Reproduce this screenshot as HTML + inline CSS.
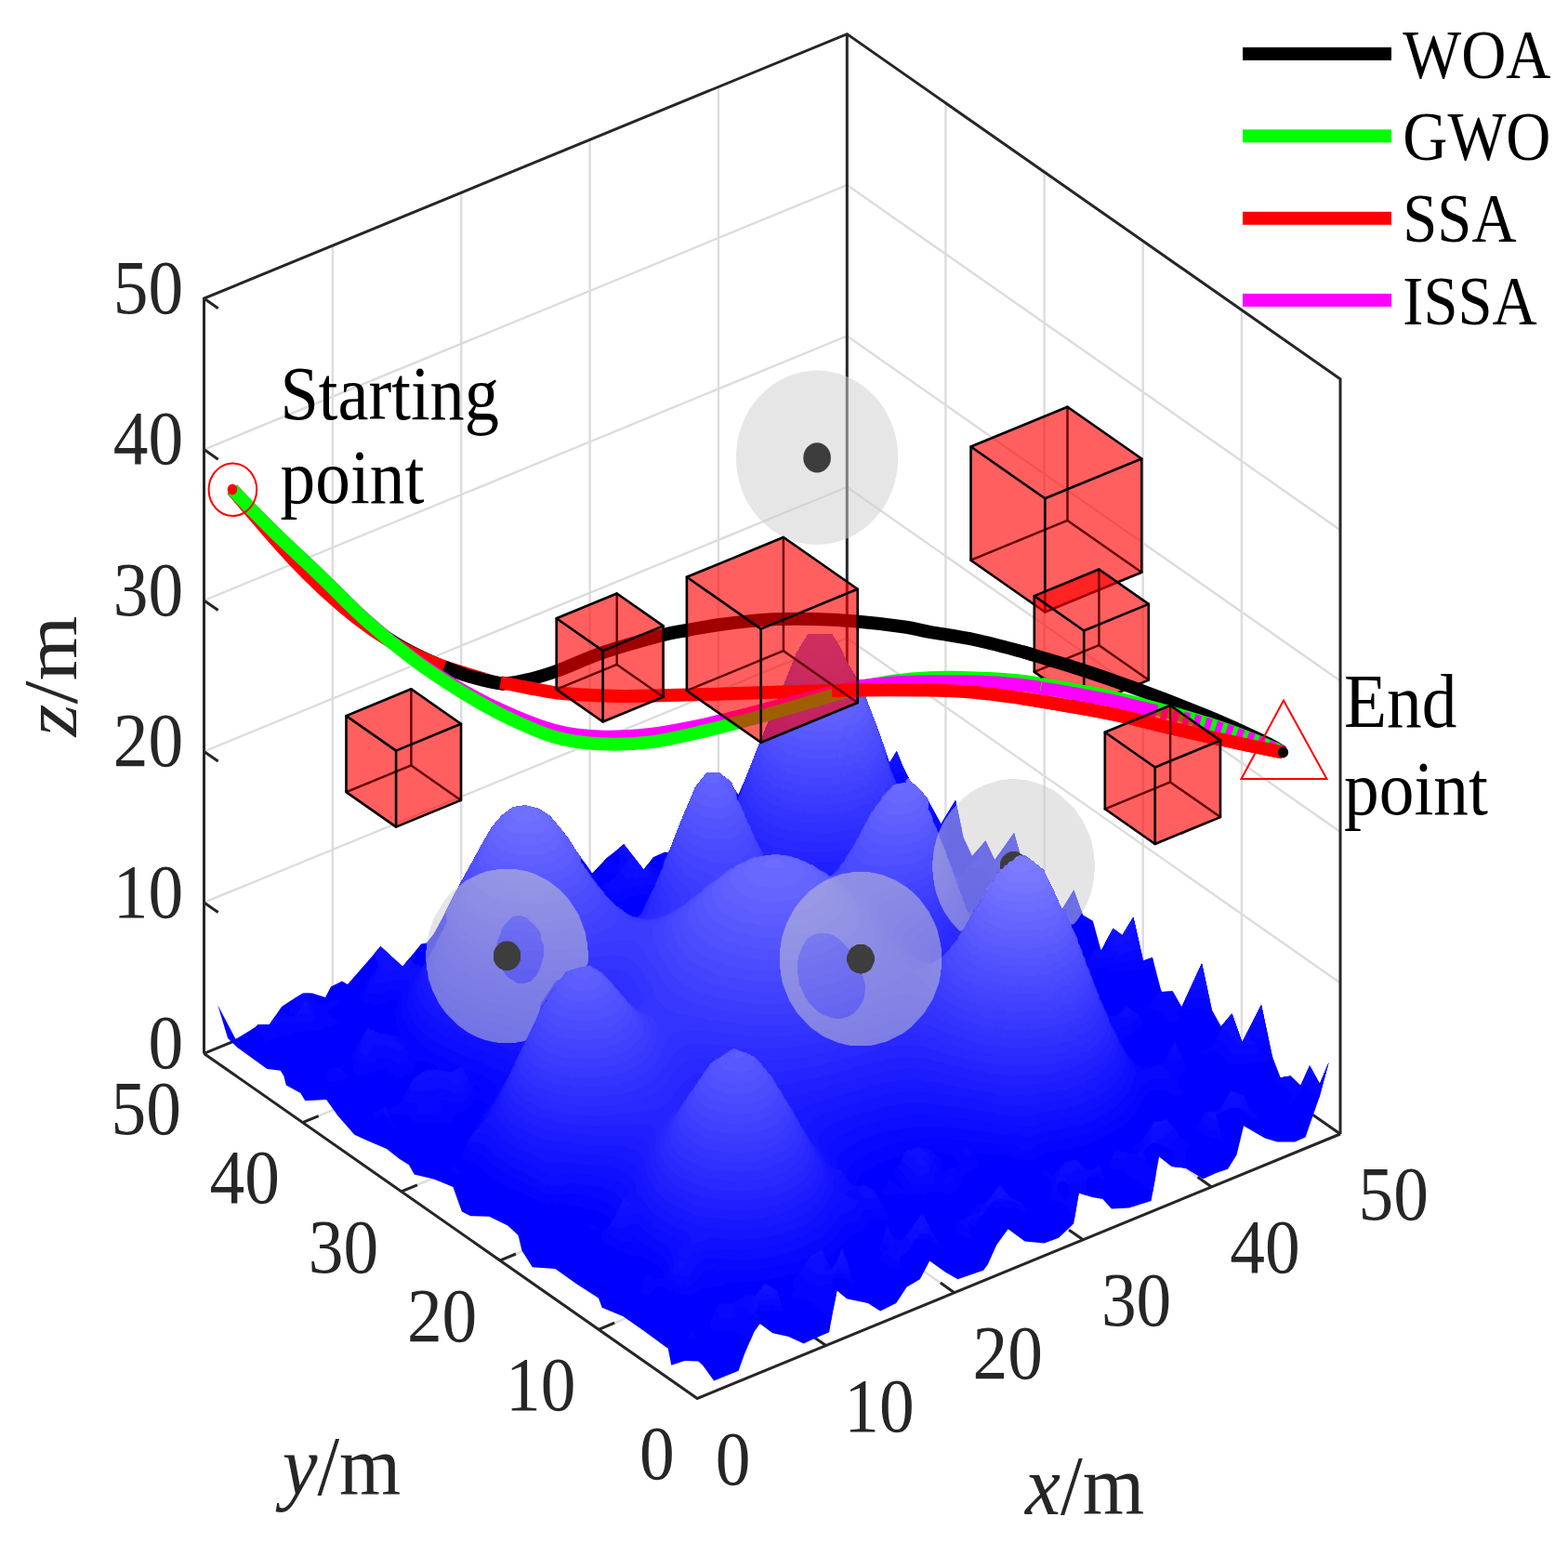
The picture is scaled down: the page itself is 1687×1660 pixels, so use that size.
<!DOCTYPE html>
<html lang="en"><head><meta charset="utf-8"><title>UAV path planning comparison</title>
<style>html,body{margin:0;padding:0;background:#fff;overflow:hidden}svg{display:block}text{font-family:"Liberation Serif","Times New Roman",serif}</style></head>
<body><svg xmlns="http://www.w3.org/2000/svg" width="1687" height="1660" viewBox="0 0 1687 1660">
<rect width="1687" height="1660" fill="#fff"/>
<g id="grid"><line x1="888.6" y1="1447.6" x2="357.9" y2="1076.5" stroke="#dcdcdc" stroke-width="2.4"/><line x1="644.1" y1="1430.3" x2="1335.9" y2="1145.8" stroke="#dcdcdc" stroke-width="2.4"/><line x1="357.9" y1="1076.5" x2="357.9" y2="264.2" stroke="#dcdcdc" stroke-width="2.4"/><line x1="219.5" y1="970.9" x2="911.3" y2="686.4" stroke="#dcdcdc" stroke-width="2.4"/><line x1="1335.9" y1="1145.8" x2="1335.9" y2="333.5" stroke="#dcdcdc" stroke-width="2.4"/><line x1="1442" y1="1057.5" x2="911.3" y2="686.4" stroke="#dcdcdc" stroke-width="2.4"/><line x1="1026.9" y1="1390.7" x2="496.2" y2="1019.6" stroke="#dcdcdc" stroke-width="2.4"/><line x1="537.9" y1="1356.1" x2="1229.7" y2="1071.6" stroke="#dcdcdc" stroke-width="2.4"/><line x1="496.2" y1="1019.6" x2="496.2" y2="207.3" stroke="#dcdcdc" stroke-width="2.4"/><line x1="219.5" y1="808.5" x2="911.3" y2="524" stroke="#dcdcdc" stroke-width="2.4"/><line x1="1229.7" y1="1071.6" x2="1229.7" y2="259.3" stroke="#dcdcdc" stroke-width="2.4"/><line x1="1442" y1="895.1" x2="911.3" y2="524" stroke="#dcdcdc" stroke-width="2.4"/><line x1="1165.3" y1="1333.8" x2="634.6" y2="962.7" stroke="#dcdcdc" stroke-width="2.4"/><line x1="431.8" y1="1281.8" x2="1123.6" y2="997.3" stroke="#dcdcdc" stroke-width="2.4"/><line x1="634.6" y1="962.7" x2="634.6" y2="150.4" stroke="#dcdcdc" stroke-width="2.4"/><line x1="219.5" y1="646" x2="911.3" y2="361.5" stroke="#dcdcdc" stroke-width="2.4"/><line x1="1123.6" y1="997.3" x2="1123.6" y2="185" stroke="#dcdcdc" stroke-width="2.4"/><line x1="1442" y1="732.6" x2="911.3" y2="361.5" stroke="#dcdcdc" stroke-width="2.4"/><line x1="1303.6" y1="1276.9" x2="772.9" y2="905.8" stroke="#dcdcdc" stroke-width="2.4"/><line x1="325.6" y1="1207.6" x2="1017.4" y2="923.1" stroke="#dcdcdc" stroke-width="2.4"/><line x1="772.9" y1="905.8" x2="772.9" y2="93.5" stroke="#dcdcdc" stroke-width="2.4"/><line x1="219.5" y1="483.6" x2="911.3" y2="199.1" stroke="#dcdcdc" stroke-width="2.4"/><line x1="1017.4" y1="923.1" x2="1017.4" y2="110.8" stroke="#dcdcdc" stroke-width="2.4"/><line x1="1442" y1="570.2" x2="911.3" y2="199.1" stroke="#dcdcdc" stroke-width="2.4"/></g>
<g id="box"><polyline fill="none" stroke="#262626" stroke-width="3.0" stroke-linejoin="miter" points="219.5,1133.4 219.5,321.1 911.3,36.6 1442,407.7 1442,1220"/><line x1="911.3" y1="36.6" x2="911.3" y2="848.9" stroke="#262626" stroke-width="3.0"/><line x1="219.5" y1="1133.4" x2="911.3" y2="848.9" stroke="#262626" stroke-width="3.0"/><line x1="1442" y1="1220" x2="911.3" y2="848.9" stroke="#262626" stroke-width="3.0"/></g>
<g id="axes"><polyline fill="none" stroke="#262626" stroke-width="3.0" stroke-linejoin="miter" points="219.5,1133.4 750.2,1504.5 1442,1220"/><line x1="219.5" y1="970.9" x2="234.7" y2="981.5" stroke="#262626" stroke-width="3.0"/><line x1="644.1" y1="1430.3" x2="661.2" y2="1423.2" stroke="#262626" stroke-width="3.0"/><line x1="888.6" y1="1447.6" x2="873.4" y2="1437" stroke="#262626" stroke-width="3.0"/><line x1="219.5" y1="808.5" x2="234.7" y2="819.1" stroke="#262626" stroke-width="3.0"/><line x1="537.9" y1="1356.1" x2="555" y2="1349" stroke="#262626" stroke-width="3.0"/><line x1="1026.9" y1="1390.7" x2="1011.8" y2="1380.1" stroke="#262626" stroke-width="3.0"/><line x1="219.5" y1="646" x2="234.7" y2="656.6" stroke="#262626" stroke-width="3.0"/><line x1="431.8" y1="1281.8" x2="448.9" y2="1274.8" stroke="#262626" stroke-width="3.0"/><line x1="1165.3" y1="1333.8" x2="1150.1" y2="1323.2" stroke="#262626" stroke-width="3.0"/><line x1="219.5" y1="483.6" x2="234.7" y2="494.2" stroke="#262626" stroke-width="3.0"/><line x1="325.6" y1="1207.6" x2="342.7" y2="1200.6" stroke="#262626" stroke-width="3.0"/><line x1="1303.6" y1="1276.9" x2="1288.5" y2="1266.3" stroke="#262626" stroke-width="3.0"/><line x1="219.5" y1="321.1" x2="234.7" y2="331.7" stroke="#262626" stroke-width="3.0"/></g>
<g id="sphere1"><ellipse cx="879.1" cy="492.3" rx="87.2" ry="93.7" fill="#cecece" fill-opacity="0.515"/><ellipse cx="879.1" cy="492.4" rx="14.8" ry="16.1" fill="#3d3d3d"/></g>
<g id="terrain"><defs><clipPath id="tc"><polygon points="245.1,1116.9 234.3,1081.3 253.6,1118 275.2,1104.8 277.5,1102.5 289.7,1102.4 303,1083.1 312,1077 325.8,1068.7 336,1068.5 350,1072.9 356,1061.4 368,1055.4 374,1059 409.5,1018.3 433.2,1040.1 453.1,1015.5 458.8,1014.5 466.4,1005 475.9,988 485.4,969 496.7,948.1 506.2,931 517.6,910.2 529,890.3 540.4,877 551.7,868.5 565,866.6 580.2,870.3 591.6,877.9 601.1,889.3 610.5,900.7 620,915.9 631.4,931 637.1,939.6 652.3,923.5 671.2,908.3 692.6,935.8 702.6,922.3 715.4,916.6 719,917.3 721.1,913.7 725.4,902.3 731,888.1 736.7,873.9 742.4,861.1 748.1,846.9 760.9,830.9 773,830.9 786.5,841.2 789.4,848.3 794.4,854.7 800.8,841.2 806.5,826.9 812.1,812.7 819.3,794.8 830,769 842.8,738.8 857.2,702.7 869.9,681.9 895.2,682.8 904.2,697.2 911.5,713.5 920.5,728 923.5,737 930.6,748.5 937,765.6 944.1,784.1 949.8,799.8 956.9,821.1 964.7,808.3 971.1,823.9 979.7,841 988.2,848.1 996.7,858.1 1003.9,870.9 1012.4,886.5 1028,860.9 1032.3,880.8 1036.6,900.8 1045.9,920.7 1060.3,904.4 1070.2,925.2 1091,896.3 1097.4,918.9 1104,921 1122.7,936 1132,955 1142.5,978.5 1155.3,957.5 1165,984.6 1175.9,991 1184.6,1022.5 1197.6,998.7 1207.4,1006.3 1219.3,986.7 1230,1033.4 1239.9,1030 1249.6,1067 1261.6,1066.6 1271.3,1083.3 1293,1036.6 1303.9,1086.5 1313.6,1103.9 1325.5,1090.4 1336.4,1121.2 1357,1081 1368.9,1136.4 1377.6,1159.2 1388.4,1157.6 1399.3,1167.8 1409,1146.2 1419.9,1165.7 1429.6,1142.9 1419.7,1180 1413,1199 1404.5,1223.6 1393.1,1228.4 1374.2,1228.4 1360.9,1224.6 1338.1,1211.3 1330.5,1242.6 1321,1257.8 1309.7,1261.6 1294.5,1268.2 1275.5,1256.8 1260.4,1254.9 1247.1,1244.5 1238.5,1291.9 1214.8,1299.5 1195.9,1300.4 1186.4,1290 1175,1288.1 1160.8,1283.4 1155.1,1316.6 1139,1331.7 1123.5,1337.4 1102.6,1335.5 1084.6,1322.2 1072.3,1339.3 1062.8,1360.2 1058,1366.8 1030.5,1376.3 1017.3,1368.7 1000.2,1356.4 989.8,1376.3 975.5,1384.8 964.2,1401.9 947.1,1410.4 933.8,1401.9 911,1397.2 900.6,1388.6 895.9,1411.4 892.1,1433.2 876.9,1439.8 864.6,1445.5 848.5,1438 831.4,1434.2 817.5,1424.1 811.4,1432.5 800.6,1457.8 794.6,1474.7 768.1,1485.5 756,1468.7 751.2,1464.5 736.7,1463.9 722.3,1468.7 718.7,1450.6 716.9,1449.5 692.3,1431.5 670.5,1416.3 647.7,1406.8 643.9,1396.4 620.2,1381.2 597.4,1365.1 572.8,1363.2 561.4,1345.2 557.6,1329.1 546.2,1318.6 526.3,1308.8 506.4,1308.2 496.9,1303.5 487.4,1276.9 466.6,1268.4 445.7,1263.6 440,1253.2 430,1247 416,1236 395,1227 381.3,1220.8 363.2,1200 351.1,1183.1 328.3,1184.3 323.4,1175.9 307.8,1167.5 305.4,1157.8 301.7,1151.8 287.3,1150 254.8,1126.5"/></clipPath></defs>
<polygon points="245.1,1116.9 234.3,1081.3 253.6,1118 275.2,1104.8 277.5,1102.5 289.7,1102.4 303,1083.1 312,1077 325.8,1068.7 336,1068.5 350,1072.9 356,1061.4 368,1055.4 374,1059 409.5,1018.3 433.2,1040.1 453.1,1015.5 458.8,1014.5 466.4,1005 475.9,988 485.4,969 496.7,948.1 506.2,931 517.6,910.2 529,890.3 540.4,877 551.7,868.5 565,866.6 580.2,870.3 591.6,877.9 601.1,889.3 610.5,900.7 620,915.9 631.4,931 637.1,939.6 652.3,923.5 671.2,908.3 692.6,935.8 702.6,922.3 715.4,916.6 719,917.3 721.1,913.7 725.4,902.3 731,888.1 736.7,873.9 742.4,861.1 748.1,846.9 760.9,830.9 773,830.9 786.5,841.2 789.4,848.3 794.4,854.7 800.8,841.2 806.5,826.9 812.1,812.7 819.3,794.8 830,769 842.8,738.8 857.2,702.7 869.9,681.9 895.2,682.8 904.2,697.2 911.5,713.5 920.5,728 923.5,737 930.6,748.5 937,765.6 944.1,784.1 949.8,799.8 956.9,821.1 964.7,808.3 971.1,823.9 979.7,841 988.2,848.1 996.7,858.1 1003.9,870.9 1012.4,886.5 1028,860.9 1032.3,880.8 1036.6,900.8 1045.9,920.7 1060.3,904.4 1070.2,925.2 1091,896.3 1097.4,918.9 1104,921 1122.7,936 1132,955 1142.5,978.5 1155.3,957.5 1165,984.6 1175.9,991 1184.6,1022.5 1197.6,998.7 1207.4,1006.3 1219.3,986.7 1230,1033.4 1239.9,1030 1249.6,1067 1261.6,1066.6 1271.3,1083.3 1293,1036.6 1303.9,1086.5 1313.6,1103.9 1325.5,1090.4 1336.4,1121.2 1357,1081 1368.9,1136.4 1377.6,1159.2 1388.4,1157.6 1399.3,1167.8 1409,1146.2 1419.9,1165.7 1429.6,1142.9 1419.7,1180 1413,1199 1404.5,1223.6 1393.1,1228.4 1374.2,1228.4 1360.9,1224.6 1338.1,1211.3 1330.5,1242.6 1321,1257.8 1309.7,1261.6 1294.5,1268.2 1275.5,1256.8 1260.4,1254.9 1247.1,1244.5 1238.5,1291.9 1214.8,1299.5 1195.9,1300.4 1186.4,1290 1175,1288.1 1160.8,1283.4 1155.1,1316.6 1139,1331.7 1123.5,1337.4 1102.6,1335.5 1084.6,1322.2 1072.3,1339.3 1062.8,1360.2 1058,1366.8 1030.5,1376.3 1017.3,1368.7 1000.2,1356.4 989.8,1376.3 975.5,1384.8 964.2,1401.9 947.1,1410.4 933.8,1401.9 911,1397.2 900.6,1388.6 895.9,1411.4 892.1,1433.2 876.9,1439.8 864.6,1445.5 848.5,1438 831.4,1434.2 817.5,1424.1 811.4,1432.5 800.6,1457.8 794.6,1474.7 768.1,1485.5 756,1468.7 751.2,1464.5 736.7,1463.9 722.3,1468.7 718.7,1450.6 716.9,1449.5 692.3,1431.5 670.5,1416.3 647.7,1406.8 643.9,1396.4 620.2,1381.2 597.4,1365.1 572.8,1363.2 561.4,1345.2 557.6,1329.1 546.2,1318.6 526.3,1308.8 506.4,1308.2 496.9,1303.5 487.4,1276.9 466.6,1268.4 445.7,1263.6 440,1253.2 430,1247 416,1236 395,1227 381.3,1220.8 363.2,1200 351.1,1183.1 328.3,1184.3 323.4,1175.9 307.8,1167.5 305.4,1157.8 301.7,1151.8 287.3,1150 254.8,1126.5" fill="#0000ff"/>
<g clip-path="url(#tc)">
<path fill="#0404ff" d="M743,1431l-2.5,8.5 1,1 4.5,.5 0-1.5 1.5-.5 .5,2 4.5,4-2.5-3-1-3.5zM837,1389l-2-2-6.5-3-.5-1-5-2-.5,1-2.5,1-1,3.5-3,1.5-1,3.5-2,.5-1.5,2-.5-1-7.5,0-2-1-2,3-5,2-6,5-14,0-3.5,4.5-5,11.5-1.5,1.5 .5,2.5-1.5,2.5 1,1-.5,1 .5,2.5 1.5,1 1.5,0 .5,2 1,0 0-1.5 1.5-1.5 .5,2 2,.5 .5,2 .5-2 1.5,.5 5-1 10,1 11.5,5.5 8.5,8 1-2.5 1-.5 0-2.5 1-.5 1-3.5 2-1.5 0-1.5 2.5-2.5-1-1 0-6.5-1-.5 0-6-4-5 2-2.5 0-2 1.5,0 5,5 1-2 5,2 1.5-1.5 2,0 4.5,2 .5-1.5 1.5-1 .5,1.5 2,.5 3-3zM993,1305l-4,3-2,4.5-4,3.5-1,3.5-5,4.5 0,1.5-5,5.5 0,1.5-2.5,1.5-3,0-4-2-1.5-3-3-2.5-3-8.5-1,0-1,4.5-1,.5 0,3.5-1,.5 0,3.5-1,.5-3,8.5 .5,3-1.5,1 .5,4 2-1.5 1.5,.5-1,.5-1,4.5-1,1 0,2.5 2,2 7.5,6 15.5,3-3-3 0-2-1-.5 0-8 6.5-3.5 3.5-3.5 2-5 3-2.5 0-1.5 1-.5 0-1.5 1.5-1.5 10,0 7,2 9.5,7-7-14-2-1.5zM1106,1303.5l-6.5-10.5-1.5-1-4.5,0-1.5-2-3.5-1-8.5-8.5 0-1.5-5-5-1,2.5-3,2.5-1,3.5-6,6.5-.5,2-1.5,0-2.5,3-6.5,1-3,1-6,9.5 2,1-1.5,1.5-1.5,0-.5,1-2.5,0-1.5,2-5,1-7,8.5 1.5,.5 3,6.5 6.5,3.5 6,2 2,0 1,1-2.5-8 1-6.5 4.5-1 8.5-13 3-2.5 0-1.5 2.5-1.5 1,1 2.5-1.5-.5-1 1-1 1.5,2 4,0 .5,2 0-1.5 2-2 1,2 1-1 6.5,.5 .5,2 1.5-2.5 1.5,2 1-2 2,0 12.5,6zM488,1253l-4.5,6 6.5,2.5 2.5,2.5 2-1.5-1.5-4zM1156,1247l-.5,1-6.5,1-.5,1-4.5,1-1,2.5-3,1.5-1,3.5-3,2-2.5,4.5-3-3-1.5,0-1.5-2-4-2-3,4 8.5,6 1.5,2.5 0,8 1.5,1-2,6 0,3.5 2,2-1,2.5 3-1.5 10,3.5 4.5,2.5 4.5,8.5 6.5,7.5 0-2 1-.5 0-5.5 1-.5 0-4.5 1-.5 0-5.5 1-.5 0-5.5 2.5-.5 .5,1 3.5,1-1-2 0-17 2-4 2.5-2 5.5,.5 5.5,2 4,0 .5-.5-2-3 0-2-4-9.5-6.5,5-5,0-5-2-5.5-5.5 0-1.5-2-2zM1142.5,1271l4,1 3.5,3.5 0,9-3,5-.5,3-2-2 .5-1.5-3-2.5 0-1.5-5-5 0-2.5 2-5zM1256,1204l-3,0-3.5,2-3.5,0-.5,1-4.5,0-1,1-4,8.5-3,2.5 0,1.5-3,3 0,1-8,6.5-5,2.5 4.5,6-.5,1.5-8.5-1-1-1-5,0-4-2-3,0-7,17.5 1-.5 1.5,2.5 3.5,1.5 3-.5 8,1.5 3.5,4.5 9.5,6.5 2,2.5 1.5,0 1.5,2 11.5,6.5 4.5,4 1,0 1-10 1-.5-.5-5.5-4-8-2-1.5 0-1.5-4-4.5-1-3.5-2-1.5 0-2-2-4 0-4 3-2.5 0-1.5 5.5-4.5 5,0 .5,1 2.5,0 4,2 2,2 3,0 1.5,2 3.5,1 2,3-1,1.5 0,17 7.5,0 .5,1 4,0 1-19.5 2-3.5 0-4 2-2-2.5-4-2-.5-8-8 0-2-4-3.5 0-1.5-5-4.5 0-1.5zM1354.5,1202.5l-2.5-1.5 0-1.5-1,0-5-6-7-15.5-5.5-1-2.5-2-7-1-3,4 0,1.5-2,1.5-3,6.5-6.5,6.5-3,2-10.5,0-6,11.5-2.5,3 0,2 1.5,1 0,2 9.5,6.5 13.5,4 2.5,0 1,1 .5-1.5-3-7 0-3-2-4 0-5-1-1 0-2.5-1-.5 0-3 1.5-1.5 4.5-.5 .5,1 .5-2 1.5,0 3-2 1,.5 3-3 9.5,0 1.5,2.5 2-.5 6,6 1,0 4,5 1.5-1.5 3.5,0zM352,1151.5l.5,1-1,1 0,1.5 1.5,.5-1,2.5 1.5,4 2.5,2 8.5-.5 8.5-3.5 .5-3.5-2.5-1.5-5.5-7-5.5,0-1.5,1-5,0zM1433.5,1140.5l-6,0-3,6 0,2.5-3.5,6.5-2,0-6.5-12-6,0 0,1.5-1,.5 0,1.5-1,.5 0,1.5-1,.5 0,1.5-2,2.5 0,2.5-1,.5-1.5,4-3,0-4.5-5-10.5,0-6,8 2.5,4.5 3.5,2.5 9.5,4.5 0,4-2.5,5.5 .5,3 4,1-3-2.5 0-1 3.5-2.5 1-3 6-6 1-3 3-2.5 11,10 4.5,2 .5,2 2,1.5 0,1.5 1.5-.5 1-6.5 1-.5 0-3.5 1-.5 1-6.5 1-.5 0-3.5 1-.5 0-3.5 1-.5 1-6.5 1-.5 0-3.5 1-.5zM1360.5,1078.5l-6,0-1,1-8,17.5-2,1.5-2,5.5-1,.5 0,1.5-1,.5 0,1.5-1,.5-.5,2-2.5-2.5-1-6.5-1-.5 0-2.5-1-.5 0-2.5-1-.5 0-2.5-1-.5-1-4.5-6,0-7,8 .5,2.5 1,.5 0,3-3,2.5 0,1.5-4,4.5-4,8.5 1,1-2,4-4.5,4-5,2-1.5,2-1,0 0,1.5 3-.5 2.5-2.5 1,1 8,0 6,3 1.5,1.5 2,4.5 3,3.5 4,1 19,.5 .5-2 1,2 1.5-2 2,1.5 0,2 2-3 1.5-1.5 1.5,0 .5-1 .5,2 6-1 12-6.5-.5-.5 0-3.5-1-.5 0-3.5-1-.5-1-9.5-1-.5 0-3.5-1-.5 0-4.5-1-.5 0-3.5-1-.5 0-4.5-1-.5 0-3.5-1-.5 0-4.5-1-.5 0-4.5-1-.5zM366,1079l-1-1.5-5.5-3.5-7.5,6-8,.5-9-8-1-6-10.5,0-6,3-1.5,2-1,0 2,4-4,8-2,2 0,2.5 1,2.5 4.5,1.5 0,1-6,0-7-5-7,6-3-3-1,.5 0,1.5-2,1.5 0,1.5-2,1.5-.5,2-5.5,0-.5,1-6.5,0-.5,1-1.5,0-1.5,2-1,0 1,2-1,4.5 9.5,0 .5,4 3.5,4.5 0,2 1,1 10.5-5.5 8-2 4,.5 7.5-3.5 4.5-1 2,1 0,1.5 2-3 5,.5 1.5,2 1-3 1,0 .5,1 2-1 5.5,1 12-5 13.5-4.5 0-1-9-5.5-4.5-5 1-3 6-2.5zM1296.5,1034.5l-6,0-18.5,39-2.5-.5 0-1.5-1-.5 0-1.5-1-.5 0-1.5-1-.5-1-2.5-16-.5-6.5,6.5-5,10-4.5,5 1,1 3-.5 7.5,2.5 4.5,.5 .5,2 2,.5 0,2.5 2.5,3.5 3.5,1.5 1.5,2 .5-2 1.5-1 2,1.5 3,0 1.5,1-.5-2 .5-3.5-3-5 1.5-.5 0-2 3.5-3.5 1,2 1,0 .5-2 1,2 2.5,0 .5-2 .5,2 1.5,1 .5-2 1.5,0 0,1.5 4.5-1.5 3,0 3.5-3 .5,3 1.5,0 1-2 2,4.5 .5-1.5 1-1 1.5,2 2-3 1,3 5-2zM867.5,679l-11.5,17.5-4,8-3,10-6,13-1,5-2,2.5 0,2.5-3,4.5 0,2.5-4,6.5 0,2.5-3,4.5 0,2.5-3,4.5 0,2.5-6,11.5 0,2.5-2,2.5 0,2.5-3,4.5 0,2.5-2,2.5 0,2.5-2,3-1,5-5,11-2,8-8,16-.5,3.5-2.5,1.5-.5-2-1-.5 .5-3.5-2-3.5-1.5,0-2.5-3-1.5,0-7.5-6-19,0-2,2 0,1.5-5,4.5 0,1.5-6,6.5-3,6 0,2.5-3,4.5 0,2.5-2,2.5 0,2.5-3,5.5 0,2.5-3,4.5 0,2.5-3,4.5 0,2.5-6,11.5-3,11.5-2,3 0,1.5 2,1.5 0,2-1,.5 0,2.5-1,.5 0,1.5-2,2.5-2,8.5-1,.5 0,1.5-1.5,1.5-4-2-.5-2-2.5,0-3-2-2,0-3-4-1,.5 0,1.5-1.5,.5-18.5-24-6,0-2.5,3-1.5,0 .5,3.5 1,.5 0,7.5 1,.5 0,4-1,1 0,3-1.5,2.5-3,0-3.5-3.5-3-7.5-2-1.5-3.5,3-.5,2.5 1,.5 1,9.5-3,3.5 2,1.5 0-1.5 1-.5 0,1.5 8,2.5 2.5,0 1.5,1.5-6.5,3.5-2,3-5,2-1.5,2.5 0,2-1.5,1.5-.5-2-4-3.5 0-1.5-6-6.5 0-1.5-2-1.5 0-1.5-2-1.5 0-1.5-3-2.5-1-3.5-3-2.5 0-7 1-.5 1-3-4-4.5-1-3.5-2-1.5-4-8.5-4-3.5 0-1.5-5-4.5 0-1.5-4-3.5 0-1.5-5-4.5 0-1.5-6.5-5-1,0-7-5-7-1-1-1-4,0-1-1-11,0-1,1-9,1-11.5,7-9,10 0,1.5-4,3.5-9,18.5-2,1.5-2,5.5-2,1.5-2,5.5-2,1.5-2,5.5-2,1.5-7,15.5-2,1.5-2,5.5-6,9-8,16-.5,3.5-1,.5 0,1.5-1,.5 0,1.5-1,.5 0,1.5-2,2.5 0,1.5-2,1.5 0,1 5.5,4 1,0 .5-2.5 .5,2 1,0 0,2.5-3,3.5 0,1.5-1,.5 0,1.5-1,.5 0,1.5-1,.5 0,1.5-1,.5 0,1.5-1,.5 0,1.5-1,.5-2,5.5-2,1.5 0,1.5-1,.5 0,1.5-1,.5-2,5.5-2,1.5 0,1.5-3,3.5 0,1.5-2.5,1.5-.5-1-2.5,0-4-2-7.5-9-5,5.5-2,0-18.5-18-6,0-6.5,8 3,5 0,3.5 1,.5 0,3.5 1,.5 0,4-5,5.5-4,7.5-3.5,4-.5,4-1,1-1,3-3.5,4 .5,1.5-2,1.5 2,1 0,2.5 3,2 6.5,1 5.5,2 5.5,0 11-5 5-1 2.5,3.5 0,3.5-2,4 1,15 1,4.5 5,10-3.5-.5-1-1-4,0-1-1-13-1-2.5-2-3.5,0-1.5-2-3.5,0-1.5-2-2,0-2,4.5-2,1.5-2,5.5-4,5-1,3.5-4,4.5-2,7.5 1.5,4.5-.5,1 1,1-.5,3.5 1,4 4,4 3,1 14-3 1.5-2 3-1 7-1 6,5 4.5,0 1,1.5-.5,1 .5,.5 0-1.5 1-.5 .5,3 1.5,1 0,1.5 1.5,0-.5-2 1-1 1,.5 4.5-.5 2-1 2-2.5 4.5-2 1.5-3.5 1.5-7 2.5-2 8.5,1.5 12.5,5 2.5,3-.5,1-13,0-6,3-1.5,2-3.5,1-6,7-2,4 0,2.5-5,7-2,4 0,2-2.5,3.5-10,5-1.5,2-2.5,0-1.5-4-1,0-3.5,3-2,0-3,3-2.5,0-1,6 3,0 5.5-2 1-1 5.5,4.5 3,4 4.5,10 2-1.5-7.5-14.5 3-3.5 10.5,0 6,1.5 5.5,7.5 4,2 5.5-.5 3-1.5 3,2 2-3 2,3 0-1.5 1.5-1 1.5,3 .5-2 2,2 1-2.5 1.5,2 3-2 1.5,1 1,3 1.5-4 1,2 2.5,0 4.5-2.5 1.5-2-1-4 1-1 5.5-1.5 8-5 6-1.5 1.5-2.5-.5-3 1.5-3 5.5,0 8.5,5-1,4.5-11,18.5-1.5,5.5-1.5,1.5 0,1.5-4,3.5-1,4.5-1,.5 0,2.5-4,6.5 0,3-1.5,4-1,.5 6,4 10.5,3.5 11.5,12 11,8.5 29.5,13.5 5.5,1 4,3 5,1 1,2 4.5,1.5-1.5,.5 1,1 0,1.5 0-2.5 2-2 .5,2 1.5,1 0,1.5 1.5-2.5 1,0 1,2 1.5-3 1.5,3 2-2 1.5,3.5 .5-2 2-1.5 .5-2 1,3 4.5-1 11,2 24.5,6 10,5.5 4.5,5-1,.5 1,2-4.5,6-1-.5-4.5,2-5-2.5-1.5-2.5-4-1-3.5,2 3,2.5 9,2 2,1.5 0,4.5 2,6.5 7,4 4,1.5 2,2 .5,1.5 3-.5 11.5,5.5 13.5,1.5 10.5,5 5,3 8.5,9.5 .5,4.5-2.5,2-8,0-8.5-6-3,5.5 .5,1-2,2 .5,2-1,1 1,0 1,2-3.5,7 1.5,2 7,1.5 8.5-8.5 6.5-1 5.5,2.5 2,2 1,3-.5-3 3-1 4.5,4 0,2 2-5 1,3 5.5,1.5 .5,2 .5-2 4,.5 4-1 2.5-3 3.5-1 2.5-2 20.5-3 12-5 18.5-.5 19.5-1.5 15-3 18.5-5 .5,.5-6,9-.5,2.5 2,5 0,2.5-3,5.5 .5,1.5 2.5,1.5 2.5,0 4.5,2 5,0 5.5,2 21.5,18 4,6 0-2 1-.5 0-5.5 1-.5 0-4.5 1-.5 1-8.5 1-.5 0-3.5-1.5-2.5 0-2.5-2-1.5-3-6 0-10 2-2.5 11,2 5.5,3 3,0 .5,1 1-1.5-2-3 0-2.5-2-2.5 0-3.5-1-.5 0-3.5-1-.5-1-5.5-4-7.5-1-6.5-2,1-1,4.5-1,.5 0,2.5-1,.5 0,1.5-1,.5-2,5.5-4.5,5.5-4.5-8.5 1-2.5-1-1.5 2,.5 9-7.5 2.5-3 1.5,0-1-1 2-1 8.5-11 13.5-4.5 3-4 1-4 3.5-4.5 18.5-.5 1.5-1.5 0-3-1-.5-.5-3-8-14.5-2-2 0-1.5-2-1.5-1-3.5-2-2-2.5,0-1.5-2-2.5,0-1.5-2-4,0-.5,1-2.5,0-.5,1-.5-1-2-1 4-8 4-5 15-9.5 11-4.5 12-3.5 4-2.5 0,2.5-2,2.5 0,2.5-6,11 0,3.5 1,3.5-.5,1 3,0 1.5,1 0,2.5 3.5,4.5 0,1.5-2,1.5-6.5-6.5-1.5,0-5-5-2.5,4.5 0,1-2,1.5 0,1.5-3,4 .5,3-1,1.5 4,1 6.5,0 12-3 7.5,2 6,0 2.5-3 1,4.5 2.5-3 2,.5 1,2.5 2.5-3.5 2.5,1 3.5-2 5,0 9.5,2 9.5,0 3.5-3.5 0-3.5 1.5,1 1-.5-1-1 2-1.5 2,.5-1.5-3 .5-6.5 4-1.5 3-3.5 12-5.5 0-3.5-3-8 0-2.5 1-1 4.5-.5 18,3 10.5,.5 6.5,1.5 3,2.5 5.5,.5 .5-2 1.5,3.5 1,.5 .5-2 1,.5 6.5-.5 13-6.5 18.5-4.5 3,.5 22.5-5.5 11-4 16-7.5 15-9.5 11.5-11.5 7-10.5 3-9 7.5-6.5 9-1.5 7,2 7,4.5 4.5,.5 .5,2 1.5-2 2-1 1-2 2.5,2-1-3.5-2.5-5.5-1.5-.5-.5-6.5 1.5-4.5 7-9-1-.5 0-3.5-1.5-1 .5-1-3-5 0-2-3-5 0-2.5-4-8-2,2 0,2.5-6,12-2,1.5-1,3.5-4,4.5-3-1-2.5,2-5.5,1-.5,1-6-2-2,1-.5-1-4.5-1-1.5-1.5 1-1-3.5-1.5-10.5-11.5-4-9 1.5,.5 4-5 10.5-6-.5-2.5 1-1 1.5,1-1-2.5-1-.5 .5-1.5 3.5,3 1-3 2.5,0-3.5-11-3.5-4-5-2-1.5-3-4-2-2,0-1,3.5-5,4.5-.5,2-2,1-6,0-2-1-4.5-4.5 0-1.5-2-2.5 0-2.5-1-.5 0-1.5-1-.5 0-1.5-2-2.5-1-5.5-2-2.5 0-2.5-2-2.5 0-2.5-1-.5-1-4.5-1-.5 2-2-.5-2.5-1.5-1.5 1-1 0-2 9-4 1.5,0 1,2 1-2 1,1 0,2.5 .5-2.5 1.5-2.5 2,5.5 1,.5 0,1.5 1-1 0-3.5 1,0 2.5,3 1.5-5 .5,3 1,.5-1,1 1.5,.5 0,2.5 2-4 1,1 0,2 2-3 1,1 0,3 3-3.5 4,1 2.5-1.5 13-1.5 7-3 6.5-6 0-3.5-1-.5 0-1.5-11,.5 0-3.5-1-.5 0-3.5-1-.5 0-3.5-1-.5 0-3.5-1-.5 0-3.5-1-.5 0-4.5-1-.5 0-3.5-1-.5 0-3.5-1-.5 0-3.5-1-1-1-6-6,0-10,16-5-4-6,0-1,1-4,9.5-2,1.5-.5,2 0,4.5 2,2.5-4.5,3.5-7,0-1.5,1.5-4,7-3.5,8.5-.5-2-1-.5 0-2.5-1-.5 0-2.5-1-.5-1-4.5-1-.5 0-2.5-1-.5-1-4.5-2-2.5-1-5.5-2-2.5 .5-4-.5,1.5-1-.5 1-6-2-1.5 0-3 1.5-2 2.5,0 9,2 4-.5 2.5,2 2-2.5 2.5,0 1.5-1-1-2.5-11-5.5-1-4.5-2-2.5-1-5.5-2-2.5 0-2.5-1-.5 0-2.5-2-2.5-1-4.5-6,0-1,2.5-1,.5 0,1.5-1,.5 0,1.5-2,1.5-2,5.5-2.5-.5 0-1-2-2.5 0-2.5-14-29-16.5-13.5-1.5,.5-3.5-3-3.5,0-2.5-2.5 0-3.5-1-.5 0-3.5-1-.5 0-3.5-1-.5 0-3.5-1-.5 0-3.5-1-2-6,0-1,1 0,1.5-6,6.5 0,1.5-5,5.5 0,1.5-2,1.5 0,1.5-2.5,2.5-2.5-1.5 0-1.5-1-.5 0-1.5-1-.5 0-1.5-1-.5 0-1.5-1-.5-2-5.5-3.5,0-7,14-3,11-4.5,2.5-6.5,5-4,9-4.5-1-1-1-3,0-.5-2-1-.5 0-2.5-1-.5 0-2.5-2-2.5-1-5.5-2-2.5 0-2.5-1-.5 0-2.5-1-.5-1-5 2.5,.5 4.5-6 .5-6 1.5-2.5 13.5-7.5-1-1 0-3.5-1-.5 0-3.5-1-.5 0-4.5-1-.5 0-4.5-1-.5 0-4.5-1-.5-1-7.5-6,0-2,4.5-4,4.5-1,3.5-2,1.5-1,3.5-2.5,2.5-1.5-.5-10.5-23-13-14-1.5,0-3.5-3-1-3.5-2.5-2.5-7-14 0-2.5-1-.5 0-2.5-2-3-1-4-6,0-2,4-2,2-1-.5 .5-2.5-4-10 0-2.5-2-2.5 0-2.5-3-5.5-1-5.5-4-7.5 0-2.5-3-5.5 0-2.5-1-.5-1-5.5-2-2.5-1-5.5-9-15.5 0-2.5-1-.5 0-2.5-2-4-7-9.5-10-21-4-5-3-6-1.5-1.5zM1005,1240l2-1 1.5,1.5 1.5-.5 6.5,2 9,0 1,4 7.5,7 0,1.5-3.5,.5-1,1-4,0-6.5,2-.5,1-5,0-1.5-3.5 1-8zM509.5,1168.5l4,0 2.5,2.5 1,2.5-2.5,1.5-4.5-4.5zM698,965l0,1.5-1,.5 0,1.5-1,.5 0,1.5-1,.5 0,1.5-1,.5 0,1.5-1,.5 0,1.5-1,.5-2,5.5-4.5,4.5-5-1-.5-1-5.5-2-1.5-2-1.5,0-2.5-3-1.5,0-2.5-3-1.5,0-3.5-3.5 1.5-1.5 2-1 4,.5 1,1 2.5-2 1.5,.5 1-2.5 8-2 4,.5 2-3 1.5,2 5.5-2 1.5,1 .5,2.5 .5-1zM1060,956l1,3.5-4,4.5-2,5.5-2,1.5-1,3.5-3,2.5-1,3.5-1.5,1.5-.5-1-4.5,0-1.5-4-1-.5-1-5.5-2-2.5-1-5.5-1-.5 0-1.5-1-1 6-1.5 2-2.5 7.5-2 4,0 6,2.5-.5,1 .5-1.5zM791.5,848l2.5,1.5 0,2.5 1,0 .5-2 2.5,.5-1,.5 0,2.5-1,.5 0,1.5-2,2.5-.5,3-.5-4-1-.5z"/>
<path fill="#0808ff" d="M837,1389l-2-2-3.5-1-1.5-2-6.5-3-3.5,2.5-1,3-3,1.5-1,3.5-3.5,2.5-1-1-7,.5-2-1-2,3-5,2-3.5,4-1.5,0-.5,1-14.5,0-3,4-1,3.5-1,.5 3.5,2.5 .5,2.5-.5,4.5 .5,1 7-2 10-.5 1.5-3-1-9.5 1-1 9,3 5,5 5.5,3.5 5,.5-1-2.5-2.5-2.5 3.5-8 1,1 1-1 4.5,1 7.5-1 1,1 0-1.5 1.5-.5 .5,2 3.5-.5 .5,3 2.5-3 .5-3-1-1zM993,1305l-4,3-2,4.5-4,3.5-1,3.5-5,5-2,4.5-3,2.5 0,1.5-2.5,1.5-3.5,0-5-3.5 0-1.5-3-2.5-2-4.5 0-2-2-2-2,5 0,3.5-1,.5 0,3.5-1,.5 .5,2-1,1 0,3.5-1,.5 0,1 2,0-.5-1.5 1,0 4.5,2 2,2.5-7,3 0,2-1,1 1,2 1-1.5 9,4 7,7 0-8 7-3.5 3-3 2.5-5.5 3-2.5 1-3 3-2.5 0-1.5 2-1.5 .5-2 2.5,0 1.5,2.5 .5-1.5 2.5,1.5 .5-1.5 3.5,0 8,8-3.5-7.5-2-2zM962,1342.5l3-.5 2,2-2.5,1-2-1zM1099.5,1293.5l-2-1.5-4.5,0-1.5-2-3-1-8.5-8.5 0-1.5-5-5-11.5,17-1,0-3.5,3.5-1.5,0-.5,1-4,0-1,1 4,6-3.5,3.5-3,0-1,1-8,2-2,2.5-5,1-1,3 2.5,1 1,2.5 1.5,1 1.5-1 .5,2 2.5,.5 .5,4 1,0 0-3-1-.5-.5-4.5 2-4 4,0 2.5-1.5 .5,1 2.5-.5 0-1.5 7.5-8.5 0-1 6.5-7.5 1.5-.5 1.5-2.5 .5,2 1.5,1 8-.5 0-2.5 3,2 2.5-1 2,2 7,1 5,3 1.5-.5zM956.5,1268.5l-2,4 1,2.5 5.5-1zM1014,1271.5l1.5,1.5 6,.5 4-2 1-2.5-2.5-3.5-4.5-.5-3.5,2.5zM1028,1256.5l-5.5,1-.5,1-2.5,.5-1,1.5 5.5,1.5 3-3zM1183,1253.5l-7,5-4.5,0-5.5-2.5-7.5-9-12.5,3-6,5.5-1,3.5-2.5,1.5-1,3.5-1,.5 1.5,1-1,4 1,1-1,2 1,1.5-3.5,5.5 1.5,1-.5,2.5 2.5-2 1.5-6.5 2-3 5.5-.5 5.5,4 0,4 1.5,0 0-2.5-1-2.5 6.5-2.5 8.5-1.5 2,1.5 .5,2.5 0-3 1-.5 1-3.5 6-6 4.5,0 5.5,3zM1196.5,1246l1,2 1-2 8.5,2 4.5-3 2-4-2-1.5-5,0-6.5-2.5-1.5,2.5 0,3.5zM1039,1234l-3.5,3.5 0,3.5 4.5,3 4.5,1 .5-2.5-1-4-3-4.5zM976.5,1237l-3.5,2.5-5.5,14.5-2,2.5 .5,1.5 3,1 1,3 4.5,2.5 .5,2 2,2 2,5 4.5,1.5 8-1 3,1 2.5-3 1.5,4.5 .5-2 1.5,.5 5.5-3.5 1-3-2-2 1-4 4-3-5-9 1-2 0-3.5 2-.5-1-2-4.5-3.5-1-2-2,0-.5-1-4.5,0-1-1-3,0-.5-1-6.5,1-4,2zM1256,1204l-3,0-3.5,2-3.5,0-.5,1-4.5,0-5,9.5-7.5,10 1.5,6 1.5,.5 .5,1-3,2 0,2-5,2.5-.5,3.5 1.5,1 7.5,3-1-4.5-1-.5 0-4.5 6.5-7.5 2.5-1 5.5,0 .5,1 2.5,0 .5,1 3,.5 2,2 3,0 0-2 10-8 1.5-3-1.5-3.5zM405,1196.5l5.5,0 6,3.5 4,5-2-3-.5-5-1-.5 0-2-2.5-4.5-3.5,3-2.5,.5-2.5,3zM1339,1178.5l-5.5-1.5-3-2-6.5-1-8,13.5-6,7-1.5,0-1.5,1.5-11,.5-3.5,7 .5,1-1.5,3 2-.5 3,2 3.5,4.5 3,2 6.5,0 3,2 0-2-1-.5 0-2.5-1-1-.5-8-1-1 0-3 1.5-1.5 1.5,0 2.5-2 5.5-3 2.5,0 1.5-1 10.5,0 9.5,7.5-1-2.5 1.5-1-1-1 1.5-1.5-1-.5 .5-1.5-1-.5zM1380.5,1157.5l0,1 5.5,2.5 5,0 2.5-2.5-2-3-10,0 0,1.5zM359,1149.5l1.5,2.5 3.5,1.5 0,2 1-2 3,1-2.5-6-5.5,0zM1433.5,1140.5l-6,0 0,1.5-1,.5 0,1.5-2,2.5 0,2.5-1,.5 0,1.5-1,.5-1.5,4-2,0-1.5-1.5 0-1.5-1-.5 0-1.5-1-.5 0-1.5-3-5-6,0 0,1.5-1,.5 2.5,1 3,3-1,.5 0,1.5-1,.5 0,1.5-3,5-2,1.5 0,1.5-3,3 0,1.5-2,.5-2,8.5-1,.5 3.5-2 1-3.5 4.5-3 0-2.5 4.5-3 7.5-2 12.5,3 0-3.5 1-.5 1-6.5 1-.5 0-3.5 1-.5zM1263.5,1120l-9,20 1-1 2,2 4.5,1 8-1 1.5,.5-1-6-1-.5-1.5-6.5zM383.5,1127l0,15.5 1,1 1-1.5 1,2.5 7,.5 2.5-3 6.5,0 6.5-4.5 9,1.5 10.5,5.5 8-.5 3-4-.5-8-1.5-3.5-1,.5-1.5-1.5 0-1.5 3.5-3.5-1-1.5-6.5-3-3.5-3.5-11.5-1.5-.5-1-6,0-3-2-3,0-1.5-2-3.5,0-1.5-2-3,1-1,3.5-2,1.5-2,5.5-3.5,5zM1360.5,1078.5l-6,0-1,1 0,1.5-1,.5 0,1.5-1,.5 0,1.5-1,.5 0,1.5-1,.5 0,1.5-1,.5 0,1.5-1,.5-2,5.5-2,1.5 0,1.5-1,.5 0,1.5-1,.5 0,1.5-1,.5 0,1.5-1,.5 0,1.5-1,.5-.5,2-1.5-.5 0-1.5-1-.5-1-6.5-1-.5 0-2.5-1-.5 0-2.5-1-.5 0-2.5-1-.5-1-4.5-6,0-3,3 0,1.5-4,3.5 1.5,3 0,3-3,3 0,1.5-3.5,5-2,7 10,5 1.5,2 3.5,7 2.5,2 22,.5 .5,2 .5-2.5 5-1 0-2-4-6.5 0-1.5-5-5.5 .5-2 7.5,.5 10,3.5 5.5-.5 0-1.5-1-.5 0-3.5-1-.5-1-8.5-1-.5 0-4.5-1-.5 0-3.5-1-.5 0-4.5-1-.5 0-4.5-1-.5zM332,1066.5l-8.5,0-.5,1-5.5,2-2,2 2,3-1,3.5 6.5,6-1,3.5-5.5,6-6.5,0-6.5-5-7,6-3-3-1,0 0,1.5-2,1.5 0,1.5-2,1.5-.5,2-12.5,1-.5,1-1.5,0 .5,1 5,3.5 0,1.5 4,.5 12.5-6.5 8.5-.5 9.5,.5 3-1.5 1.5,1 3-1 2.5,1 1.5-1 .5-2 1.5,3 1.5-2 1,2 7.5-1.5 2-2 0-5-2-2.5-.5-8-3.5-7.5 1-1-1-2.5-1-.5zM1245,1071.5l1,3 5,1.5 13.5-1 5-3-4-7.5-16,0-2,2zM1296.5,1034.5l-6,0-11,22-1,4.5-1,.5 0,1.5-1,.5 0,1.5-1,.5 0,1.5-1,.5 0,1.5-2,2.5-.5,2 2,1.5 5.5,1 2.5-3 .5,3 2,0 2-3 2,2.5 4.5-1.5 3.5,1 1-2 .5,3 2,.5 5.5-2.5-1-1 0-3.5-1-.5 0-4.5-1-.5 0-3.5-1-.5 0-4.5-1-.5 0-4.5-1-.5 0-3.5-1-.5 0-4.5-1-.5zM1222.5,984.5l-6,0-1,1 0,1.5-2,1.5-1,3.5-4,4.5-1.5,4-2.5-2-1.5,0-1.5-2-6,0-5,9 0,1.5-2,1.5 0,6 1.5,3.5-2,2.5-1,0 0,1.5-8.5-.5-3,4-1,3.5-1,.5-.5,3 7-.5 4-1.5 3.5-.5 5.5,2.5 2.5,3.5 0-3.5 2-2.5 .5,3 1,.5-1,1 1.5,.5 0,1.5 1,0 0-3 1-.5 1,2 1.5,0 .5-3 1.5,3 1,0 .5-3 2,3.5 1.5,0 3.5-2.5 1.5,0 .5-1 1,2 3.5-1.5 6-.5 6.5-3.5-1-.5 0-3.5-1-.5 0-3.5-1-.5 0-3.5-1-.5 0-3.5-1-.5-1-8.5-1-.5 0-3.5-1-.5 0-3.5-1-.5 0-3.5-1-.5zM898.5,680l-31-1-11.5,17.5-1,3-3,4.5 0,2.5-2,2.5 0,2.5-3,5.5 0,2.5-2,2.5 0,2.5-2,2.5 0,2.5-3,5.5 0,2.5-3,4.5 0,2.5-4,6.5 0,2.5-3,4.5 0,2.5-3,4.5 0,2.5-3,4.5 0,2.5-3,4.5 0,2.5-2,2.5 0,2.5-3,5 0,2-4,8-1,5-2,3-1,5-2,3-2,8-8,16 0,2.5 3,2.5 0,2-2,2.5 0,2.5-3,4.5-.5,3-.5-4-1-.5 0-6.5-1-.5 1-9-2-3.5-1.5,0-2.5-3-1.5,0-7.5-6-19,0-2,2 0,1.5-5,4.5 0,1.5-4,3.5 0,1.5-2,1.5-3,6 0,2.5-3,4.5 0,2.5-2,2.5 0,2.5-3,5.5 0,2.5-3,4.5 0,2.5-2,2.5-1,4.5-6,12-3,11-2,3 0,1.5 2,1.5 0,2-1,.5 0,2.5-1,.5 0,1.5-2,2.5-2,8.5-2,4-1,.5 0,2.5-1,.5-1.5,4-1.5,0-1-1.5-3-10.5-1.5-1.5-2.5,0-2.5-4-1,0-.5,2-1,0-2.5-2.5 0-1.5-3-2.5 0-1.5-4-3.5 0-1.5-4-3.5 0-1.5-3-2.5 0-1.5-2-2-6,0-2.5,3-1.5,0 .5,3 1,.5 0,7.5 1,.5-.5,9-1,.5 1.5,1.5 0,6.5-5.5,7-5,2-1.5,3-5.5,2-1,3 1.5,.5 5,5 3.5,0 2,3 .5-2 4.5-1 7.5-4 5.5-1 3,0 2-1 2,1 3-1 4,0 1.5-2.5 2-.5 .5-1 1,2 3-.5 1.5,2 1.5-1 .5,2-1,.5 0,1.5-1,.5 0,1.5-1,.5 0,1.5-1,.5 0,1.5-1,.5 0,1.5-9,18-4.5,4.5-5-1-.5-1-5.5-2-1.5-2-1.5,0-2.5-3-1.5,0-2.5-3-1.5,0-13.5-13.5 0-1.5-8-8.5 0-1.5-6-6.5 0-1.5-2-1.5 0-1.5-2-1.5 0-1.5-3-2.5-1-3.5-3-2.5 0-7 1-.5 1-3-4-4.5-1-3.5-2-1.5-4-8.5-4-3.5 0-1.5-5-4.5 0-1.5-4-3.5 0-1.5-5-4.5 0-1.5-3-3-1.5,0-7.5-6-4.5-1-.5-1-4.5,0-.5-1-4.5,0-.5-1-12,0-.5,1-9.5,1-3.5,3-1.5,0-1.5,2-1.5,0-1.5,2-1.5,0-9,10 0,1.5-4,3.5-3,7.5-2,1.5-4,9.5-2,1.5-2,5.5-2,1.5-2,5.5-2,1.5-2,5.5-2,1.5-7,15.5-2,2-2,5-6,9-8,16 0,2.5 1,.5 0,1.5 2,2.5 0,5.5 1,.5 0,2-1,.5 0,1.5-2,2.5 0,2.5-3,3.5-8,17.5-2,1.5-4,9.5-2,2-3,6-2.5,1.5-7-3-7.5-9-1.5,.5 0,1.5-3.5,3.5-2,0-18.5-18-6,0-4,4 0,1.5-2.5,2.5 3,5 0,3.5 1,.5 0,3 1,.5 0,4.5-8,13-3.5,11 0,3 2.5,1.5 7.5,1 7.5-1.5 4.5-2.5 5.5-1 8.5,0 2,3 .5,3-1,19 2.5,9 4.5,7.5 0,2.5 8,7.5 1,2.5 8.5,8 15.5,8.5 21,10 .5,2 1-1.5 3.5,1.5-3,.5-2.5,2-2.5,0-4.5,3-5,0-1-1-4,0-1-1-15.5,0-6,3-1.5,2-3.5,1-4,4 0,1.5-4,6-1,4.5-2,1.5 0,1.5-3.5,5.5 .5,2.5 10,3 5,.5 1.5,2.5-2,7.5 .5,1.5 2.5-1 1.5,1.5 9.5-2.5 12.5,0 .5-2.5-2.5-9 3.5-2.5 8.5,3 10-.5 2,1 3.5-1 1.5,1-2-5 2,.5 2.5-2-1-5 1.5-1-1-1.5 3-.5 .5-4.5-2.5-3.5-4-10-1-.5-.5-4.5 2,2 2.5,0 13.5,6 13.5,8 2,2 1.5,7.5 1.5,0-1,1 .5,2-16,24-3.5,9.5-11,12.5-1,4.5-1,.5 .5,2-3,6.5 2-2 1.5,2.5 .5,2.5 4.5-1 9,3 5,4 3,5 16.5,12 23,10.5 3,2.5 4.5,1 6,4 .5,2.5 2-1.5 4,1 2.5,3 1-1 .5-3 .5,2 2.5,2 0,2.5 1-2.5 5-.5 1,2 .5-1 1.5,.5 1-2 11-1 26.5,5 12,4 8,4.5 3,4-1,1 1,4-1,.5 0,1.5-2,1.5-3,6.5-3.5,5-.5,6 12,5.5 4.5,3.5 2-.5 5,.5 3.5-2 0-3.5 1-1 2.5,0 4.5,6.5 11.5,5.5 6,4.5 4.5,1.5 4,4 5,9 1,5.5-1.5,8.5 3,2 1,0 1,1 3,1 2,4.5 3-1.5 2.5,3 0-2.5 1.5-2.5 .5,2.5 1.5,1-1,1 1,.5 0,1.5 1,0 .5-3 3.5-.5 5.5-5 6-4 1-1.5 0-4.5 5.5-3 5,1 6,3 10.5-2.5 29.5,0 25-4.5 3,.5 4.5-2 17-4.5 10-5 1,.5-3,2.5-1,3.5-3,3 0,1-5,8 0,3 1.5,2 8.5,6.5 8.5,3 12.5-2 4.5,0 0-5 3.5-6 8.5,0 9,4-2-4 .5-3.5-1-.5 0-3.5-2-4 0-2.5-4-7-1-6.5-.5-.5-1.5,1.5-2,7-4,8-5,5.5-6-12.5 0-2-4-8 3-1 7-5.5 7-7 6.5-9.5 3-2.5 10-1.5 3.5-1.5 3-4 1-6 3-2.5 3-1 3.5,1 5-1.5 5.5,.5 1.5-.5 1,.5-6.5-14-2-1.5-1-3.5-2.5-2.5-2,0-6-4-3,0-4,2-1-1-2,0-3-1-5.5-5.5 .5-2-1.5-1.5 1-7.5 4-5.5 6-6 12.5-7 26-9 18-4 23-2 15,0 10.5,2 18.5,.5 7.5,1.5 11,0 12.5,2.5 11.5-.5 4,1 5,5 5.5,2 1-2 3,.5 4-.5 1.5-3 10-4 14.5-3.5 4.5,0 9.5-2.5 3.5,0 8.5-3 7.5-1.5 15-6.5 17-10 10-9 8-10.5 5.5-13.5 5.5-5 7.5-4 9.5-.5 7.5,1.5 2.5-2-.5-9.5-2,0-8-5.5-13.5,5.5-3.5,.5-3-.5-1.5-2 0-1-5-3.5-11-13.5-1-3-3-4-3-6 0-1.5-2-2.5 .5-2-1.5,0 .5-2-1-1 1-1.5 1,1 2.5-1.5 5.5-1 7.5-3 0-2.5 1,1 2-.5-1-3 1,.5 2-.5 0-2 1-.5 2.5,.5 0-2-1-.5 0-1.5-2-2-5.5-2.5-1.5-3-4-2-1.5,.5-1,3-5,5 0,1.5-2,1-7,0-2-1-4-4.5-2-4 0-2.5-4-6.5-1-5.5-2-2.5 0-2.5-2-2.5-1-4.5-1-.5-1-5.5-2-2.5-1-5.5-1-.5 0-1.5-2-2.5-2-8.5-2-2.5-1-5.5-1-.5-1-4.5-2-2.5-1-5.5-1-.5-1-4.5-1-.5 0-1.5-1-.5 0-1.5-2-2.5 0-2.5-1-.5 .5-3-1-1-1-5-3.5-6.5-1-.5 5-1.5 12,4 4.5-2-1-2.5-1-.5-1-5.5-2-2.5-1-5.5-2-2.5 0-2.5-1-.5 0-1.5-5.5,0 0,3-3,4 .5,.5 1.5-.5 .5,5.5-.5,3-1.5,2-2.5-1.5 1-6.5-1-.5 0-1-1.5,3.5-1,.5 0,1.5-2,0-2.5-4.5 0-2.5-5-8.5 0-2.5-9-16.5 0-1-16.5-13.5-1.5,.5-3.5-3-3.5,0-2.5-2.5 0-3.5-1-.5 0-3.5-1-.5 0-3.5-1-.5 0-3.5-1-.5 0-3.5-1-2-6,0-1,1 0,1.5-6,6.5 0,1.5-2,1.5 0,1.5-3,2.5 0,1.5-2,1.5 0,1.5-2.5,2.5-2.5-1.5 0-1.5-1-.5 0-1.5-1-.5 0-1.5-1-.5 0-1.5-1-.5-2-5.5-3,0-3,5 0,2.5-4,6.5-3,11.5-2,.5-1.5,2-1.5,0-2.5,3-1.5,0 0,2 1,.5 1-1.5 16,2 1,1-.5,5.5 2,4 1.5,0 1,1.5 1-1.5 1.5,3.5-3,3.5 0,1.5-2,1.5 0,1.5-3,3.5 0,1.5-2,1.5 0,1.5-1,.5-1,3.5-2,1.5-1,3.5-3,2.5-1,3.5-1.5,1.5-1-1-4.5-.5-2-4 0-2.5-1-.5 0-2.5-2-2.5-1-5.5-2-2.5 0-2.5-2-2.5 0-1.5 2-.5-1-1.5 0-3.5 2-.5 1,1 3-1.5-1-3-2,0-2.5-2-6.5-1.5-1-5-1-.5 0-2.5-1-.5-1-4.5-1-.5 0-2.5-2-2.5-2-8.5-2-2.5 0-2.5-1-.5-1-4.5-1-.5 1.5-2 1.5,0 3-2.5-1-9.5 2-2.5 11.5-4.5 6,0 0-1-1-.5 0-4.5-1-.5 0-4.5-1-.5 0-4.5-1-.5 0-4.5-1-.5 0-2.5-6,0-1,1-1,3.5-4,4.5 0,1.5-3,3.5-1,3.5-2.5,2.5-1,0-1.5-4-1-.5 0-1.5-1-.5 0-1.5-1-.5 0-1.5-1-.5 0-1.5-1-.5 0-1.5-1-.5 0-1.5-1-.5 0-1.5-1-.5 0-1.5-1-.5-.5-3-13-14-1.5,0-3.5-3.5-1-3.5-2.5-2 0-1.5-1-.5 0-1.5-1-.5 0-1.5-1-.5 0-1.5-1-.5 0-1.5-1-.5 0-1.5-2-2.5 0-2.5-1-.5 0-2.5-2-2.5-1-4.5-6,0-2,4.5-1.5,1.5-1.5-.5 .5-2.5-1-1-3-11-2-3-1-5-3-6 0-2.5-2-2.5 0-2.5-2-2.5-1-5.5-2-2.5 0-2.5-1-.5-1-5.5-2-2.5-1-5.5-9-15.5 0-2.5-1-.5 0-2.5-2-4-2-1.5-3-6.5-2-1.5-10-21zM975,839.5l-.5,2.5-3.5-.5 0-1.5z"/>
<path fill="#0c0cff" d="M836.5,1389.5l-7-5.5-6-3-2,1-2.5,4.5-3,2-1.5,4-1,0-1.5,2-1,0-.5-1-2,0-1,1 1.5,.5 .5,7 1.5,3 2,2 1.5,0 4-10 1,1.5 7,0 7-1.5 1.5,1 .5-3 .5,2.5 1.5,2.5 1-4.5-1-.5 0-3.5zM913.5,1365l-1-4.5-1-.5 .5-2.5-4-8-1-6.5-3,3.5-1,5-4,8.5-5,6-3.5,.5-2-1-.5-3 2-2-1-2 1.5-1-1-.5 0-1.5-2-2.5 .5-2.5-3.5-6.5-7,5-5,2-3.5,3.5-.5,3-3,3 0,1.5 1.5,.5 1,2.5 6.5,4 5,2 12-.5 4.5,1.5 0-1.5 1.5,.5 1.5-1.5 1.5-5.5 .5,1.5 2,.5 1-2 1,0 .5,2 3.5,.5 4-.5zM954.5,1318.5l-1,4.5-1,.5 .5,3.5 1.5,1.5 3,.5 1-1.5-1-.5 0-1.5-2-2.5zM992.5,1305l-3.5,3.5-2,4.5-3,2.5-1.5,4-5,5 0,1.5-3,3.5-.5,1.5 2,.5 0,2 4,4-1,1 2.5,0 1-1 1-3.5 3.5-2.5 0-1.5 2.5-3 14.5,1.5zM1095,1292.5l-2,0-1.5-2-3.5-1-8-8.5-4.5-7-4,5.5-1,3-3,3 0,1.5-3,2.5 0,1.5-2.5,1.5-.5,6.5-4,5.5-3,0-2,2-3,0-.5,1-8,2-.5,4 2,.5 1.5-3 3-2 6-1 .5-1 3,0 1-2 3-2.5 0-1.5 10-10 6-1zM1158.5,1247.5l-12,3-6,5-1,3.5-1,.5 2.5,2 0,1-1,.5 0,2-3.5,6 1,3 2.5-3.5 7-.5-2-5-1-.5 .5-2.5 1,1 4-.5 14-5.5 1.5,.5-.5-3-2-1.5zM987.5,1234l-.5,1-3.5,0-3.5,2-3.5,0-1.5,2-1,0-3.5,6.5-1,5 2.5,.5 6.5,4 6,9 2,1 1-2 2,4.5 1-3 4.5,0 3-2.5 2,2 1-.5-1-2 1-3-1-1 2-6.5 2-.5-2-1.5-1-5-1.5-1.5 0-5-1-1-4.5,0-.5-1zM1255.5,1204.5l-2,0-4,2-7.5,.5-1.5,1.5-4,8.5-2.5,2.5 0,1.5 2,.5 0,1 1.5,1.5 .5,2.5-5.5,7 0,2.5 2-3.5 2.5-2 1.5,0 .5-1 6,0 1,1-2-3 5.5-2.5 12.5-10-1-1.5 1-1zM414.5,1190.5l-.5,1-1.5,0-.5,1 2,3 1,0 .5-1.5zM1338.5,1178.5l-2.5,0-5.5-3-3,0-1-1.5-2,0-10,16.5 1.5,.5-1,3.5-3.5,1.5-12.5,.5-.5,4 7.5,4.5 3.5,1-1-6.5 2-2 1.5,0 8.5-5 2,0 1-1 11.5,0 2,2-1-2 1-.5-.5-3 1-4.5 1.5-1-1-1 1.5-.5zM498,1148l-3,0-9.5,5-5.5,0-.5-1-4.5,0-.5-1-15,0-6,3-1.5,2-3.5,1-4,4.5-4,7-1.5,6 1,0 1.5-2.5 0,1.5 2,.5 10.5,.5 17.5-3.5 7,1 11.5,4 1.5-2 1,2 2,0 2-3 3,2.5 1.5-2-2-4 1.5-1.5-.5-1.5 2-1 .5,1-1-3 2-1.5zM1414.5,1147l-1.5,0-3,3-3,8-2.5,3-.5,2 1,0 4.5-7.5 8-1.5zM1433.5,1140.5l-6,0 0,1.5-1,.5 0,1.5-2,2.5 0,2.5-1,.5 0,1.5-1,.5 0,1.5-2,2.5 2.5-.5 4,1.5 3.5,0 1-1 0-3.5 1-.5 0-3.5 1-.5zM1263.5,1120.5l-1,4.5-2,2.5 .5,2.5 3.5,0 2-2 0-1.5-1-.5zM387.5,1122.5l0,1 1.5,.5 1,1.5-1,.5-2,5 2.5,3 2.5,0 1.5,3.5 .5-2 3.5,0 0-2.5 1.5-1 2-.5-1-1 .5-3.5 5.5-3 8,0 14,7 4.5,0 2-2-1.5-3.5-3.5-3.5-14.5-9.5-6,0-2.5-2-3,0-2-2-3.5-.5-1.5-2-2.5,1.5-.5,3-2,2-3,6 0,3zM1323.5,1087.5l-3,3 0,1.5-4,3.5 2,2.5 0,4-3,2.5-1,3 9,4.5 4.5,5.5 2,4.5 2.5,1.5 15,.5 1-1.5-1-3-1.5-1.5-1-3.5-3-3 0-1-2.5-1.5-2.5,1.5-.5-2-1-.5-1-6.5-1-.5 0-2.5-1-.5 0-2.5-1-.5 0-2.5-1-.5-1-4.5zM1218.5,1089.5l-3-5-5-2-1,3.5-5,4.5 0,1.5-3.5,2 2.5,.5 1-1 .5,.5 5,0 3-1.5 2.5,1.5 .5-1-2-3.5 3.5,1.5 1-.5zM1360.5,1078.5l-6,0-1,1 0,1.5-1,.5 0,1.5-1,.5 0,1.5-1,.5 0,1.5-1,.5 0,1.5-1,.5 0,1.5-1,.5 0,1.5-1,.5 0,1.5-1,.5 0,1.5-1,1 4,1.5 4.5,.5 10.5-5 0-4.5-1-.5 0-4.5-1-.5zM328.5,1076l-1.5,1.5 0,1-1,.5-1,4-1.5,1-1,4-3,2.5 1,.5 .5-1 2,1 9.5-.5 2.5-3-2-2.5-3-7.5zM1296.5,1034.5l-6,0 0,1.5-1,.5 0,1.5-1,.5 0,1.5-1,.5 0,1.5-1,.5 0,1.5-1,.5 0,1.5-1,.5 0,1.5-1,.5 0,1.5-1,.5 0,1.5-1,.5 0,1.5-2,2.5 0,2.5-1,.5 0,1.5-1,.5 0,1.5-2,2.5 .5,1.5 2,0 3.5-2 3,1.5 3-1.5 6-1 6,2 4-1.5-1-.5 0-3.5-1-.5 0-4.5-1-.5 0-4.5-1-.5 0-3.5-1-.5 0-4.5-1-.5zM1222.5,984.5l-6,0-4,7.5-4,4.5-1.5,4-1,0-1.5-2-1.5,0-1.5-2-6,0-1,2.5-1,.5 0,1.5-1,.5 0,1.5-1,.5 0,1.5-1,.5 0,1.5-2,1.5 0,2 1,1 1-.5 2.5,3 1,2-1,1.5 2-.5-1,2.5 1,2.5 2,1 2.5,0 .5,3 1,0 0-2.5 2-2 0,3.5 1,.5-1,1 1.5,.5 0,2.5 1.5-4 2,.5 .5-1 1.5,0 9-2 4-2 4-5 2.5,0-1-7.5-1-.5 0-4.5-1-.5 0-3.5-1-.5 0-3.5-1-.5 0-3.5-1-.5zM664.5,908.5l1,.5 0,2.5 1,.5 0,7.5 2,1 1.5-1 6,5-3,3.5-3,6.5-2.5,2 .5,2-1,1 1,0 5.5,4.5 4,1 3-.5-1.5-.5 1.5-3 .5,2 1,.5 0,2.5 1,0 .5-2.5 2,4 1.5-3.5 2.5,0 3,1 1-1 3.5-.5 1-1.5 0-1.5 1.5,.5 1-1.5-3.5-8.5-3.5-1-3-3 0-1.5-7-7.5 0-1.5-4-3.5 0-1.5-3-2.5 0-1.5-2-2-6,0-2.5,3zM1031.5,858.5l-6,0-1,2.5-1,.5 0,1.5-4,4.5-1,3 4,1.5 6.5-1.5 4-4zM899,680l-32-1-2,4.5-4,4.5-1,3.5-4,4.5-4,8 0,2.5-2,2.5 0,2.5-3,5.5 0,2.5-2,2.5 0,2.5-2,2.5 0,2.5-3,5.5 0,2.5-3,4.5 0,2.5-4,6.5 0,2.5-3,4.5 0,2.5-3,4.5 0,2.5-3,5 0,2-3,5-2,7-3,5 0,2-4,8-1,5-2,3-1,5-2,3-2,8.5-8,15.5 0,2.5 3,2.5 0,2-2,2.5 0,2.5-3,5 0,2-1,0 0-3.5-1-.5 0-6.5-1-.5 1-9-1-2-14-10.5-19,0-2,2 0,1.5-5,4.5 0,1.5-4,3.5 0,1.5-2,1.5-3,6 0,2.5-3,4.5 0,2.5-2,2.5 0,2.5-3,6 0,2-3,5 0,2-9,19-3,11-2,3 0,1.5 2,1.5 0,2-4,7.5-2,8.5-3,4.5 0,2.5-2,4-1,.5-1,4.5-1,.5 0,2.5-6,10.5-9,19.5-4,4.5-5.5-1-6-3-1.5-2-1.5,0-2.5-3-1.5,0-2.5-3-1.5,0-13.5-13.5 0-1.5-8-8.5 0-1.5-6-6.5 0-1.5-2-1.5-2-4.5-3-2.5-1-3.5-3-2.5 0-7 2-3.5-4-4.5-1-3.5-2-1.5-4-8.5-4-3.5 0-1.5-5-4.5 0-1.5-4-3.5 0-1.5-5-4.5 0-1.5-3-3-1.5,0-7.5-6-4.5-1-.5-1-4.5,0-.5-1-4.5,0-.5-1-12,0-.5,1-9.5,1-3.5,3-1.5,0-1.5,2-1.5,0-1.5,2-1.5,0-9,10 0,1.5-4,3.5-3,7.5-2,1.5-4,9.5-2,1.5-2,5.5-2,1.5-2,5.5-6,9-7,15-2,2-2,5-6,9-8,16 0,2.5 1,.5 0,1.5 2,2.5 0,5.5 1,.5 0,2-14,28-2,1.5-4,9.5-2,1.5-3,6.5-3,2-.5-1-2.5,0-3.5-2-8-9.5-4.5,5.5-2,0-6.5-7-1.5,0-10.5-11-6,0-4,4 0,1.5-2.5,2.5 3.5,5 1,7 1,.5 0,5-2,4-1,.5-.5,12 7.5,.5 3.5-2 8.5-.5 2-1 15.5,0-1,4.5 .5,6.5-2,13 1,7.5 5.5,12 7.5,10 7.5,7 23.5,14 18.5,7 3.5,2.5 9,2.5 13,7 14.5,5.5 3,3.5 2,.5-1,.5 1,2.5-1,.5-2,5.5-2,1.5-3,7.5-10.5,15.5-5,9-1.5,5.5-15.5,18-1,4.5-1,.5 1.5,1 2-1.5 15,3.5 9,10.5 8.5,6.5 12.5,8 4,1 23,11.5 1.5,2 3.5,2 1.5,2.5 3.5,0 1.5-3.5 .5,3 1,.5-1,1 1.5,.5 0,2.5 0-1.5 1-.5 .5-2 1.5,.5 1,2.5 0-1.5 1.5-1 6.5-.5 6.5-2 8-.5 6,2 9,.5 14,2.5 13.5,5.5 7.5,6.5 0,1.5-7,17.5-1.5,1.5-1.5,3.5-1.5,1.5-.5,3 5.5,2.5 6.5,.5 13-4.5 4.5,0 5,4.5 2.5,3.5 8,6 15.5,9.5 3.5,4 3,11 1,6.5-1,4 1,3-.5,2.5 4.5,.5 .5,2 2-6 .5,3.5 1,.5 .5,2 2.5-1.5 3,.5 6.5-6 4.5-7 3-3 5-2 7-1 31.5,2 20.5-1.5 21.5-3.5 26.5-9 20-12 9-9 6-7 2-4.5 3-3.5 14.5-4 1-4.5 3-5.5-2-2-5.5-1-3.5-3-2,0-1.5-1.5 3,0-1-1 1-1.5 9.5-4.5 2.5,2 2,3 1.5,6.5 5.5,.5 8-1.5 2,1 .5-2-5-7.5-2.5,0-1.5-2-2.5,0-1.5-2-3,0-3.5,2-3,0-2.5-2-1.5,0-8-10-4-7.5-3.5-.5 0-9.5 2.5-6 7-7 13-7 29-10 16-3.5 20.5-2.5 24.5,.5 36.5,4.5 12.5,.5 6.5,1.5 1-1 1,2.5 2-1 6,2 5-.5 1-2 1.5,3.5 1.5-2.5 2-.5 11,4 6.5,0 11-3 3-2 5.5-.5 3.5-2 4,0 8.5-2 3.5,.5 4.5-2 9.5-1.5 15.5-5.5 6.5-4.5 5-1.5 3-2.5 4.5-2 2.5-3 4-2.5 10.5-11.5 5.5-10 2-9 3-4-1-4.5-1.5-.5-2.5-5-1-.5 0-2-1-1 0-1.5-3-5.5-3-3.5-2-5.5-4-6-4-9.5-3-4.5 0-1.5-1-.5 0-1.5-1-.5 0-1.5-2-2.5 0-2.5-1-.5 1-.5-.5-2.5-2-1.5-5.5-13-2-2.5-1-5.5-2-2.5 0-2.5-4-7.5 0-2.5-3-5.5-1-5.5-2-2.5 0-1.5-1-.5-2-8.5-2-2.5-1-5.5-2-2.5 0-2.5-2-2.5-1-5.5-2-2.5 0-2.5-1-.5 0-1.5-1-.5 0-1.5-2-2.5-1-6.5-1-.5 0-1.5-2-2.5 0-2.5-1-.5 0-1.5-1-.5 0-1.5-1-.5 0-1.5-2-2.5 0-6-3-5 0-2.5-5-8.5 0-2.5-9-18-2-2-1.5,0-3.5-4-1.5,0-2.5-3-1.5,0-3.5-4-2,.5-3.5-3-3.5,0-2.5-2.5 0-3.5-1-.5 0-3.5-1-.5 0-3.5-1-.5 0-3.5-1-.5 0-3.5-1-.5 0-1.5-6,0-1,2.5-3,2.5 0,1.5-3,2.5 0,1.5-2,1.5 0,1.5-1.5,1.5 5,7.5 1,7-1.5,1-.5-1-3.5,0-1-1-2.5,0-3,2 0,1.5-4.5,5-.5,4.5 3,1 .5,2 .5-1 1.5,1 .5-2.5 2-2.5 1,3-1,1 0,1.5-2,.5-2,2 0,1.5-1,.5-2,5.5-2,1.5 0,1.5-4,4.5-1,3.5-4,4.5-2,5.5-2,1.5-1,3.5-3,2.5-1,3.5-1.5,1.5-5.5-1-3-7.5 0-2-2-3-1-5.5-4-7.5 0-3.5-2-2.5 0-2.5-1-.5 0-2.5-1-.5-1-4.5-1-.5-1-5.5-2-2.5-1-5.5-2-2.5-2-8.5-2-2.5 0-2.5-2-2.5 0-2.5-2-2.5-1-5.5-2-2.5 1-4.5 1,.5 0,2.5 2.5-1.5 2,2-2-6-2.5-.5-2.5-2-2.5,0-1-1 0-1-1-.5 0-3.5-1-.5-2-5.5-2-1.5 2-2 1,2.5 2.5,2.5 .5-1.5 4.5-1.5-1-.5 0-1.5-1-.5 0-1.5-1-.5 0-1.5-1-.5 0-1.5-1-.5-2.5-7-13-14-1.5,0-3.5-3.5-1-3.5-2,0-5,5-.5,3-4.5,0-.5,1-5.5-.5 0-2.5-1-.5 0-1.5-2-2.5 0-2.5-1-.5 1.5-2.5 1.5,2.5 0,2.5 1.5-3 3-1 9.5,0 1,1.5 2.5,0-1-.5 0-1.5-1-.5 0-1.5-1-.5 0-1.5-1-.5 0-1.5-1-.5 0-1.5-1-.5 0-1.5-2-2.5 0-2.5-1-.5 0-2.5-1-.5-2-6.5-6,0-2,4.5-1.5,1.5-1.5-.5 .5-2.5-1-1-3-11-2-3-4-13-2-3-3-10-2-3 0-2.5-1-.5-1-5.5-2-2.5-1-5.5-9-15.5 0-2.5-1-.5 0-2.5-2-4-2-1.5-3-6.5-2-1.5-10-21.5-2-1.5 0-1.5-2-1.5-1-3.5-2-1.5z"/>
<path fill="#1010ff" d="M835.5,1388.5l-12-7-2,1-2,4-3,2-2.5,6 1.5,.5-.5,1.5 1.5,.5 3.5-4 12.5-1 2.5-1zM732.5,1356l-1.5,.5-3,7.5 1.5,.5 1.5-1 .5,3.5 1.5-6 1,0 1,1.5 0-1.5 1.5,1 1-1.5-2.5-4-1.5,.5zM884.5,1344.5l-1.5,2-3.5,1-1.5,2-1.5,0-.5,1-1.5,0-.5,1-1.5,0-.5,1 1.5,1.5 3,.5 3-4.5 1.5,.5 4.5-2.5zM906.5,1343l-2.5,3.5-.5,5-4,7 0,1.5-2,1.5 .5,3-1,1 2.5-1 1.5-4 1,0 .5,1 1.5-1.5 1.5,1.5 0-1.5 2-2 1.5,2 2,.5 .5-3-1-.5-1-4.5-2-3zM992.5,1305.5l-10,13 .5,1.5 5.5,3 3,0 5.5-4 1.5,0 0-1.5-1-.5 0-1.5-1-.5 0-1.5zM1075.5,1274.5l-2,3.5-2,1.5 0,1.5-1,.5 2.5,5-1,2-4,3-1.5,2.5 2.5-2.5 3.5-2 7.5,0 1,1-1-1 0-2 1.5-1.5 1,.5 0-2zM974,1239.5l2,.5 .5,1 8.5,6 0,2.5 4.5,5 2.5-.5 0-1.5 1-.5 1,4.5 1.5-2 2.5,2-4-8.5-2-.5 0-2 4-2.5 0-2.5-4-2.5-1.5-2.5-3-1-.5,1-3.5,0-.5,1-2.5,0-.5,1-3.5,0-1.5,2zM1257,1207l-1.5-2.5-2,0-.5,1-2.5,0-.5,1-8.5,1-2,4.5 .5,1 4.5,.5 6-4zM1321.5,1179.5l1,1 1-.5 3,.5 3-3 1,0-1-2-5-1zM499.5,1151.5l-1-.5-1-2.5-2,0-2.5,2-2.5,0-4.5,3-6,0-.5-1-4.5,0-.5-1-15,0-6,3-1.5,2-3.5,1-4,4 0,3 2-2 2.5,.5 9.5-2 9.5-3 5,0 10.5,3.5 6,4 3-.5 4,2.5-1.5-3-.5-7.5 3.5-4 1.5,.5zM1338.5,1109.5l-.5,2 .5,1.5 1.5,.5 1.5-1.5 0-1.5zM393.5,1109.5l.5,2.5 2,2 4.5-1 2.5-2.5-1.5-2-3.5,0-1.5-2-1,0-1,2.5zM328.5,1076.5l-1,2.5-1,.5 1.5,3 1-2 1.5,1 0-2-1-.5zM1296.5,1034.5l-6,0 0,1.5-1,.5 0,1.5-1,.5 0,1.5-1,.5 0,1.5-1,.5 0,1.5-1,.5 0,1.5-1,.5 0,1.5-1,.5 0,1.5-1,.5-1.5,4.5 3.5,1 9-4.5 1.5-1.5 2.5,.5-1-2 2-2.5 0-4.5-1-.5zM401.5,1022.5l2,5 1,.5 0,3.5 2,1.5 1-.5 3,3 1.5,5 0,4 1,1.5 1.5,.5 4.5-2 3.5,.5 9.5-2 11-3.5 3-2-3.5-3.5 0-1.5-4-4-1,0 0,1.5-3.5,3.5-2,0-6.5-7-1.5,0-10.5-11-6,0-4,4 0,1.5zM1222.5,984.5l-6,0-1,1 0,1.5-2,1.5-1,3.5-4,4.5-1.5,4-1,0-1.5-2-1.5,0-1.5-2-6,0-1,1 0,1.5-1,.5 0,1.5-2,2.5 7.5,4.5-.5,9 2.5-2 1.5,3 1-4 1,1.5 3.5,1 4-3 3-.5 3.5-3 1-6.5 6-5.5zM1076,922.5l1,2-1.5,1 1.5,4 1.5,0 1-1-1.5-1 .5-4zM674.5,927.5l1.5,.5 0,4 2.5,3 8,.5 3.5-1 1,2 1-1 2,1-1-2 1-1.5 2.5,0 0-1.5-4-1.5 0-1.5-2-1.5 0-1.5-3-2.5 0-1.5-3-2.5-4.5,2 0,1.5-1.5,.5zM899,680l-32-1-2,4.5-4,4.5-1,3.5-4,4.5-4,8 0,2.5-2,2.5 0,2.5-3,5.5 0,2.5-2,2.5 0,2.5-2,2.5 0,2.5-3,5.5 0,2.5-3,4.5 0,2.5-4,6.5 0,2.5-3,5 0,2-9,19-2,7-3,5 0,2-4,8 0,2.5-1,.5 0,2.5-2,2.5-1,5.5-2,2.5-2,8.5-7,13.5-1,4 3,3 0,2-2,3-2,6-1,.5 0,2.5-1,0 0-3.5-1-.5 0-6.5-1-.5 .5-9-1.5-2.5-13-10-19,0-2,2 0,1.5-5,4.5 0,1.5-4,3.5 0,1.5-2,2-3,6 0,2-3,5 0,2-2,3-3,10-3,5 0,2-9,19-3,11.5-2,2.5 0,1.5 2,1.5 0,2-4,8-2,8-6,11.5 0,2.5-2,2.5 0,2.5-15,30-4,4.5-5.5-1-9-5-3-3-5-3-13.5-13.5 0-1.5-4-3.5 0-1.5-4-3.5 0-1.5-6-6.5 0-1.5-2-1.5-2-4.5-3-2.5-1-3.5-3-2.5 0-7 2-3-4-5-7-13-21-25.5-1.5,0-1.5-2-1.5,0-1.5-2-1.5,0-3.5-3-7.5-1-.5-1-4.5,0-.5-1-12,0-.5,1-9.5,1-3.5,3-1.5,0-1.5,2-1.5,0-1.5,2-1.5,0-9,10 0,1.5-4,3.5-9,18.5-2,2-2,5-2,2-2,5-6,9-7,15-6,9-2,5.5-2,1.5-8,18 3,5 0,5 1,1 0,2-14,28-2,2-4,9-2,2-1,3.5-7,8 0,1.5-5,7-2,8-1,11 2,9.5 8,13.5 8.5,8.5 17,11.5 12,6 10.5,3.5 13,5.5 4,.5 11,5.5 19,6 5,4-14,28-9.5,15-4.5,13-8.5,9 0,1.5-5,4.5-.5,1.5 2,1 0-1.5 1-.5 .5,1 12,3 5,7.5 5,5 11.5,8.5 8,5 8,2.5 12,6 7,5.5 7,4 2,0 1.5,1.5 0,2 2.5-3.5 1.5,1 15-5 8.5,2 11,.5 20,3.5 15,5 8.5,7 .5,5-2.5,6-2-1-1.5,1-5.5,15-2,2.5 .5,2 1,0 .5-1.5 2,1 10.5,0 8-3 6.5,1 14.5,14.5 28,16-4,8 0,3.5 2,3 4,2 4-.5 7-4.5 9-4 2.5,0 4-1.5 37,1.5 4.5-1 14-.5 20-3.5 5-2.5 6-.5 4-2.5 9.5-3.5 6-4 5-2 9.5-6.5 12.5-15.5 3.5-7.5 10.5-5 2-3-3.5-1-.5-2-2.5-1.5-2-3 1-4.5 3-2.5 2-4.5 1.5,.5 .5-.5-5-6.5-1.5-4-4,0-6.5-4 .5-1.5-3.5-8.5 0-5 1-6.5 5-5.5 7-5 12-6 34-11 33-6 23.5,.5 24.5,3.5 3,0 7,1.5 20,1.5 15,5 1.5-3 1,3 1-2 1,1 5.5,1 1-1 .5-2 1.5,3 1,0 .5-2 2,4 .5-2.5 2,0 .5,2.5 .5-2.5 9,1.5 8.5,0 10-5 13-2 3.5,0 4.5-2 4,0 7-2.5 3.5-.5 24-9.5 15.5-10.5 7.5-7 6-11 2-.5-1-1.5 2-5.5 .5-12-1-.5-1-4.5-6-12-1.5-1.5-10-22-3-4.5 0-2.5-3-4.5 0-1.5-3-5.5 0-2-4-7-1-5-6-13-1-5.5-2-2.5-1-5.5-3-4.5-2-8.5-2-2.5-1-5.5-4-7.5-1-5.5-6-11.5-1-6.5-1-.5 0-1.5-2-2.5 0-2.5-1-.5 0-1.5-1-.5 0-1.5-1-.5 0-1.5-2-2.5 0-6-3-5 0-2.5-5-8.5 0-2.5-9-18-2-2-1.5,0-3.5-4-1.5,0-2.5-3-1.5,0-3.5-4-2,1-1.5,2-3,0-.5-1-6-1.5 .5-1 1,0 1-4-1-.5 0-3.5-1-.5 0-3.5-1-.5 0-3.5-1-.5-1-7.5-1-.5 0-1.5-6,0-1,2.5-3,3 5.5,6.5 3.5,13 1.5,.5 .5,1.5-1,1.5-1.5,0-3.5,4-3.5,1-3.5,4-1.5,0-1,2.5-1.5,1.5-1.5,0-2,2 0,1.5-2,.5-2,2 0,1.5-1,.5-2,5.5-2,1.5 0,1.5-4,4.5-1,3.5-4,4.5-2,5.5-2,1.5-1,3.5-3,2.5-1,3.5-1.5,1.5-5.5-1.5-2-4-1-5.5-2-2-1-5.5-4-8 0-3.5-2-2.5-1-5.5-2-2.5-2-8-3-6 0-2.5-2-2.5-2-8.5-2-2.5 0-2.5-4-7.5-1-5.5-1-.5-1-4.5-1-.5 0-1.5-1-.5 0-1.5-2-2.5-1-6.5-1-.5-2-5.5-2-1.5 1-.5 0-6.5 1-.5 0-3.5 1-.5 0-4-13-14-1.5,0-3.5-3.5-2-3.5-1,0-5,5-.5,3-4.5,0-.5,1-5.5-.5 0-2.5-3-4.5 0-2.5-1-.5 0-1.5-2-2.5-1-5.5 1.5-2 1,3 5-2.5 2,2 1.5-1 0-1.5 5.5-1-1-4.5-1-.5 0-2.5-2-2.5 0-2.5-1-.5 0-1.5-6,0-1,2.5-1,.5 0,1.5-1.5,1.5-1.5-.5 .5-2.5-1-.5-3-11.5-2-3-4-13-4-8 0-2-3-6-5-16-9-16 0-2.5-1-.5 0-2.5-2-4-2-1.5-3-6.5-2-1.5-10-21.5-2-1.5 0-1.5-2-1.5-1-3.5-2-1.5z"/>
<path fill="#1414ff" d="M829,1384.5l-3-1-.5-1-1.5,0-.5-1-.5,1-2.5,1 0,1.5-1,.5 0,1.5-1,1 3-2 1,1 5.5-1zM906.5,1343.5l-2,3-1,5.5-1,.5 0,1.5 1.5-1 1.5,2.5 0-2.5 1.5-1 .5-2zM671.5,1289.5l-2,3 0,1.5-1,.5 0,1.5-1,.5 .5,2.5 7-.5 2-3 0-1zM1222.5,984.5l-6,0-1,1 0,1.5-2,1.5 0,1.5-1,.5 0,1.5-1.5,1.5 0,3.5 1,1.5 3,0 4.5-3.5 3-.5 2-2 0-1-1-.5zM687.5,921.5l-2-2-2,0-2.5,2.5 .5,2 3,0zM959.5,811l1.5,1.5 3.5-.5 .5-2 2.5,0 2-1 0-1.5-1-.5 0-1.5-6,0zM899,680l-32-1-2,4.5-4,4.5-1,3.5-4,4.5-4,8 0,2.5-2,2.5 0,2.5-3,5.5 0,2.5-2,2.5 0,2.5-2,2.5 0,2.5-3,5.5 0,2.5-7,14 0,2-3,5 0,2-9,19 0,2-2,3-1,4.5-2,2.5 0,2.5-4,7.5-1,5.5-2,2.5-1,5.5-2,2.5-2,8.5-3,4.5-.5,4-4,7-.5,2.5 3,2.5 0,2-2,2.5 0,2.5-2,2.5-1,4.5-1,0 0-3.5-1-.5 0-6.5-1-.5 .5-9-1.5-2.5-13.5-10-18,0-11.5,13.5-5,9 0,2-3,5 0,2-2,3-3,10-3,5 0,2-3,5 0,2-3,5-1,4.5-2,2.5-3,11.5-2,2.5 2,3 0,2-4,8-2,8-3,5 0,2-5,10 0,2-5,8.5-10,22-3,3-3.5,1-1-1-2,0-9-5-3-3-5-3-13.5-13.5 0-1.5-8-8.5-10-15-3-3-1-3-3-3 0-7 2-3-4-5-7-13-21-25.5-1.5,0-1.5-2-1.5,0-1.5-2-1.5,0-3.5-3-7.5-1-.5-1-4.5,0-.5-1-12,0-.5,1-9.5,1-3.5,3-1.5,0-1.5,2-1.5,0-1.5,2-1.5,0-13,15.5-9,18-2,2-2,5-2,2-2,5-6,9-7,15.5-2,1.5-2,5.5-2,1.5-2,5.5-2,1.5-8,16 0,2 3,5 0,5 1,1 0,2-3,4.5 0,2.5-3,3.5-14,29-8.5,13-4,10.5 0,14 2.5,7 8,12 9,8 13.5,8.5 17,8.5 3.5,.5 7,3.5 4.5,.5 12,5 15.5,4 10,4 4,.5 3,3.5 0,1.5-1,.5 0,1.5-1,.5 0,1.5-2,2.5 0,2.5-3,4.5-6,13.5-13.5,24-2.5,8.5 .5,1.5-1.5,3-5.5,5 0,2.5 7,3.5 4.5,4 3,6 6.5,6.5 7,5 11.5,6 5,1 4,3 2,0 13,8 7.5,2 15.5-2 15,2.5 30,2.5 19,6 8,8 3,7.5 0,5.5 6,7 8,11.5 6.5,6.5 17,11.5 8.5,4 4,.5 7.5,3.5 3,4.5-1,7 1,.5 23-6.5 17,2 17,0 7-1 5,0 15-2 25-7.5 12.5-6 11-7.5 6-6 9-12.5 2-6.5 3-4.5-1-10 1-3.5 5-5 3.5-.5-1-3-4.5,0-2.5-2-2.5-.5-4-3.5-11-22.5 0-6 3.5-6 3-3 11-6 20.5-8 18-5 7-3 9.5-1.5 3.5-1.5 22-3.5 20.5,.5 65.5,9.5 12,4 .5-1.5 1.5,0 .5,2 1.5-.5 0-1.5 1,0 .5,2 1.5-1 2.5,.5 8.5-.5 8,1 1.5-.5 1,2.5 1-2.5 4.5,1 13.5-5.5 8-.5 3-1.5 3,1 4-2 3,.5 6.5-2.5 3.5,0 4.5-2 3.5-.5 10-5.5 9-2.5 2-3 3.5-1 3.5-3.5 2.5-.5 1-2 2.5-1.5-.5-1.5 .5-1.5 1,1 1.5-.5-1-1 3-1 1.5-2.5 1.5-.5 0-2 3.5-5 2.5-7.5 0-4 1-3.5-1-2.5 1-2.5-1-.5-1-4.5-4.5-7.5-2.5-7.5-7-13-5-13.5-3-4.5 0-2.5-4-6.5-1-5.5-2-2.5 0-2.5-4-7.5-1-5-2-3-1-5-3-5-2-8-2-3-1-5-4-8-2-7.5-1-.5 0-2.5-4-6.5-1-6.5-8-15.5 0-6-3-5 0-2.5-5-8.5 0-2.5-9-18-2-2-1.5,0-3.5-4-1.5,0-2.5-3-1.5,0-3.5-4-2,1-1.5,2-3,0-.5-1-2.5,0-.5-1-2.5,0-.5-1-5,2-3.5,4-3.5,1-3.5,4-1.5,0-1,2.5-1.5,1.5-1.5,0-2,2 0,1.5-2,.5-2,2 0,1.5-1,.5-2,5.5-6,7.5-1,3.5-4,4.5-2,5.5-2,1.5-1,3.5-3,2.5-1,3.5-1.5,1.5-5.5-1-2-4.5 0-2.5-1-.5 0-2.5-2-2.5-1-5.5-2-2.5 0-2-2-3 0-3-2-3-1-5.5-2-2.5-2-8-5-11-2-8-4-8 0-2.5-2-2.5-1-5.5-2-2.5 0-2.5-1-.5 0-1.5-1-.5 0-1.5-2-2.5-1-6.5-2-2.5 0-1.5-3-3.5 1-.5 0-6.5 1-.5 1-7-7-9-11-9.5-1-3.5-2,0-5,5-.5,3-4.5,0-.5,1-5.5-.5 0-2-3-5 0-2.5-3-4.5-1-6.5-1-.5-1-4.5-1-.5 0-3 1-.5 0-1.5 2-1.5 1-1.5-1-.5-3-11.5-2-2.5-1-5.5-2-3-1-5-4-8-1-5-2-3-5-16-9-16 0-2-3-7.5-2-1.5-3-6.5-2-1.5-10-21.5-2-1.5 0-1.5-2-1.5-1-3.5-2-1.5z"/>
<path fill="#1818ff" d="M899,680l-32-1-2,4.5-4,4.5-1,3.5-4,4.5-4,8 0,2.5-2,2.5-1,5.5-6,13-3,10-7,14 0,2-3,5 0,2-3,5 0,2-3,5 0,2-2,4.5-1,.5 0,2.5-2,2.5 0,2.5-3,4.5 0,2.5-2,2.5 0,2.5-2,2.5-1,5.5-2,2.5-1,5.5-2,2.5-1.5,8-8,16-.5,2 3,3 0,2-5,10 0,2-1,0 0-3-1-1 0-6-1-1 .5-9-1-2-14-10.5-18,0-11.5,13.5-5,9 0,2-3,5 0,2-2,3-3,10-3,5 0,2.5-3,4.5 0,2.5-6,11.5-3,11.5-2,2.5 2,3 0,2-4,7.5-2,8.5-3,4.5 0,2.5-3,4.5 0,2.5-2,2.5 0,2.5-10,19 .5,1-5,10-4.5,4.5-2.5,0-.5-1-2.5,0-6-3-1.5-2-1.5,0-2.5-3-1.5,0-2.5-3-1.5,0-13.5-13.5 0-1-14-17-4-7-3-3-1-3-3-3 0-7 2-3-4-5-7-13-21.5-25.5-9-6-5-2-4,0-1-1-4,0-1-1-11.5,0-.5,1-5.5,0-.5,1-5,1-9,6-13.5,15.5-9,18-2,2-2,5-2,2-2,5-6,9-7,15.5-2,1.5-2,5.5-2,1.5-2,5.5-2,1.5-7.5,16-.5,2.5 3,4.5 0,5.5 1,.5 0,2-3,4.5 0,2.5-3,4-8,17.5-1.5,1.5-4.5,9.5-1.5,1.5-5,10-1.5,8 0,8.5 1,3.5 6,11.5 9,9 2,2.5 21.5,13 4.5,1 9.5,5 56,16 1.5,1.5 0,1.5-1,.5 0,1.5-1,.5 0,1.5-1,.5 0,1.5-1,.5 0,1.5-6,11 0,2-2,3-1,3-17,34-1,15 5,8 2,1 1,3 4,2.5 3,4.5 10.5,7 5,.5 11.5,7 16.5,5 12.5,.5 21,3.5 26,1 3,1.5 6-.5 18.5,5.5 8.5,8.5 8.5,23 3.5,6 3,2.5 0,2 3.5,2 1.5,3 16,11 31,12.5 36.5,3.5 20-1 7-1.5 5,0 2.5-1 3.5,0 3.5-2 6-.5 3.5-2 3.5-.5 4-2 4-1 5-3 5-1.5 1.5-2.5 4.5-1.5 10-9 1-1-1-1 2-.5 6.5-10 3-9 .5-7-2-12-9-17.5-4-4-6-10-2-7.5 0-3.5 4-5 5-4 17-7.5 60-18 20-3 14,0 33,4 16.5,4 13.5,1 2,1.5 15,2 10,3.5 6.5,1 12-1.5 11,1.5 4-2 6.5-1 3-2 9-.5 2-1.5 4,1 3-2 4,.5 3.5-2.5 7.5,0 14-6 4-2.5 8.5-2.5 2-3 3.5-1.5 2-2.5 5-2.5 2-3.5 4.5-4 3.5-5.5 2-4.5-1-1.5 2-.5-1-4.5 2-1-2-1 1-1 0-8-2-3 .5-2-1-.5 0-1.5-10.5-21 0-2.5-3-4.5 0-2-3-5 0-2-4-7-1-5.5-2-2.5 0-2.5-4-7.5 0-2.5-3-5-1-5.5-3-5-2-8-2-3-1-5-4-8-1-5-6-12-1-6.5-8-15.5 0-6-3-5 0-2-5-9-1-4.5-8-16-2-2-1.5,0-3.5-4-1.5,0-2.5-3-1.5,0-3.5-4-2,1-1.5,2-3,0-.5-1-2.5,0-.5-1-2.5,0-.5-1-5,2-3.5,4-3.5,1-3.5,4-1.5,0-1,2.5-1.5,1.5-1.5,0-2,2 0,1.5-2,.5-2,2-3,7.5-6,7.5-1,3.5-4,4.5-5,10.5-3,3-1,3-2,1.5 0,1.5-2,1-.5-3-2.5-.5-2-4-1-5.5-2-3-1-5-2-3 0-2.5-2-2.5 0-3.5-2-2-1-5.5-3-6-1-5.5-2-2.5 0-2.5-3-5-2-8.5-6-13-1-5.5-6-11.5-1-6.5-3-6-2-1.5 1-.5 0-6.5 1-.5 1-7-5-5.5 0-1-13-12-2-3.5-6,5-.5,3-10,1-.5-.5 0-2.5-1-.5-2-6-4-8 0-3.5-3-5.5 0-3 4-5-1-.5-3-11.5-2-2.5-1-5.5-2-2.5-1-5.5-4-8-1-5-2-3-5-16-9-16 0-2-3-7-7-10-10-21.5-2-1.5 0-1.5-2-1.5-1-3.5-2-1.5z"/>
<path fill="#1c1cff" d="M899,680l-32-1-2,4.5-4,5-1,3-4,5-6,13-1,5-6,13-3,10-7,14 0,2-6,12 0,2.5-3,4.5 0,2.5-3,4.5 0,2.5-2,2.5 0,2.5-3,4.5 0,2.5-4,7.5-.5,5-5,11-2,8-8,16-.5,2 3,2.5 0,2.5-2,3 0,2.5-2,2.5-.5,3.5-1.5,.5 0-3-1-1 0-6-1-1 .5-9-1-2-14-10.5-18,0-11.5,13.5-5,9 0,2-3,5 0,2.5-2,2.5-1,5.5-2,2.5 0,2.5-3,4.5 0,2.5-3,4.5 0,2.5-6,11.5-2.5,11-2,3 0,1.5 1.5,1.5 0,2-4,8-2,8-3,5 0,2-3,5-2,7-5,9-4.5,11.5-5,10-3.5,3.5-3.5,.5-1-1-2,0-9-5-6.5-6-1.5,0-13.5-13.5 0-1.5-8-8.5 0-1.5-6-6.5 0-1.5-2-1.5-2-4-7-9 0-7 2-3-4-5-7-13-21.5-25.5-9-6-5-2-4,0-1-1-4,0-1-1-11,0-1,1-5,0-1,1-5,1-9,6-13.5,15.5-9,18-6,9-2,5.5-2,1.5-2,5.5-2,1.5-7,15.5-2,1.5-2,5.5-5.5,8.5-8,16-.5,2.5 3,4.5 0,5 1,1 0,2-3,5-1,4.5-2,1.5-7.5,17-2,2-4,8 0,1.5-1,.5-3,6 1,1.5-2,3.5 1,1-.5,3.5 1,5.5 3,8.5 6,8.5 4.5,2.5 3.5,4.5 6,3.5 3.5,3 3.5,2 4,1 5,3.5 3,.5 16,6.5 16,3.5 9,3.5 6.5,.5 7,2.5 2-.5 6,2.5 3.5,.5 1,1.5 1.5-2 1.5,1.5-13,26.5-1,3-2,2.5 0,2.5-15.5,30.5-1,9-1.5,.5 1,0 1,1.5 .5,6.5 2,3 1.5,0 0,3 1.5,2.5 4.5,3.5 1.5,3 14,9.5 4,.5 3.5,3 3.5,.5 12.5,5 15.5,2.5 6,0 10.5,2.5 4-.5 18,2 5.5-.5 23.5,1 16,5 3,3 4,7 3,15 4.5,10.5 3.5,6 6.5,6 .5,2 14,10 5.5,1.5 5,3 8,2.5 3.5,2.5 36,5.5 21.5,0 2.5-1 12.5-.5 3.5-2 4.5,.5 5-2.5 6,0 19.5-8.5 1.5-2.5 5.5-2 2-2.5 5-3 6.5-7.5 0-1.5 1.5-1-1-1 1.5,0 3.5-6 2-7.5 0-7-2-8.5-5-10.5-10-14.5-1-3.5-2-1.5-1-3.5-2-1.5 0-1.5-2-1.5 0-1.5-1-.5-2-5.5-3-3.5 1.5-3.5 1,1.5 1.5-2.5 9-5 19.5-7 44.5-12 4-2 16-4 20-3 15.5-.5 12.5,2.5 7,0 28.5,7 7,0 6,2 5.5,0 3.5,1.5 10,1 5.5,2.5 9,1 10,0 2.5-1 14,1 2.5-1.5 7-1 1.5-3.5 .5,3 1.5,.5 2.5-1.5 .5-2 .5,2 2,.5 16-3.5 5.5,1 1-2.5 18.5-5 2.5-3.5 4.5-1 4-2 2-2 2.5-1 2.5-3 4.5-3 .5-1.5-.5-1 2-.5 .5-2 2.5,.5 3-6 3-2 0-1-.5,1-1-.5 1-2.5-.5-2 2-.5-.5-4 1-.5 .5,1 0-1-1-1 .5-2.5-1.5-.5 1.5-3-2.5-7.5-7.5-15 0-2.5-6-11.5 0-2.5-4-7-1-5-6-13-1-5.5-2-2.5-1-5.5-3-4.5-2-8.5-2-2.5-1-5.5-4-7-1-5.5-6-12-1-6-8-16 0-6-3-5 0-2-14-29-7-6.5-1.5,0-2.5-3-1.5,0-3.5-4-3.5,3-3,0-.5-1-5.5-1-.5-1-5,2-3.5,4-3.5,1-3.5,4-1.5,0-1,2.5-3,1.5-2,2 0,1.5-2,.5-2,2-3,7.5-2,1.5 0,1.5-2,1.5-3,6.5-4,5-5,10-6,7.5-1,3.5-1.5,.5-.5-.5 0-1-4-7.5-1-5.5-2-2.5-1-5.5-4-8 0-3.5-2-2.5-1-5.5-3-5.5-1-5.5-2-2.5-1-5.5-2-2.5 0-2.5-1-.5 0-2.5-1-.5 0-2.5-2-2-2-7.5-2-3-1-5-6-12-1-6.5-3-6-2-1.5 1-.5 0-6.5 1-.5 1-7-5-5.5 0-1-13-12-2-3.5-6,5-.5,3-9.5,1-1-.5 0-2-3-5 0-2.5-3-4.5-1-6-3-6 0-3 3.5-4.5-2-4.5 .5-2-1-.5-1-5.5-2-2.5-1-5.5-2-2.5-1-5.5-2-2.5 0-2.5-2-2.5-1-5.5-2-2.5 0-2.5-1-.5-1-5.5-2-3-1-5-9-16 0-2-3-7-7-10-10-21.5-2-1.5 0-1.5-2-1.5-1-3.5-2-1.5z"/>
<path fill="#2020ff" d="M898.5,680l-31-1-6.5,9.5-1,3-4,5-6,13-1,5-6,13-3,10-7,14 0,2-3,5 0,2.5-6,11.5 0,2.5-3,4.5 0,2.5-2,2.5 0,2.5-3,4.5 0,2.5-2,2.5 .5,2-2,3-1,5-5,11-2,8-3,5 0,2.5-5,8.5-.5,2 3.5,3.5-2,4.5 0,2-3,5 0,2-1,.5-.5-.5 0-3.5-1-.5-.5-16-1-2-14-10.5-18,0-11.5,13.5-5,9 0,2.5-3,4.5 0,2.5-2,2.5 0,2.5-3,5.5 0,2.5-3,4.5 0,2.5-3,4.5 0,2.5-3,4.5 0,2.5-2.5,4.5-3,11-2,3 0,1.5 1.5,1.5 0,2-4,8-2,8.5-3,4.5 0,2.5-3,4.5 0,2.5-2,2.5-.5,4-9,17 0,1.5-1,.5 0,1.5-1,.5 0,1.5-1,.5-2,5.5-2,1.5-1,2.5-4,0-1-1-2,0-9-5-3-3-5-3-13.5-13.5 0-1.5-4-3.5 0-1.5-4-3.5 0-1.5-6-6.5 0-1.5-2-1.5-2-4.5-3-2.5-1-3.5-3-2.5 0-7 2-3-4-4.5-1-3.5-2-1.5-4-8.5-21.5-25.5-9-6-5-2-4,0-1-1-4,0-1-1-11,0-1,1-5,0-1,1-5,1-9,6-13.5,15.5-9,18.5-2,1.5-2,5.5-2,1.5-2,5.5-2,1.5-2,5.5-2,1.5-7,15.5-2,1.5 .5,1-8,13-8,16-.5,2 3,5 1,8.5-3,4.5 0,2.5-2.5,3.5-8,17.5-3,4-3,7.5 .5,1-1,5 1,6.5 6,12 10,11 11.5,7.5 23,10 2.5,0 12.5,4.5 2,0 13.5,4 7,.5 14,3.5 9.5,1 .5,1 1-2 1,.5 0,2-1,.5 0,1.5-1,.5 0,1.5-1,.5 0,1.5-1,.5 0,1.5-2,2.5 0,1.5-16,31 0,2.5-9.5,18.5 0,1.5-1,.5 0,1.5-1,.5 0,1.5-1,.5 .5,.5-1,2 1,8 1.5,5.5 2.5,1-1.5,2.5 2.5,1.5-1,2 3,.5 3,4.5 6.5,4 1-.5 .5,2 1.5,0 5.5,4.5 7.5,3.5 3.5,0 3.5,2.5 6.5,1 2.5,1.5 1.5-.5 .5-2.5 .5,3 6.5,2 9,.5 3.5,1.5 4.5-.5 23,2.5 39-.5 4,.5 11.5,5 1.5,1.5 3.5,9.5 1,12 2.5,9 6,11.5 6.5,6.5 2.5,3.5 9,6 7,2.5 5.5,4 2.5,0 3,2 21.5,5 18,2 20,0 15-1.5 2.5-1.5 4,.5 5.5-2.5 7-1 4.5-2.5 12.5-5 2.5-2.5 8.5-5 5.5-5 8-13 1.5-8 .5-7.5-1.5,0 .5-1.5-4.5-12-10-15.5-3-6-2-2-3-7.5-2-1.5-1-3.5-2-1.5-2-5.5-2-1.5-1-3.5-2-1.5 0-1.5-1-.5 2.5-1.5 1.5,0 14-4.5 6.5-1 3.5-2 15-3 5-2.5 15-3 5.5-2.5 22-5.5 9.5-3 6-1 8.5-2.5 20-1.5 23,2.5 19.5,5.5 2.5-.5 7,2.5 30,6 4.5,0 .5-2 .5,2 2,1.5 1.5-2 1,2.5 1-1 7.5,2 8,0 9-1 8,1.5 10.5-2.5 3,.5 7-1.5 3,.5 3-1.5 4,.5 4-2.5 3.5,1 5.5-3 6.5-.5 13.5-5 2.5-3.5 5-1 3-3.5 2.5-.5 1-1.5-1-1 .5-1.5 1,1 2,0 .5,1 2-.5-1.5-4 2,.5 3-4 2-.5 .5,1-.5-2 2-4.5 1.5,1 .5-1.5-1-1 1-1.5-1-1.5 2-.5 0-2-1-.5 2-2 0-.5-2,.5 2.5-7.5-1.5-1.5 .5-2-5-9.5-1-4.5-3-5 0-2-3-5-1.5-6-2-2.5-1-5.5-2-2.5 0-2.5-4-8-4-13-3-5 0-2.5-1-.5-1-5.5-2-2.5-1-5.5-2-2.5 0-2.5-2-2.5-1-5.5-2-2.5 0-2.5-4-6.5-1-6-8-16 0-6-3-5 0-2-14-29-16.5-13.5-3,3-3,0-.5-1-2.5,0-3.5-2-5,2-3.5,4-3.5,1-3.5,4-1.5,0-1,2.5-3,1.5-2,2 0,1.5-2,.5-2,2-3,7.5-11,16-5,10-6,7.5-1,3.5-1.5,1-1-1-.5-3-3.5-6-1-5-2-3-.5-5-4-8 0-3-2-3-1-5.5-2-2.5-5-16-2-3-2-8.5-4-7.5 0-2.5-2-2-1-5.5-6-12-1-6-3-6-2-2 1-1 0-6 2-5 0-3-5-5 0-1-13-12-1.5-3.5-1,0-5.5,5.5-.5,2.5-10.5,1 0-2.5-6-12-1-6.5-2-2.5 0-2-1-1 0-3 3.5-5-1-1-3.5-13-1-.5-1-5.5-2-2.5-1-5.5-2-2.5 0-2.5-2-2.5-1-5.5-2-2.5-2-8.5-2-2.5-1-5.5-9-16 0-2-3-7-7-10-10-21zM890,940l2-1.5 2.5,.5 1.5,1.5-1.5,1.5-3,0z"/>
<path fill="#2424ff" d="M898.5,680l-31-1-6.5,9.5-1,3-4,5-6,13-1,5-6,13-3,10-3,5 0,2.5-4,6.5 0,2.5-3,4.5 0,2.5-3,4.5 0,2.5-3,4.5 0,2.5-5,9.5 .5,2-3,5 0,2-4,8-1,5-2,3-1,5-2,3-1,5.5-1,.5 0,2.5-8,15.5 0,2 3,2.5 0,2.5-5,10 0,2-.5,.5-1-.5 0-3.5-1-.5 0-6.5-1-.5 .5-9-1-2-14-10.5-18,0-2.5,2.5 0,1.5-5,4.5 0,1.5-4,3.5 0,1.5-2,1.5-3,6 0,2.5-3,4.5 0,2.5-2,2.5 0,2.5-3,5.5 0,2.5-3,4.5 0,2.5-2,2.5-.5,4-6,12-3,11-2,3 0,1.5 1.5,1.5-1,5.5-3,4.5-2,8.5-5.5,11.5-2,7-6,11 0,1.5-1,.5 0,1.5-1,.5 0,1.5-1,.5 0,1.5-1,.5 .5,1-4.5,10-.5,4.5-1.5,1-2,0-.5-1-4,0-.5-1-2.5,0-6-3-1.5-2-1.5,0-2.5-3-1.5,0-2.5-3-1,0-13.5-13.5 0-1-14-17-4-6 0-1.5-3-2.5-1-3.5-3-2.5 0-7 2-3-4-4.5-1-3.5-2-1.5-4-8.5-4-3.5 0-1.5-5-4.5 0-1.5-12.5-14.5-9-6-5-2-4,0-1-1-4,0-1-1-11,0-1,1-5,0-1,1-5,1-9,6-13.5,15.5-9,18.5-2,1.5-2,5.5-2,1.5-2,5.5-2,1.5-2,5.5-2,1.5-6.5,15-2,2-2,5-6,9-8,16-.5,2 3,4.5 0,5.5 1,.5 0,3-2.5,4.5-1,4-2,2-5,10 0,1.5-1,.5 0,1.5-1,.5-1.5,6-2,3 1,1 0,9 3,7-1.5,1 3.5,0-1,4 1-.5 3,0-.5,2.5 4.5,3.5 2.5,3.5 7.5,4.5 4.5,4 13.5,5.5 3,2.5 4,0 1.5,1.5 14,4.5 12.5,1.5 16.5,4.5 16,2 4,1.5 2.5-2 1,2-1,.5 0,1.5-1,.5 0,1.5-1,.5 0,1.5-2,2.5 0,2.5-5,8.5-6,13.5-10.5,21 0,2-9,17.5 .5,2-1,1.5 1,.5 0,5.5 1,5 1,.5 2,4.5 0,2 2,.5 2,3 5.5,3 1.5,2 2,1 1.5-1 .5,2 2,0 2.5,4 16,6 3-.5 1,2.5 2-4 2,5 2-3 .5,3 9,1 .5,2 .5-1.5 1.5-.5 1.5,2 1.5-4 .5,3 1.5,1 0,1.5 .5-2 24,1.5 2.5,1 8.5-1.5 32-.5 9-1 6.5,1 9.5,5.5 .5,11.5-.5,8 1,13 4,9.5 5,6 .5,2 2.5,1 2.5,4 12,8 2.5,.5 6,3.5 20,6.5 26.5,3 4.5-1 11,1 30-5 8-4 3,0 15-8 12-12 3-5.5 2-7 .5-8.5-1.5-5.5 0-2-1-1-1.5-4.5-6.5-10-1-3.5-4-5-3-7.5-2-1-1-3.5-6-9-1-3.5-4-4.5-1-3.5-2-1.5 0-1.5-3-3.5 0-1.5-2-1.5 .5-1.5 2,1.5 2-1.5 13-2 21.5-5 5.5-.5 5-2 5-.5 5.5-2 16-3.5 4-2.5 30.5-7.5 3.5-1.5 22-3.5 23,1.5 15.5,5 4.5,0 9,3.5 3-.5 11,4 2.5,0 8.5,2.5 4-.5 2,1 1.5-.5 1,2.5 1.5-3 1,2 1,0 0-1.5 1.5-.5 .5,2.5 2,1-.5,2 1.5-3.5 1,2 1,0 1.5-3 .5,2 14.5,2.5 15.5-.5 .5-.5 2.5,1 5.5-1 2,1 1.5-1 .5-1.5 1,2 2,0 2.5-3 1.5,4.5 0-1.5 3-2 2.5,1 3-1.5 3,.5 3-2 3.5,1 7-3.5 2,2 5-.5 .5-2.5 8-3.5 10-2.5 1-3 1.5-1.5 6,.5-1-4 4.5-.5-1-2 0-2 1,1 3,.5 .5-1.5 4-4.5 1-3 3.5-2-.5-1.5-1,1.5-.5-1 2-3-1-1.5 1.5,0 1.5-2.5-2,0 2-7.5-1.5-.5 .5-3-1.5-2.5 0-1.5-1-.5 0-2.5-3-4.5 0-2.5-2-2.5-1-4.5-4-7-1.5-7-1-.5 0-2.5-4-7.5 0-2.5-3-6-1-5-3-5-2-8-2-3-1-5-4-8-1-5.5-6-11.5 0-2.5-1-.5 0-3-8-16 0-6-3-5 0-2-14-29-2.5-2.5-10-7-4-4-3,3-3,0-.5-1-2.5,0-3.5-2-5,2-3.5,4-3.5,1-3.5,4-1.5,0-1,2.5-3,1.5-2,3.5-4,3-3,7-11,16-2,4 0,1-2,1.5-1,3.5-3,2.5-1,3.5-2,1.5-2,5.5-1-.5-2.5-7.5-2-2.5-1-5.5-2-3-1-5-2-3.5-.5-3.5-1-.5 0-3.5-2-2.5 0-2.5-3-6 0-2-1-.5-1-5.5-5-11-2-8-4-8 0-2.5-2-2.5 0-2.5-3-5.5-1-4-3-5-1-6-3-6-2-2 1-1 0-6 2-5 0-3-4-3.5-1-2.5-13-12-1.5-3.5-1,0-5.5,5.5-.5,2.5-4,0-1,1-5,.5-1-1 0-2-2.5-4.5 0-2.5-3-5-1-6-3-6 0-3 3.5-5-1-1-3-11-2-3-1-5-2-3-.5-5-2-2.5 0-2.5-2-2.5-1-5.5-2-2.5-2-8.5-2-2.5-1-5.5-8-13.5-4-11.5-7-10-10-21zM906,928l-1,2.5-2,1.5 0,1.5-8.5,8.5-3,0-4.5-4-5.5-2-1.5-2-1.5,0-1.5-2-1.5,0-1.5-2-1.5-.5 .5-1.5 3.5,.5 4.5-1 9,.5 4-1 4,.5 4-1.5 2.5,.5z"/>
<path fill="#2828ff" d="M898.5,680l-31-1-6.5,9.5-1,3-4,5-6,13-1,5-4,8 0,2.5-2,2.5 0,2.5-3,5.5 0,2.5-7,13.5 0,2.5-3,4.5 0,2.5-3,4.5 0,2.5-3,4.5 0,2.5-2.5,4.5-2,7-3,5 0,2-4,8-1,5.5-2,2.5-1,5.5-2,2.5 0,2.5-2,3.5 0,2.5-3,4.5 0,2.5-1,.5 0,1.5-1,.5 0,1.5-1,.5 0,1.5-1,.5 0,1.5-1,.5 0,2 3,2.5 0,3-2,2.5 0,2.5-2,2.5-1,4.5-1.5-.5 0-3.5-1-.5 0-6.5-1-.5 0-8.5 .5-.5-1-.5 0-1.5-14-10.5-18,0-2.5,2.5 0,1.5-5,4.5 0,1.5-4,3.5 0,1.5-2,1.5-3,6 0,2.5-5,9.5 0,2.5-1,.5-1.5,7-3,5 0,2-9,19-3,11.5-2,2.5 0,1.5 1.5,1 0,3-1,.5 0,2.5-2.5,4.5-2,8-6,12 0,2.5-2,2.5 0,2.5-2,2.5 0,1.5-1,.5 0,1.5-1,.5 0,1.5-1,.5-1,2.5 .5,2-1,2 0,3-2,5.5 0,6-4,5-9.5,0-9.5-4.5-5.5-5-1.5,0-2.5-3-1.5,0-9-9-12-14.5-10-15-3-3-1-3-3-3 0-7 2-3-4-4.5-1-3.5-2-1.5-4-8.5-9-9.5 0-1.5-4-3.5 0-1.5-5-4.5 0-1.5-3.5-3.5-1.5,0-7.5-6-5-2-9-1-1-1-11,0-1,1-9,1-5,3-1.5,2-1.5,0-1.5,2-1.5,0-9.5,10.5 0,1.5-4,3.5-9,18.5-2,1.5-2,5.5-2,1.5-2,5.5-2,1.5-1.5,5-2,2-7,15-2,2-2,5-6,9-8,16-.5,2 3.5,5 0,5 1,1 0,2-3,5-1,4.5-2,1.5-1,3.5-1,.5 0,1.5-2,2.5 0,1.5-2,3.5 1,1-2,3 1.5,1 .5,9 1.5,3-1,1 3,1-1,3 2.5,.5 1,2 3.5,2.5 1,3 15,9.5 .5,2 6,1 5.5,4 3.5,0 3,2 7.5,1.5 2,1.5 32,6.5 25.5,3 2,2 .5-2 1.5,.5 .5,1.5-1,.5-1,3.5-3,3.5 0,2.5-5,8.5 0,2.5-16,31-1.5,5-4,7 0,2.5-6,11.5 1.5,1.5-.5,5.5 6,13 5,2.5 4,5 8.5,3 3.5,3 12.5,5 2.5-1 1,2 2-4 .5,4 3.5,1 1-3 .5,3 1.5,1 0,1.5 .5-1.5 1-1 2,2 1.5-3 2,4.5 1.5-2.5 1,0 .5,2 1,0 1-2 .5,2 2,0 .5-2 1,2 3-1 1.5,2 1-2 1,1 2.5-.5 1,2.5 1-2.5 8.5,1.5 6.5-1 9,1 14-2.5 26-2.5 15.5-3.5 7.5-3.5 7-5.5 4.5-9.5 4.5-4 4.5-6 10.5-7 8.5-3 2,.5 0,1-2,1.5 0,1.5-5,5.5 0,1.5-2,1.5 0,1.5-2,1.5 0,1.5-4,3.5 0,1.5-2,1.5-1,3.5-3,2.5-1,3.5-3,2.5 0,1-11,7-7,13-4,15 0,10 1,5.5 5,10.5 2.5,2 .5,1.5 6.5,7 8,5.5 5,1.5 6.5,4 3,0 7.5,3.5 2-.5 6.5,2.5 25,2.5 11.5,0 14-1.5 3.5-1 3,0 4.5-2 6.5,0 18-8 1-2 5-2 9-8.5-.5-2 3.5-2-1-1.5 1.5,1 2.5-6 1-6 0-3.5 1-1-2,0 0-1.5 1.5-.5-2.5-5 .5-2-1.5-1 .5-1-1-.5 0-1.5-1-.5 0-1.5-1.5-1.5-3-6.5-2-1.5-3-7.5-5-7-5-10-4-5-4-8.5-4-4.5-1-3.5-2-1.5-1-3.5-5-5.5 1.5-1.5 1.5,1.5 13-1.5 39-6.5 12.5-3.5 8-1.5 4.5-2 44-12.5 19-3 11,0 19.5,4 15.5,5 4,.5 6,3 3-.5 3,2 2.5-.5 6.5,3 .5,2.5 2-4 1,2.5 2-.5 12,2.5 2,1 0,2.5 .5-2.5 3.5-.5 6.5,1.5 .5,2.5 2-4 1,3 1-2 1.5,0 .5,2 1-2 1.5,.5 0,1.5 1,0 .5-2 1.5,.5 0,1.5 1,0 .5-2 1,2 2,0 1-1 .5,2 1.5-2 1,1 21,0 5.5-1 1-1 .5-2 2,5 .5-2 1.5-1 3.5,1 5.5-1 4.5-2.5 3.5,.5 10-4 5.5,0 3-1 3.5,.5-.5-4 1.5-1.5 6.5-1.5 3,0 1,1-1.5-2 .5-3 1,.5 3-.5 1,1-1-3.5 5,.5-1-2 1.5-1 1.5,1-1-2 3-3.5-1-3.5 3,1 0-1 1-.5 .5-3.5 2-.5 .5-1-1-1 0-2.5 1.5-.5-1.5-1 1.5-4-1.5-1 1-3.5-1-1-1.5-6-1-.5 0-1.5-1-.5 0-1.5-1-.5 0-2.5-4-7-1-5-4-8-1.5-7-1-.5 0-2.5-2-2.5-1-5.5-3-5-2-8-2-3-1-5-4-8-1-5-6-12-1-6.5-8-15 0-6.5-1-.5-2-4 0-2.5-5-9 0-2-9-18-16.5-13.5-3,3-3,0-1-1-5-1-.5-1-3,1-5.5,5-3,1-4,4-1,0-1.5,2.5-9,8-3,7-4,5 0,1-2,1.5-3,6.5-2,1.5-5,10.5-3,2.5-1,3.5-2,2-2,5-2,1.5 0,1.5-2,1.5 0-2.5 1-1-1-.5-.5,1-.5-1.5 1-.5 1-4.5-1.5-1 .5-2-1.5-2.5 0-2.5-1-.5 0-2.5-2-2.5-1-5.5-4-8 0-3-1.5-2.5-1-5.5-2-2.5-2-8.5-2-2.5-1-5.5-2-2.5-2-8.5-6-13-1-5.5-6-11.5-1-6.5-3-6-2-1.5 1-.5 0-6.5 2-5 0-3-13.5-14.5-1.5,0-3-3-1.5-4-1,0-5.5,5.5-.5,2.5-4,0-1,1-5,.5-1-.5 0-2.5-3-5-.5-4-3-5.5 0-3.5-3-6 0-3 3.5-5-1-.5 0-2.5-1-1-2-8-2-3-1-5-2-3-1-5-4-8-.5-5-2-2.5 0-2.5-1-.5-1-5.5-2-2.5-1-5.5-9-15.5 0-2.5-1-.5 0-2.5-2-4-4-4.5-13-26.5zM1019.5,1019.5l1.5,2-7.5,6.5-.5-1.5 3.5-3 .5-2.5 2,.5-1-1zM813,903l2.5-.5 10.5,5.5 12,5 3.5,0 16,3 26.5,1 13-.5 4-1.5 4.5,.5 5.5-1 .5,2 2.5-2.5 1,1.5-3,3.5 0,1.5-2,1.5-1,3.5-4,3.5-2,4.5-8.5,8.5-3,0-4.5-4-5.5-2-4.5-4-1.5,0-1.5-2-2.5,0-.5-1-1.5,0-.5-1-1.5,0-2.5-2-2.5,0-.5-1-1.5,0-2.5-2-3.5,0-.5-1-2.5,0-.5-1-4.5,0-.5-1-6.5,0-.5-1-9,0-.5,1-6.5,0-.5,1-1,0-.5-3z"/>
<path fill="#2c2cff" d="M898.5,680l-31-1-6.5,9.5-1,3-4,5-4,8 0,2.5-2,2.5 0,2.5-3,5.5 0,2.5-2,2.5 0,2.5-2,2.5 0,2.5-3,5.5 0,2.5-7,13.5 0,2.5-3,4.5 0,2.5-2,2.5-.5,4-3,5 0,2-3,5-2,7-3,5 0,2-2,3 0,2.5-3,5.5 0,2.5-2,2.5-1,5.5-2,2.5-2,8.5-2,2.5 0,1.5-1,.5 0,2.5-1,.5 0,1.5-1,.5 0,1.5-1,.5 0,1.5-2,2.5 0,2 3.5,2-.5,3.5-1,.5-1,2.5 .5,3.5-1.5,0 .5,3-1,1 1.5,1 .5,2.5-1,1.5 .5,1-1.5,0-1-3.5-2-1.5-1-10-1-1 0-8.5 .5-.5-1-.5 0-1.5-14-10.5-18,0-13.5,16.5-5.5,13 0,2-2,3-3,10-3,5 0,2-9,19-3,11.5-2,2.5 2,3 0,2-4,8-2,8.5-6,11.5 0,2.5-2,2.5 0,2.5-1,.5 0,1.5-1,.5 0,2-1,1 1.5,1-2,3 1,1 0,11.5 1,4 0,2-7,8-2.5,0-.5-1-6.5,0-1-1-3,.5-1-1-2,0-6-3-11-8-13.5-13.5 0-1.5-8-8.5 0-1.5-3-2.5 0-1.5-10-13-1-3-3-3 0-7 1.5-3-3.5-4.5-1-3.5-2-1.5-1-3.5-2-1.5-1-3.5-9-9.5 0-1.5-9-9.5 0-1.5-3.5-3.5-1.5,0-1.5-2-1.5,0-1.5-2-1.5,0-3.5-3-7.5-1-.5-1-4.5,0-.5-1-11,0-.5,1-9.5,1-3.5,3-1.5,0-1.5,2-1.5,0-1.5,2-1.5,0-9.5,10.5 0,1.5-4,3.5-3,7.5-2,1.5-4,9.5-2,1.5-5.5,12-6,9-7,15-6,9-2,5.5-2,1.5-8,16 0,2 3,4.5 0,5.5 1,.5 0,3-3,4.5-1,4.5-3,3.5 .5,1-2,4 1,1 0,2.5-1.5,1 1,0 1,7.5 2.5,5.5-1.5,.5 3.5,0-1,4 1-.5 3,0 0,3.5 6.5,3.5 2.5,3 5.5,2.5 1-.5 .5,1.5 2,.5 4,4 10.5,3.5 4,2.5 2.5,0 7,2.5 12.5,3 3-.5 4,2 23.5,2 4,1.5 4-.5 2.5,1 7.5,0 1,1.5 1.5-2 1.5,1.5 0,1.5-2,1.5 0,1.5-2,1.5-1,3.5-3,2.5-1,3.5-3,3.5 0,2.5-5,9 0,2-13,25-3.5,9.5-3,4.5 0,1.5-1,.5 0,1.5-1,.5-.5,5.5-2,2.5 1.5,1-.5,3 1,1-.5,1.5 4.5,8.5-1.5,2 2-1 2,.5 2,2 .5,2.5 11.5,7 5,.5 .5,2.5 1.5,.5 1.5,0 .5-3 .5,3.5 5.5,1.5 2.5,2 2.5,0 1-2 2,5.5 1.5-3.5 1,0 .5,3 2-4 2,4.5 1.5-2.5 1,0 .5,2 4-1 4.5,1 .5-2 .5,2.5 15,1 24.5-.5 18.5-3 5-2 3.5,0 7-2 11-5 6.5-4 7-6.5 13-17 9-7.5 19.5-5 10.5,1 1.5-1 1.5,2.5-2,.5-2.5,3-2.5,1-1,3.5-3,2.5 0,1.5-2,1.5 0,1.5-2,1.5 0,1.5-3,2.5 0,1.5-2,1.5 0,1.5-2,1.5-2,4.5-4,4-3,6-7,9-1,3-6.5,6.5-1.5,3.5-2.5,2.5-3.5,7.5-2,8.5 0,9.5 4.5,11 2.5,2 0,1.5 3.5,3 .5,1.5 14.5,10 3,.5 4,2.5 16,5 2.5-.5 4,1.5 2.5-.5 13.5,2 22-.5 6-1.5 4.5,.5 4.5-2.5 6,0 18.5-8 1.5-2 7-4 8-9 2-5 1-5.5 2-1-2-1 1.5-5-1.5-1-.5-5.5-4-6 0-1.5-1.5-1.5-10-19.5-2-2-3-6.5-2-1.5-1-3.5-7-9.5-1-3.5-2-1.5-1-3.5-7-7.5 0-1.5-5-4.5 0-1.5-3-2.5 2-1.5 1.5,0 0,1.5 1-1.5 24.5-1 22.5-3 29.5-6.5 5-2.5 7-1 45-14 26-2 17,5 4,0 17,7 3,0 2.5,2 3,0 3,2 3,0 6.5,3 8,1 1.5,2 0,1.5 0-2 1.5-1 2,2.5 1.5-4 1,4 4.5-1 1.5,2 0,2.5 1.5-3.5 1,0 .5,3 1.5-4 1,3 1,0 1.5-4 .5,3 1.5,1 0,2.5 0-1.5 1.5-1 2,.5-.5,2.5 1.5-4 2,2 1.5-2 1,2 1.5,0 .5-2 .5,2 2,0 .5-2 1.5,3 1.5-2 .5,2 1.5,0 .5-2 1,0 1,3.5 1-2.5 6.5-1 .5,2 1,0 .5-2 2,3 .5-2 1.5-1 .5,1 4.5-.5 1,3 0-1.5 2-2 3,1 3-1.5 2.5,.5 3.5-1 1,2.5 3-3.5 5,.5 4.5-2.5 2,1.5-.5,2 .5-1 1.5,0 2.5-2 1.5,.5 .5-2.5 9-4.5 9-1.5 2-3.5 3.5-.5 1.5,1 0-2.5 1-1 2-.5 1,1-1-2 0-2.5 4,.5 .5,1-.5-2 1-1 0-1.5-1-.5 0-2 2,1.5 1-.5-1-.5 0-2 2.5,1.5-.5-2 .5-.5 1.5,.5-1-2 1-.5 1.5,1.5 0-1-1-.5 0-2 2-.5 0-1-1,1-1-1 2.5-8.5-1-.5 .5-4.5-1-.5 0-2-1-.5 0-2.5-1-.5 0-1.5-1-.5 0-1.5-2-2.5-1-5.5-2-2.5 0-2.5-4-8-3.5-12.5-3-5-2-8.5-2-2.5 0-2.5-1-.5 0-2.5-4-8-1-5-6-12-1-6.5-8-15.5 0-6-3-4.5 0-2.5-5-8.5 0-2.5-9-18-16.5-13.5-3,3-3,0-7-3-4,2-4,4-3,1-4,4-1,0-1.5,2.5-9,8-3,7-2,1.5 0,1.5-4,4.5-1,3.5-4,4.5-2,5.5-2,1.5-1,3.5-3,3-1,3-2,2-2,5-2,1.5-2,5.5-2,1.5-1,3.5-2,1.5 0,1.5-4,4.5-1,3.5-7,7.5 0,1.5-11.5,11.5-1.5,0-4.5,4-4.5,.5-2-5 6.5-11.5 5-5 15-12-.5-1.5 .5-1.5 .5,1 2-.5 1-2-.5-2 1-.5 1.5,1 1-2.5-2-1 .5-1.5 .5,1 1,0 0-1.5 1-.5 .5,2 0-2 2.5-1-1-3.5 1.5,.5 .5-4-1-.5 2-.5 .5-2-1.5-1 .5-5-1-.5 .5-1-1.5-2.5-1-5.5-1-.5 0-1.5-1-.5 0-2.5-2-2.5 0-3.5-2-3-1-5-3-6-1.5-7-1-.5 0-2.5-1-.5 0-2.5-2-2.5-2-8.5-2-2.5 0-2.5-4-8-1-5-2-3 0-2.5-4-6.5-1-6.5-3-6-2-1.5 1-.5 0-6.5 1-.5 1-7.5-13.5-14.5-1.5,0-3-3-1.5-4-1.5,0-5,5-.5,3-10,1.5-1-.5 0-2.5-6-12-1-6-1.5-2.5 0-2.5-1-.5 0-4 3.5-4.5-1-.5 0-2.5-1-.5 0-2.5-1-.5-1-5.5-2-3-1-5-2-3-1-5-4-8-1-5-2-3 0-2-2-4 .5-2-3-5.5 0-2.5-9-15.5 0-2.5-1-.5 0-2.5-2-4-2-1.5-3-6.5-2-1.5-10-21.5zM801,877l3-1 0,4.5 5,1-1.5,4 2-.5 9.5,7 10,6 3,0 3,2.5 8,1.5 2.5,1.5 19.5,2.5 13.5,1 20.5-1.5 3-1 4,.5 11-3.5 3.5,1.5 1-1 .5,1.5-1,.5-1,3.5-2,1.5 0,1.5-3,3.5-1,3.5-4,4.5-1,3.5-4,4-2,4-8,8.5-3.5,0-1.5-2-8.5-4-7.5-6-2.5,0-6.5-4-2.5,0-.5-1-1.5,0-2.5-2-3.5,0-.5-1-2.5,0-.5-1-4.5,0-.5-1-6.5,0-.5-1-9,0-.5,1-6.5,0-1.5,1-.5-2.5-9-17-1-4.5-1-.5 0-1.5-2-2.5 0-2.5-1-.5-1-3.5-2-1.5 0-2.5-1-.5 0-1.5-1-.5 0-1.5z"/>
<path fill="#3030ff" d="M791,1128l-2,0-.5,1-3.5,1-1.5,2-1.5,0-1.5,2-1.5,0-4.5,4-3.5,1-1.5,2-1.5,0-2.5,3-2.5,1-1,3.5-3,2.5 0,1.5-2,1.5-2,4.5-3,3-6,10-6,6.5-1,3.5-3,3-5,9-7,9-4,12-.5,6.5 1.5,8.5 2,4 2,1 4.5,7 14.5,9.5 5,1 2.5,2.5 15,4 6.5,.5 .5,3 .5-2 1-1 1.5,2 .5-1.5 1.5-.5 1,2 1-2 1.5,0 .5,2 1-2 1.5,.5 0,1.5 1,0 .5-2 1.5,1.5 9,.5 14.5-2 4,.5 10-3.5 4,0 5-3 9.5-3.5 10-7 4-5.5 0-1.5 1.5-.5 3.5-7 1-10.5-1-.5 0-2.5-2.5-3.5 0-1.5-3-6-5-7 .5-1-2-4-2-1.5-1-3.5-4-5-4-8.5-4-4-1-3.5-2-2-3-6-10-11 0-1.5-9-9-2.5,0-1.5-2-2.5,0-1.5-2-3.5,0-.5-1-2.5,0-.5-1-4.5-1zM1186,1084.5l-2-.5 1.5-3-1.5-1.5 .5-2-2-2.5-1-5.5-2-2.5 0-2.5-4-7.5-1-5.5-2-3-1-5-2-3 .5-1-1.5-1.5-1.5-7-2-3 0-2.5-3-5.5 0-2.5-2-2.5-1-5.5-6-12-1-6-8-16 0-6-8-15.5 0-2.5-9-18-16.5-13.5-3,3-3,0-7-3-4,2-4,4-3,1-4,4-1,0-1.5,2.5-5,3.5 0,1.5-4,2.5-3,7.5-6,7.5-1,3.5-2,1.5 0,1.5-2,2-5,10-6,7.5-1,3.5-3,3.5-2,5.5-2,1.5-1,3.5-6,7.5-1,3.5-3,2.5 0,1.5-3,2.5-1,2.5-11.5,11.5-9,5-6,0-4.5-4-2.5-5 0-3.5 3.5-7.5 9.5-9 7.5-4 5-5 5-3.5 9-9 0-3 4-2-1-3 .5-.5 1.5,.5-1-1 1-2.5-1-.5 2-1 .5-3-1.5,0 .5-4.5-1-.5 .5-1-.5-2-1-.5 0-2.5-1-.5 0-1.5-1-.5 0-3.5-2-2.5 0-2.5-3-6-5-16-2-3-2-8-1.5-2.5 0-2.5-4-7.5 0-2.5-3-6 0-2-4-7-1-6-3-6-2-2 1-.5 0-6.5 1-.5 1-7.5-13.5-14.5-1.5,0-3-3-1.5-4-1.5,0-5,5-.5,3-4.5,0-.5,1-5,1-1-1-1-4-1-1 0-1.5-1-.5 0-2.5-3-4.5-1-6.5-3-6.5 1.5-5 2.5-2.5-1-.5-3-11.5-2-2.5-1-5.5-2-3-1-5-4-8-1-5-2-3-5-16-8.5-15.5 0-2.5-1-.5 0-2.5-2-4-2-1.5-3-6.5-2-1.5-10-21.5-2-1.5 0-1.5-2-1.5-1-3.5-3.5-4.5-31-1-1.5,1.5-1,3.5-4,4.5-1,3.5-4,4.5-4,8 0,2.5-2,2.5-1,5.5-2,2.5 0,2.5-4,7.5 0,2.5-3,5.5 0,2.5-7,13.5 0,2.5-2.5,4.5 0,2-9,19-2,7-3,5 0,2.5-2,2.5 0,2.5-2,2.5-1,5.5-2,2.5-1,5.5-2,2.5-1,5.5-1,.5 0,2.5-1,.5 0,1.5-2,2.5 0,2.5-1,.5 0,1.5-1,.5 0,1.5-2,2.5 0,1.5 2,1.5 2,0-.5,5-1.5,1 2,1-1.5,1 1,1-2,1 2,1 0,4.5-.5,.5 1,.5 4,9 2,2 3-.5-2,5 6-.5-.5,1.5 4,3 2.5,4 3,1.5 3.5,0 5.5,4.5 18.5,5.5 5,.5 4.5-.5 1,2 2-3 .5,2 1,0 0-1.5 1.5-.5 .5,2.5 26,.5 6-1.5 3,.5 3.5-1.5 2,.5 6-2 2.5,.5 .5,2 .5-2.5 9.5-3 .5-2 2,0 2-1.5-1,3-1,.5 0,1.5-1,.5 0,1.5-1,.5 0,1.5-1,.5 0,1.5-1,.5 0,1.5-1,.5 0,1.5-2,1.5-2,5.5-2,1.5-1,3.5-7,10-1,3.5-4,3-2,4.5-8.5,8.5-3,0-5-4-5-2-4.5-4-1.5,0-1.5-2-2.5,0-13.5-7-3.5,0-.5-1-7.5-1-.5-1-6.5,0-.5-1-9,0-.5,1-6.5,0-2,1-1-5-3-4.5-2-5-3-5 0-2-4-7 0-2.5-2-4-2-1.5 0-2.5-3-4.5 0-2.5-1-.5 0-1.5-1-.5 0-1.5-1-.5 0-2.5-1-.5-2-5.5-2-1.5-3-22.5-13.5-10-18,0-2.5,2.5 0,1.5-5,4.5 0,1.5-4,3.5 0,1.5-4.5,7.5 0,2-3,5 0,2-2,3-3,10-3,5 0,2-3,5 0,2-2,4.5-1,.5 0,2.5-3,4.5-3,11.5-2,2.5 2,3 0,2-4,8-2,8.5-1,.5 0,1.5-1,.5 0,1.5-1,.5 0,2.5-2,2.5 .5,1-3,7 1.5,1-.5,4-1,1 2,.5 1,8.5 3,7.5 .5,4.5-1.5,3.5-3.5,3.5-1,0 .5,1-2,1.5-10.5,1-1-1-10.5-.5-.5-1-2.5,0-6-3-1.5-2-1.5,0-2.5-3-1.5,0-2.5-3-1,0-13.5-13.5 0-1.5-8-8.5 0-1.5-6-6.5 0-1.5-2-1.5-2-4.5-3-2.5-1-3.5-3-3 0-7 1.5-3-4-5-7-13-3.5-3.5 0-1.5-5-4.5 0-1.5-4-3.5 0-1.5-5-4.5 0-1.5-3.5-3.5-1.5,0-1.5-2-1.5,0-1.5-2-1.5,0-3.5-3-7.5-1-.5-1-4.5,0-.5-1-11,0-.5,1-9.5,1-3.5,3-1.5,0-1.5,2-1.5,0-1.5,2-1.5,0-9.5,10.5 0,1.5-4,3.5-3,7.5-2,1.5-3.5,9-2,2-2,5-2,2-2,5-6,9-7,15.5-2,1.5-2,5.5-2,1.5-2,5.5-2,1.5-5,10 0,1.5-1,.5 0,1.5-2,2.5 0,2 3,4.5 0,5.5 1,.5 0,3-1,.5 0,1.5-2,2.5 0,2.5-1,.5-1,2.5 1.5,1.5-1,2 1.5,7.5 2.5,1.5-1,2.5 4,5.5-1.5,2 3,0 4,2.5 1.5,3.5 4,1.5 3,3 6,2 4,3 4,1 5,2.5 1.5,0 1-1.5 1,3 2,.5 1-2.5 .5,3 5,.5 3.5,1.5 1-1 1,2.5 6.5,.5 .5-3 .5,3.5 1.5,1 0,1.5 1.5-3 2,2 0-1.5 1.5-1.5 .5,3 17.5,2 32.5,1.5 0-1 2-1 0,1.5 1,.5-1,.5 0,1.5-6,6.5 0,1.5-2,1.5 0,1.5-2,1.5-3,6.5-3,3-1,3-2,2-3,8-3,4.5 0,2.5-9,17-4.5,11.5-2,2.5 0,1.5-1,.5 0,1.5-1,.5-1,2.5 .5,2.5-1.5,1 .5,2-1,1 1,1.5 1,5 2.5,6 3.5,2 1,3 10.5,6.5 .5,2 4.5,1.5 3-1 1.5,1.5 .5,2.5 1.5-.5 1.5-2.5 1,3 3,.5 3,1.5 2,0 1-2 1,3.5 9,.5 1-2 .5,2.5 2,1 2-1.5 .5,3 1-2.5 1.5,.5 .5,2 1-2 1.5,.5 0,1.5 1.5-2 1,0 1.5,2 .5-2 4.5,1 7-.5 2.5,.5 28.5-2.5 13-3.5 17-7 10-9 10-12.5 5-8.5 6.5-7 3.5-2.5 9.5-3.5 6-.5 24.5,.5 11,1.5 3,1.5 1.5-1 5,0 .5,1 7.5,0 2,1 29.5,0 23-1.5 20-3 7.5-2.5 5,0 4-2 6-.5 15.5-4.5 21-8 5.5-.5 17-5.5 9-2 9,0 13.5,2 16,5 18.5,8 3.5,.5 3.5,2.5 7,1 2,2 10,2 0,2.5 1.5-3.5 1,.5 .5,3 1,0 .5-1 5.5,.5 1.5,1 .5,2 2-4 .5,2.5 1.5,.5 0,2.5 1.5-3.5 2,3 1-4 1,3 1,0 .5-2 1,2 2.5,.5 .5,3 .5-3 3.5,1 1-2 1,2.5 1,0 .5-2 1,0 .5,2 1,0 .5-2 1,0 0,1.5 3,0 .5,2 .5-2.5 18.5,.5 2.5-1.5 .5-2 1.5,4 2.5-3 .5,2 6-1-.5,3.5 0-1.5 1.5-2 9.5-2 3,0 10-3.5 4,.5 5-2 3.5,.5-.5-6.5 10.5-.5 .5,1-1.5-3 1-1-.5-1 1.5-.5 1,2.5 1,0-.5-2 1-1.5 2.5-.5 1,1-1-2 3-3-1-2 2.5,1.5-.5-2.5 2.5,1-1-2.5 2.5,.5-1-2 1.5-2.5 1,.5-1-2 .5-1 1.5,2-1-4 1-2-.5-2zM658.5,1057l11.5,7.5 3.5,5 .5,3 2,.5 0,2.5 1.5,1-1.5,1.5-2-1.5 0-1.5-7-6.5 0-1.5-7-6.5 0-1.5z"/>
<path fill="#3434ff" d="M789,1128l-.5,1-3.5,1-1.5,2-1.5,0-4.5,4-1.5,0-1.5,2-6.5,3-5,4.5-1,3-3,3-4,6 0,1.5-3,2 0,1.5-2,1.5 0,1.5-2,1.5-2,4.5-4,4-3,6-3,3-1,3.5-6.5,9-4.5,12 0,7 1.5,5 6,9.5 15.5,11 9.5,3.5 6,1 6,2.5 5,.5 1-1 .5,2 1,0 0-1.5 1.5-.5 .5,2 2,.5 .5,1 0-1.5 1.5-.5 .5,2 1-1.5 5.5,.5 12.5-.5 1,2 1-2.5 3,1 7-1 3-1.5 4,0 22-9 1.5-2 3.5-1.5 5.5-5 .5-2.5 .5,1 1.5-.5-.5-1.5 3.5-5 1-12.5-1.5-1 .5-2-2-4-1-.5-1-3.5-2-1.5-2-5.5-2-2-2.5-6-2-1.5-4-8.5-4-5-1-3.5-2-1.5-1-3.5-12-13.5-1-2.5-8-8-2.5,0-1.5-2-2.5,0-1.5-2-3.5,0-.5-1-4.5-1-.5-1zM1183,1076l-1,0-.5-6.5-2-2.5 0-2.5-2-2.5 0-2.5-2-2.5 0-2.5-3-5.5-1-5.5-3-5-2-8-2-3-1.5-7-1-.5 0-2.5-2-2.5-1-5.5-6-12-1-6-8-16 0-6-8-15.5 0-2.5-9-18-2.5-2.5-1.5,0-3.5-4-1.5,0-2.5-3-1.5,0-3.5-4-3,3-9-2-1-1-4,2-4,4-3.5,1-3.5,4-1.5,0-1,2.5-1.5,1.5-1.5,0-2,2 0,1.5-4,2.5-3,7.5-4,4.5 0,1.5-7,10-5,10-3,3-1,3-6,9-2,5-9,13-1,3-7,7.5 0,1.5-11.5,11.5-9,5-6.5,0-9-4-6-7-1-3 0-5.5 1-4 2-3 7.5-7 6.5-4.5 3.5-.5 1.5-2.5 5-1.5 1-2.5 10-6.5 1-2.5 1,1 2-.5 .5,1-1-2 2-3 1.5-1 1.5,1-1-4 1-.5 1.5,.5-.5-2.5 2.5,.5-1-4 2-.5 0-2-1-.5 2-1-2-1 2-.5 .5-2.5-1.5,0 .5-4-1-.5 0-3.5-2-2.5-1-5.5-2-2.5-2-8.5-1-.5-2-7.5-2-3-2-8-3.5-7.5 0-2.5-2-2.5-1-5.5-6-12-1-6-3-6-2-2 1-1 0-6 1-1 1-6.5-5-5 0-1.5-8.5-8.5-1.5,0-3-3-1.5-4-1.5,0-5,5-.5,3-4.5,0-.5,1-5,1-2.5-.5 .5-2-1.5-1 .5-3-1-1 0-2.5-3-5-1-6.5-3-6 0-3 4-5-1-.5 0-2.5-1-.5-2-8.5-2-2.5-1-5.5-2-2.5-1-5.5-2-2.5 0-2.5-5-11-5-16-7-12-4.5-13-2-1.5-3-6.5-2-1.5-10-21.5-2-1.5 0-1.5-2-1.5-1-3.5-3.5-4.5-31-1-1.5,1.5-1,3.5-4,4.5-1,3.5-4,4.5-4,8 0,2.5-2,2.5-1,5.5-2,2.5 0,2.5-4,7.5-1,5.5-5,9.5 .5,2-4,7 0,2-3,5 0,2-9,19 0,2-2,3 0,2.5-3,4.5 0,2.5-2,2.5 0,2.5-3,5.5 0,2.5-2,2.5-1,5.5-2,2.5-2,8.5-1,.5 0,1.5-2,2.5 0,2.5-1,.5 4,1.5-1,2.5-2,0 2,.5 .5,2.5-1,3.5-1,.5 1-.5 2,.5-2,1.5 1.5,1.5 0,2 2.5,0-1,.5-1,2 3,6 3.5,.5-1.5,4 5.5,.5-1,3 1.5,1.5 8.5,6 13,6 7.5,1.5 10.5,3 1-2 1,3 2-4 .5,3.5 1.5,.5 0,1.5 1-1.5 3.5,0 5,.5 .5,2.5 .5-2.5 9.5-.5 .5,2 1,0 1-2 1,1 4-.5 .5,1 1.5-.5 .5-2 2,3.5 0-1.5 1.5-1 9-.5 4.5-2 4,.5 5-2 7.5-.5 6-3 4,.5 0,1.5-1,.5-1,3.5-2,1.5 0,1.5-1,.5 0,1.5-6,12-2,1.5-2,5.5-5,6.5-1,3.5-4,4.5-1,3.5-4,4-2,4-8.5,8.5-3,0-1.5-2-1.5,0-1.5-2-5.5-2-8-6-2,0-7-4-2,0-4.5-3-3.5,0-3.5-2-4.5,0-.5-1-6.5,0-.5-1-8.5,0-1,1-6,0-2.5,1 0-2.5-9-17 0-2.5-3-4.5-1-4-4-6 0-2-3-5 0-2.5-3-4.5 0-2.5-3-5.5-2-1.5 0-3.5-1-.5 0-6.5-1-1 0-8.5-1-3-13.5-9.5-18,0-11,13-5,9 0,2-3,5 0,2-2,3-3,10-3,5 0,2.5-3,4.5 0,2.5-6,11.5-3,11.5-2,2.5 0,1 2,1.5 0,3-1,.5 0,2.5-2,2.5 0,1.5-1,.5-2,8.5-2,2.5 0,4-1,.5 .5,1.5-1.5,3 1.5,0 0,3 3,8 8,15.5 .5,3.5-1.5,4-6,5.5-14,4-14-.5-.5-1-3.5,0-.5-1-2.5,0-6-3-5.5-5-1.5,0-2.5-3-1.5,0-13.5-14 0-1-13.5-16.5 0-1.5-2-1.5-2-4.5-3-2.5-1-3.5-3-2.5 0-8 1.5-2.5-4-5-7-13-9-10 0-1-3.5-3.5 0-1.5-5-4.5 0-1.5-3.5-3.5-1.5,0-7.5-6-4.5-1-.5-1-9.5-1-.5-1-11,0-.5,1-9.5,1-3.5,3-1.5,0-1.5,2-1.5,0-1.5,2-1.5,0-9.5,10.5 0,1.5-4,3.5-2.5,7-2,2-4,9-2,2-2,5-2,2-2,5-6,9-7,15.5-2,1.5-2,5.5-2,1.5-2,5.5-2,1.5 0,1.5-1,.5 0,1.5-1,.5 0,1.5-1,.5 0,1.5-1,.5 0,1.5-1,.5 0,1.5-1,.5 0,1.5-2,2.5 0,2 1,.5 0,1.5 2,2.5 0,5.5 1,.5 0,3.5-2,4 2,1.5 0,1.5-2,2 1.5,.5 2,4.5-1,2 2.5,.5 2,4.5 4.5,3 1,3 2,1.5 2.5,0 1,2 7.5,5.5 15.5,6 1.5-.5 .5-2 .5,3 4,1.5-1.5,1 1,.5 0,1.5 .5-3 3,1 .5,2 0-1.5 2-2 1,2.5 4-.5 .5,2 1.5,1 0,1.5 1.5-3.5 1,0 1,3 1.5-4 1,3.5 8-.5 10.5,2.5 14.5,0 5,1 20.5-.5 1,1 2.5-2 1,.5-1.5,6-4,3.5 0,1.5-2,1.5 0,1.5-6,6.5 0,1.5-2,1.5 0,1.5-4,5-1,3-3,2.5-1,3.5-2,1.5-1,4.5-5,9-1,4.5-11.5,22.5 0,1.5-1,.5 0,1.5-1,.5-.5,4-1,1 1,.5-1,1.5 1,1-2,1 1.5,.5 1.5,5.5 2,1-.5,2 1.5,1.5 .5,1.5 6,4 .5,2-.5,1 1.5,0 .5,2 1-2 3,1 8,4.5 0,3 .5-2.5 6.5,2 0-1.5 1,0 .5,2.5 1.5,.5 0,2 1-2.5 2.5,1.5 3-.5 2.5,1.5 0,2.5 0-2 1-1 2,1 0,1.5 .5-2 1.5-.5 1,2.5 2-4 .5,3 1,0 0-1.5 1.5-.5 .5,2 1.5,1 0,1.5 1,0 .5-2 1.5,.5 0,1.5 1,0 0-1.5 1.5-.5 1,2 .5-1.5 2-.5 2.5,.5 8-1 6,.5 .5,2 0-1.5 2-1.5 9.5,.5 12-2 3-2 12-3 11.5-7 11-10.5 5.5-8.5 4.5-11.5 5.5-10.5 5-3 9.5-3 31,2 38.5,5 22,1 24.5-1 20.5-3 22.5-4.5 3-1.5 7.5-1.5 8-3.5 12.5-3 6.5-3 3-.5 8.5-4 4-.5 11.5-4 11-2 9,0 10,2 7,3 30.5,15 2.5,0 13.5,5 2.5,0 .5-1 1.5,1.5 .5,2.5 1.5-.5 1.5-2.5 1,3 5,.5 1,1 0,2.5 1.5-5 2.5,5.5 1.5-3.5 2,3 1.5-4 .5,2.5 1.5,1 0,1.5 1-1 1,0 1-2 1,3 1-2 3.5,1 .5-3 .5,3 1.5,1 0,1.5 1,0 .5-2 1,0 .5,2 1,0 1-2 1,2.5 1,0 1-2.5 1,2.5 1,0 1-2.5 1.5,3 2-2 1.5,3 0-1.5 1.5-1 20-1 1-1 .5-2 1,2.5 4-1 2.5,1 3-1.5 4,.5 3-2.5 2,0 1,1.5-.5,2 .5-1 1.5,0 2.5-2 1.5,.5 1-2.5 6.5-2.5 2-2 11-.5-1.5-1.5-.5-3.5 6,0 .5,1-.5-2.5 3-.5 0-1.5 1-2 3,1.5-1-5 1.5,.5 1-2 1.5,1-.5-3 2.5,1.5-1-2.5 2-2-.5-2 2-.5-1.5-1zM641,1041.5l1.5-1.5 2,3 1-1.5 1,1.5 1-1.5 19.5,2.5 11.5,7.5 8,10 4.5,12.5 .5,3.5-1,3-5.5,5.5-1-1-1.5,0-15.5-16.5 0-1.5-7-6.5-1-2.5-10-9.5 0-1.5-2.5-1-.5-1-1.5,0-1.5-2-1.5,0zM938.5,872l-1.5,2-1.5,4-.5-2-1-.5 0-3z"/>
<path fill="#3838ff" d="M789,1128l-4,2-1.5,2-1.5,0-7.5,6-3,1-8.5,6-1,3.5-3,2.5 0,1.5-2,1.5-2,4.5-3,3-6,10-4,4.5-2.5,5.5-3,3-1.5,3.5-2.5,3-3,7-1,5.5 1.5,8.5 5,9 17,12 3.5,0 3.5,2.5 3,0 5.5,2.5 3,0 9,2.5 1.5-.5 19.5,.5 6.5-1.5 4,.5 10-2.5 5-2.5 4-.5 9.5-4.5 3-3 2.5-1 4-4 2-3.5 0-1.5 4.5-3.5 0-1-1,1-.5-1.5 1.5-.5-1.5-1.5 1-1 .5-5-1.5,0 .5-3.5-1-2.5-1-.5-2-5.5-2-1.5-1-3.5-4-5-3.5-8-2-1.5 0-1.5-2-2-4-8-7-8 0-1.5-5-4.5 0-1-9.5-9.5-2,0-6-4-3,0-5.5-3zM707,1102l-4-7-8.5-5-7-1.5-3.5-3.5-1.5,0-22.5-24.5 0-1.5-11-10.5-1-2.5-3.5-1-1.5-2-1.5,0-2.5-2-1.5,0-1.5-2-11,1-.5,1-2.5,0-.5,1-3.5,0-2.5,2-6.5,1-2,4.5-4,3.5-2,4.5-3,2.5 0,1.5-3,3-4,7.5-2,1-1,3.5-2,1.5-2,4.5-2,2-2,6.5-4,6.5 .5,2-9,17 0,1.5-1,.5 0,1.5-1,.5-2,5.5 1.5,1.5 0,6-.5,1 2,1-1,1 2,.5-1,2.5 3,.5 2.5,2.5 .5,2 3,1.5 1,2 2,0 10.5,5 1.5,2 0,1.5 0-1.5 2-2 1,3 3.5-1 2.5,1.5 3.5,0 .5,2.5 1.5-4 1,3 1,0 0-1.5 1.5-.5 .5,2.5 2.5,1 0-1 1.5-.5 0,1.5 1.5,.5 1-2 1,2 1.5-.5 0-2.5 2,2.5 11,.5 1-1 .5-2 .5,2 1,1 1.5-2 1.5,3.5 1.5-2.5 2,0 1-1 .5,2 1,0 .5-2 1,1 1.5,.5 2.5-1.5 10.5-.5 2.5-1.5 7-1 9-3 11.5-7 8-8 6-9 3.5-10-.5-7 1.5-4.5zM477.5,976.5l0,2 7.5,3.5-.5,7.5-1,1 1.5,1.5 .5,3-1,.5 1.5,.5 3,7.5 3,1 1,4 4.5,2.5 2-1 .5,2 2,.5-1,1 11,7 2.5,.5 11.5,5.5 1.5-1.5 .5,2 1.5,1 0,2 .5-2 2-1 2.5,2 0,2 2-4 2,4.5 2-3.5 .5,2 1.5,1 0,1.5 1.5-2.5 1,0 1,2 1.5-3 .5,2 7.5,.5 1,2 1-2 1.5,0 .5,2.5 1-2.5 1.5,.5 .5,2 1-2 1.5,1 9,1 12-1 11.5,1 60.5-6.5 7.5,0 5,1.5 8,3 10,9 12,18.5 7.5,17.5 9,8.5 4.5,2.5 12.5,4 11,1 18.5,4.5 4.5,0 20.5,3.5 16.5,2 24,1 30-2 17.5-2.5 2.5-1.5 14-2.5 4-2 7.5-1 21.5-8.5 3-.5 27-11.5 14.5-3 6.5,0 13.5,4 18.5,11 7.5,3 4,3.5 9.5,3.5 6,3 2.5,0 2.5,1.5 2,0 .5-1.5 1.5,1.5 1.5,4.5 1.5-5 1,3 4.5,1.5 1-1.5 .5,2 1.5,1 0,2.5 1.5-3.5 1,.5 .5,1.5 1-2 1,1 1,0 2,1.5 0,1.5 2-4 2,5.5 1.5-3.5 1,0 .5,3 1.5-4 1,2.5 1,.5 1-.5 .5-2.5 .5,3 1,0 .5-2 .5,2 2.5,1 0,1.5 1-2 5,0 1.5,2 1-2 1.5,.5 0,1.5 1,0 0-1.5 1.5-.5 .5,2 .5-1.5 2-1 .5-2 2,4 1-2 1.5,1 4-.5-2-1 1-.5 .5-2 1.5,4 1,0 .5-2 2,3.5 0-1.5 2-1 2,.5 3.5-1 3,1 2.5-1.5 3,.5 3.5-2 3.5,1 3-2.5 3.5-1 5.5,.5 5.5-3 5,0 .5,1 0-1-1.5-.5 .5-4.5 3.5-.5 1,1 4-.5 0-3.5-1-.5 0-1 4,1.5 1-2.5-1-1 0-1.5 2,3 2-.5 .5,1-1-4 1-.5 2,1.5-1-2 .5-2 1.5-1.5 1.5,.5-.5-2.5 .5,1 1-.5 1-2.5-1.5,1-.5-1.5 1.5-1.5 2,.5-1.5-.5 2-7.5-1-.5 0-2.5-1.5-2.5-1-4.5-1-.5 0-2.5-1-.5 0-2.5-2-2.5-1-5.5-3-4.5-2-8.5-2-3-1-5-4-8-1.5-7-1-.5 0-2.5-4-6.5-1-6.5-8-16 0-6-3-4.5 0-2.5-5-8.5 0-2.5-9-18-2.5-2.5-1.5,0-3.5-4-1.5,0-2.5-3-1.5,0-3.5-4-3,3-3,0-.5-1-2.5,0-3.5-2-5,2-3.5,4-3.5,1-3.5,4-1.5,0-1,2.5-1.5,1.5-1.5,0-2,2 0,1.5-4,2.5-3,7.5-11,16-5,10-3,3-1,3.5-2,1.5-2,5-2,2-2,5.5-2,1.5-1,3-6,7.5-1,3.5-3,2.5 0,1.5-3,2.5-1,2.5-11,11.5-2,.5-4.5,4-2,0-1,1-11.5-.5-8.5-4-5.5-5-6-10.5-1-8 2.5-4.5 14-12 13.5-6.5 4-3.5 4-1.5 1-3.5 6,.5 .5,1 0-1-1.5-.5 .5-3.5 3.5,0-.5-3.5 1.5,3 1-.5-1-5 2,1-.5,1.5 1.5-1-.5-4 .5,1 3,1.5-1-1.5 3-3.5-1-1 2-1.5 0-2-1-.5 2-2 1-3-.5-1.5-1.5,.5 .5-4-1-.5 0-2.5-2-2.5 0-2.5-1-.5-1-5.5-2-2.5-1-5.5-2-2.5-2-8.5-6-13-.5-5-6-11.5-1-6.5-3-6-2-2 1-1 0-6 1-1 1-6.5-5.5-5.5 0-1-12.5-11.5-1.5-4-1,0-5.5,5.5-.5,2.5-12.5,2-.5,1-2.5,1 0,1.5-2.5,2.5-1-2 .5,2.5-2.5,2.5-1.5-2 1-3.5 2,0 1-1.5-1-3.5 1,0 0,1.5 1.5-1.5 1.5,.5 0-1.5-1-.5 0-2 1,0 .5,2 0-3.5-1-1 1-3-1.5-.5 .5-3.5-1-.5 0-2.5-1-.5 0-3.5-1-.5-1-4.5-1-.5 0-4 4-4.5-1-.5 0-2.5-1-.5 0-2.5-1-.5-1-5.5-2-2.5-1-5.5-2-2.5-1-5.5-4-7.5 0-2.5-3-6-5-16-9-16 0-2-3-7-3.5-4.5-1-3.5-2-1.5-10-21.5-2-1.5 0-1.5-2-1.5-1-3.5-3.5-4.5-31-1-1.5,1.5-1,3.5-4,4.5-1,3.5-4,4.5-4,8 0,2.5-2,2.5-1,5.5-2,2.5 0,2.5-4,7.5-.5,5-5,10 0,2-4,7 0,2-3,5 0,2-3,5 0,2-3,5 0,2.5-3,4.5 0,2.5-2,2.5 0,2.5-3,4.5 0,2.5-2,2.5 0,2.5-1,.5-1,4.5-1,.5 0,2.5-2,2.5-1,5.5-2,2.5-2,8.5-1,.5 0,1.5 1.5,.5-.5,1 2,.5-.5,2 1,.5-1.5,4.5 .5-1 2,.5-2,1.5 1,1 2,.5-1,.5 0,2 2,.5-1,1 0,1.5 1,.5-1,2 2,1.5 0,2.5 4,1 0,4 5,1 7,5.5 7,4 4.5,1 3,2.5 5.5,.5 .5,1.5 0-1.5 1,0 1,3 2-5 .5,3.5 1,.5 .5,2 2-4 2,4.5 1.5-2.5 1.5,2 1.5,0 1.5-3 .5,3 1,0 .5-2 1.5,.5 .5,2 3.5-.5 .5-2 .5,2.5 7.5,.5 9-1 3,1 1.5-1 .5-2 1,3 1.5,0 2-2 .5-2 1.5,3 4.5-1.5 2,.5 4-2 4,1 14-6.5 .5-1.5 10-.5-1-5.5 3.5,0 .5,2 2-.5 1,1-1-5.5 3.5,2 .5,2.5-6,6.5-1,3.5-4,3.5 0,1.5-1,.5 0,1.5-1,.5-2,5.5-2,1.5-11,22.5-2,1.5-1,3.5-7,10-1,3-4,4-2,4.5-8,8-3.5,0-1.5-2-8.5-4-7.5-6-2.5,0-7-4-2,0-5-3-3,0-1-1-7-1-1-1-6,0-1-1-8,0-1,1-6,0-2.5,1-.5-2.5-8.5-17 0-2-4-7 0-2.5-2-4-2-1.5 0-2.5-3-4.5 0-2-1-1-2-6-3-6-2-1.5-3-23-13.5-9.5-18,0-11,13-5,9 0,2-5,10-1,5.5-2,2.5 0,2.5-3,4.5 0,2.5-3,4.5 0,2.5-6,11.5 0,2.5-1,.5-2,8.5-2,2.5 0,1 2,1.5 0,3-1,.5 0,2.5-1,.5 0,1.5-2,2.5 0,2.5-1,.5 1,1-2,5 1.5,2 0,2.5-1.5,1 1.5,0 1.5,5 2.5,2.5 1,2.5 7,8 3,4.5 3,9.5-1.5,2 0,2-2.5,1-3.5,3-3.5,1-1.5,2-13.5,5-6,1.5-7,0-14-3-.5-1-5.5-2-1.5-2-1.5,0-2.5-3-1.5,0-17.5-16.5 0-1.5-8-9-10-15-2.5-2.5-1.5-3.5-2.5-2.5 0-8 1.5-2.5-4-5-7-13-9-10 0-1-9-10 0-1-3-3.5-1.5,0-1.5-2-1,.5-7-5.5-7.5-1-.5-1-4.5,0-.5-1-11,0-.5,1-9.5,1-10.5,7-9.5,10.5 0,1-4,4-9,18-2,2-2,5-6,9-2,5.5-2,1.5-7,15.5-2,1.5-2,5.5-2,1.5-2,5.5-2,1.5 0,1.5-1,.5 0,1.5-1,.5 0,1.5-1,.5 0,1.5-1,.5 0,1.5-1,.5 0,1.5-1,.5 0,1.5z"/>
<path fill="#3c3cff" d="M789.5,1128l-10,6-5,4-6.5,3-5,4.5-1,3-3,3-4,7-5,6 0,1.5-2,1.5 0,1.5-2,1.5 0,1.5-5.5,6.5-1,3.5-4,4.5 0,1.5-1.5,2.5 0,2-1,1 0,7.5 2,4.5 4,7 5,2.5 5,4.5 12.5,6.5 3.5,0 5,2 4-.5 9,2.5 16,0 11.5-2 4,.5 10.5-3.5 6.5-1.5 3-3.5 2.5-.5 6-4 7-10-1-2 2,.5 0-2.5-1.5-1 1.5-.5-1-8.5-4.5-6.5 0-1.5-2-1.5-4-8.5-3.5-4.5-1.5-4-1.5-1-1-3.5-12-14 0-1.5-9-9-2.5,0-2.5-2-2,0-1.5-2-3,0zM636,1039l-11,1-3.5,2-3.5,0-2.5,2-6.5,1-1,1-1,3.5-4,4-2,4-3,3 0,1.5-3,2 0,1.5-2,1.5 0,1.5-4,5-1,3-3,3-1,3.5-2,1.5-1,4.5-4.5,8.5-1,4.5-5,8.5 0,1.5-1,.5 0,1.5-1,.5 0,1.5-1,.5-.5,4 1.5,.5 1.5,8 4,2.5 0,1.5 3,2 2.5,0 .5,2 2,1 .5,2 1.5,0 3,2 3.5,1 1-1 1,3 3.5-.5 2,1 .5,2.5 2-4 1.5,3 5.5,1 1-2 .5,2 5.5,1 1,1.5 0-1.5 1.5-.5 .5,3 1-2.5 13,1 10-1.5 3.5,.5 20.5-4 17.5-8 9.5-9.5 4.5-8 2-7.5 0-4-1-7-3-5.5-11.5-10.5-1.5,0-8-8.5 0-1.5-7-6.5 0-1.5-19.5-21-10-5zM480.5,970.5l0,1.5 9,3-2,4.5 1,.5-.5,1.5 .5,2-1,1.5 2.5,.5-1,2 2.5,6 2,2-1,2 2.5,0 3.5,2.5 2,4 6,3.5 3.5,.5 6,4 7.5,3 8,1 2,1.5 0,2.5 2-4 2,5 1.5-4 1.5,3 6,1 1-4 .5,3.5 4,.5 .5,2 1-2 1.5,.5 .5,1.5 .5-2 1.5,0 1.5,2 1.5-4 .5,3 1,0 0-1.5 1.5-.5 .5,2 1.5,1 0,1.5 1,0 .5-2 1.5,.5 0,1.5 .5-1.5 27.5,0 14.5-1.5 3.5,.5 9-2.5 11.5-1.5 4.5-2 4,0 18.5-4 10-1 10,1 9,8 18.5,31.5 4,5.5 9.5,10.5 13,8 13,5 11,2.5 4,1.5 24,4.5 26.5,2.5 30.5,0 37-5 2.5-1.5 15.5-3.5 20.5-7.5 21.5-9.5 36.5-18 3.5,0 4.5,3 16,16.5 18,12.5 19,9.5 3,.5 0-1.5 1,0 2,5 2-5 .5,3 4.5,2 1-2 1,3 4,0 1.5,1 .5,2 2-4 .5,3 1.5,1 0,1.5 1.5-3.5 2,3 1.5-4 1,4 2,0 1-2 .5,2 2,0 1.5-1 .5,2 1,0 1.5-4 .5,3 1.5,1 0,2.5 1.5-3 1.5,.5 0,1.5 1,0 .5-2 1.5,.5 0,1.5 1,0 .5-2 1.5,.5 0,1.5 1-1.5 2.5,0 .5,2.5 .5-2.5 3,.5 11-.5 1.5,1 1.5-1.5 .5-1.5 1,1.5 2,.5 1.5-1 .5-2 1,2 1.5,.5 2.5-1.5 4,1 4.5-2.5 1.5,1 0,2 4.5-3.5 5-2 2.5-3 2-1 2,.5 0-1.5 10.5,.5-1-1-.5-5.5 .5,1 3,0 3,2.5-1-5 .5-.5 1.5,2 2-3 2,.5 .5,1 0-1-1.5-.5 .5-3.5 1-.5 1,1 0-2 2.5-1.5-1-2 .5-2.5 1.5,.5-1,.5 0,1 1-1.5 1,0 .5,2-1-3.5 1.5-.5-1.5-.5 1.5-5-1-1-.5-4-1-1 0-2-1-1 0-1.5-1-.5 0-2.5-1-.5 0-2.5-3-4.5 0-2.5-1-.5-1-5.5-2-2.5-1-5.5-4-8 0-2-5-11 .5-1-2-2.5-1-6.5-8-16 0-6-1.5-1-2-4 0-2-5-9-.5-4-8-16-2.5-2.5-1.5,0-3.5-4-1.5,0-2.5-3-1.5,0-3.5-4-3,3-3,0-.5-1-2.5,0-3.5-2-5,2-3.5,4-3.5,1-3.5,4-1.5,0-1,2.5-1.5,1.5-1.5,0-2,3.5-4,3-3,7-11,16-5,10.5-3,2.5-1,3.5-2,1.5-2,5-2,1.5-2,5.5-2,1.5-1,3.5-2,1.5 0,1.5-4,5-1,3-7,8 0,1.5-11.5,11.5-4,2-1.5,2-2.5,0-.5,1-2,0-13.5,6-4.5,1.5-3-1-.5-3.5-5.5-6.5-10.5-19-2.5-8 0-5 4.5-8 7.5-6 10.5-4.5 6.5-4.5 12-4.5 1.5-3.5 5.5,.5-1-5.5 1,1 2.5,0 3.5,1.5-1-2.5 2.5-2-.5-2.5 3,2-1-4 3,1-1-3 1.5,.5 2.5-1 0-1.5-1-1 2-2.5 0-1-1.5,1-.5-1.5 2-.5 1-2-2-.5 2-.5 .5-3-1.5-.5 .5-3-1-.5-1-5.5-1-.5-2-7.5-2-2.5-2-8.5-2-2.5 0-2.5-4-8-3.5-12-3-4.5-1-6.5-3-6-2-1.5 1-1.5 0-6 1-1 1-6.5-5.5-5.5 0-1-13-12-1.5-3.5-6,5.5-.5,2.5-4,0-1,1-4.5,0-5,2-1,2.5-10,9.5-1,3.5-6,6.5-1,3.5-4,3.5-4,9.5-2,2-4,8 0,1-3,6-2,1.5-2,5.5-2,2-1,3-5,7 0,1.5-2,1.5-1,3.5-3.5,3.5-2,4-9,9-3-.5-5-4-5-2-7.5-6-2.5,0-13.5-7-3.5,0-.5-1-8-2-7,0-.5-1-7.5,0-1.5,1-8.5,1-.5-2.5-1-.5 0-1.5-8-15 .5-2-1.5-1 .5-1-3-4.5 0-2.5-4-6 0-2-3-5 0-2.5-3-4.5 0-2.5-3-6-2-1 0-3.5-1-.5 0-6.5-1-.5 0-8.5-1.5-4-13-9-18,0-11,13-5,9 0,2.5-3,4.5 0,2.5-2,2.5 0,2.5-3,5.5 0,2.5-3,4.5 0,2.5-3,4.5 0,2.5-3,4.5-1,4.5-2,2.5 0,2.5-1,.5-2,8.5-2,2.5 0,1 2,1.5 0,3-1,.5 0,4-2,4 2,1.5 1.5,7 6,7 2,3.5 5.5,3.5 7.5,7.5 3,5 0,3-1.5,1.5 .5,1.5-3.5,3.5-1.5,0-2.5,3-1.5,0-1.5,2-10,5-2,2-12.5,5.5-5.5,1-5.5,2.5-10-.5-7-2.5-1.5-2-1.5,0-1-2-5.5-3.5-2-3-1.5,0-2.5-3-1.5,0-13.5-13.5 0-1.5-8-8.5 0-1.5-3-2.5 0-1.5-10-13-1-3-3-3 0-7 2-3-2-1.5 0-1.5-2-2-7-13-21-25-9-6-5-2-9-1-2-1.5-10,0-.5,1-5.5,0-1.5,1.5-4.5,1-9,6-13,15-9,18-2,2-2,5.5-2,1.5-2,5.5-2,1.5-2,5.5-2,1.5-7,15.5-2,1.5 0,1.5-2,2.5 0,1.5-2,1.5-2,5.5-2,1.5 0,1.5-1,.5 0,1.5-1,.5 0,1.5-1,.5 0,1.5zM867.5,679l-2.5,5-2,1.5 0,1.5-2,1.5-1,3.5-4,4.5-4,8 0,2.5-2,2.5-1,5.5-3.5,7.5 0,2-2,3-3,10-7,14 0,2-3,5 0,2.5-6,11.5 0,2.5-3,4.5 0,2.5-2,2.5 0,2.5-2,2.5 0,1.5-1,.5-1,4.5-1,.5 0,2.5-2,2.5-1,5.5-2,2.5-1,5.5-2,2.5 0,2.5 1,.5-.5,2 1.5,2 1.5,0 0,4-1,1 1,1 0,1.5 1,.5 0,2.5 1,.5 1,5 3,1 0,2-1,2 6-.5-.5,3.5 8.5,6 11.5,4.5 3.5,2 2.5,.5 0-1 1-.5 2,4.5 2-3.5 .5,2 1.5,1 0,1.5 .5-2 4.5,.5 1-3 .5,3 1.5,1 0,2.5 1.5-3.5 1,.5 .5,2.5 2-4 .5,2 2,0 .5-2 .5,2.5 2.5-.5 .5,2 2-2 .5,.5 4,0 1,2 1-2.5 1.5,1 11-1 4,.5 2-1.5 1-2 1.5,4.5 2-3 4,.5 6.5-3 5,.5 7-2.5 6-.5-1-5 9-1 .5,1-1.5-2.5 .5-2.5 1-.5 2.5,2.5-1-5 2.5,1 1.5-3.5 2,1-.5-2.5 1-.5 1.5,.5-1-2 3-.5-1-4.5 1,0 .5,1.5 0-2 2,0 1.5-2.5-.5-1.5-.5,2-1,0 1-6.5-1-.5-.5-7.5-1-.5 0-4 1-.5 0-1.5 3-2.5-1-.5 0-2.5-1-.5-2-8.5-2-2.5-1-5.5-2-2.5-1-5.5-4-7.5 0-2.5-3-5.5 0-2.5-1-.5-1-5.5-2-3-1-5-9-16 0-2-3-7-7-10-.5-3-9-18-4-4.5-3-6.5-1.5-1.5-12.5,0-.5-1z"/>
<path fill="#4040ff" d="M737.5,1185l1,1.5-1,3.5 .5,5.5 2.5,2-.5,1.5 3,4.5 4,2 4,3.5 6,4 5,1 3.5,2.5 18,3 17.5,.5 11.5-2 15-4.5 4-3 3-1 4.5-4 0-2.5 1,1 2-.5-1-1.5 2-1 2.5-4 1-10.5-2-4-1-.5-1-3.5-2-1.5-1-3.5-2-1.5 0-1.5-2-2-1-3-5-7 0-1.5-4.5-4 0-1.5-5-5 0-1-9-9.5-2.5,0-1.5-2-2.5,0-1.5-2-3.5,0-.5-1-2.5,0-5.5-3-6,2-1.5,2-1.5,0-1.5,2-1.5,0-4.5,4-3,1-8.5,6.5-1,3.5-3,2.5 0,1.5-2,1.5 0,1.5-2,1.5 0,1.5-2,1.5-7,11.5-3.5,3.5 0,1.5-2,1.5 0,1.5-1,.5 0,1.5zM635.5,1039l-10,1-4,2-3,0-3,2-6,1-1.5,1.5-1,3-4,3.5-2,4.5-3,2.5 0,1.5-3,3-6,9-1,3.5-2,1.5-1.5,4-2,2-1,4-5,9-1,4.5-1,.5 0,1.5-2,2.5 0,3-1.5,1 1,1-.5,2 1,1 1,4.5 3,3 0,1 14.5,10 4.5,1 2,1.5 0,1.5 2-4 2,5 2-4 1,3 5.5,.5 .5,2.5 .5-2 1.5-.5 1,2.5 2-4 0,2.5 4,1 2-.5 1,2 1-2.5 9,1.5 9-.5 16.5-3.5 12-3.5 8-5 7-6 4-5 3-6 1-6-1.5-7.5-4.5-7.5-13-12.5 0-1.5-14-15 0-1.5-11-10.5-1.5-2.5-10-5zM1110.5,920l-3,3-3,0-.5-1-2.5,0-3.5-2-5,2-3.5,4-3,1-4,4-1,0-1.5,2.5-9,8-3,7-4,5 0,1.5-2,1.5-3,6.5-2,1.5-5,10.5-3,2.5-1,3.5-2,1.5-1,3.5-3,3.5-2,5-7,10 0,1.5-2,1.5-1,3.5-12.5,15-5.5,5.5-1.5,0-4.5,4-3,5-.5,3 2,7 11,13 12,8 10,5 1.5,0 .5-2.5 .5,2 2,.5 0,1 2,1.5 .5,2 .5,0 0-1.5 1.5,0 1-1.5 1.5,1.5 1.5,4.5 2-5 .5,3 4.5,2 0-1.5 1-.5 .5,2.5 1.5,.5 0,2 2-4 .5,3 1,0 0-2.5 1-.5 .5-2 .5,4 1,0 0,1.5 3.5-1 2,1.5 0,2.5 1.5-3.5 1,0 .5,3 1.5-4 1,3 1,0 1.5-4 .5,3 1,.5-1,1 1.5,.5 0,1.5 1,0 .5-3 1.5,.5 1,2.5 0-2.5 1.5-.5 1.5,3 0-1.5 1.5-.5 1.5,3 .5-3 1.5,.5 0,1.5 0-1.5 3.5-1 .5-2 .5,2 1,1 2-2 1,3.5 1.5-2.5 10-.5 2,1 3-1.5 3,1 2.5-2 4,.5 4-2.5 2.5,0 2,2.5 .5-1 3.5-1 2.5-2.5 3.5-2 2.5,0 .5,1 4-.5-.5-5.5 6,0 1.5,1.5 0-1.5-1.5-.5 1-3 2.5,1.5-.5-4.5 3,1.5 1-3 1.5,1-.5-3.5 1.5,.5 1.5-1.5-1-2.5 1.5-2 2,.5-1.5-.5 0-1 1.5-.5-1-.5 1.5-4-1.5-6-1-1 0-2-1-1 0-1.5-1-.5 0-1.5-1-.5-2-8.5-2-2.5-1-5.5-4-7.5 0-2.5-3-6 0-2-4-7 0-2.5-1-.5 .5-3-8-15.5 0-6.5-3.5-5 0-2-14-28 .5-1-2.5-2.5-1.5,0-3.5-4-1.5,0-2.5-3-1.5,0zM485.5,960.5l0,1.5 5,2 2.5,3.5-2,5 1,1 0,4 1,2-1,2 2.5-.5 .5,.5-1.5,3 2-.5 .5,2.5 4,3 1,2.5 13,8.5 3,.5 .5-2 2,4 5,1 3,2.5 3-1.5 2.5,3 1.5-4 2,6 2-5 .5,4 3.5,.5 1-2.5 .5,3 1.5,1 0,1.5 1.5-2.5 2,2 1-3 1,2 1,0 0-1.5 1.5-.5 .5,2.5 1.5,.5 0,1.5 1,0 1-2 1,2.5 1-2.5 1.5-.5 .5,2 3-1.5 1,2.5 1-2.5 1.5,1 10,.5 22-.5 23-3.5 19-5 9.5-4.5 4-1 4.5-3 4-4 1.5-3 0-5.5-4.5-9-3.5-4.5-8-7.5 0-1.5-3-2.5-1-2.5-4-3.5 0-1.5-6-6.5 0-1.5-7-9-1-3-3-3 0-7 2-3-4-4.5-1-3.5-2-1.5-4-8.5-3.5-3.5-.5-1.5-17-20-11-7-7-1-1-1-4,0-1-1-11,0-1,1-9,1-11,7-4,4 0,1-9,10-9,18.5-2,1.5-2,5.5-2,1.5-2,5.5-2,1.5-2,5.5-2,1.5-5,10 0,1.5-2,2.5 0,1.5-2,1.5-2,5.5-2,1.5-2,5.5zM703,1012.5l4.5,11 7.5,13.5 6,8.5 9.5,10.5 10,6 12,5.5 23.5,7 28,4.5 13,1 20,0 1.5-.5 7.5,.5 8-2 4,.5 22-3.5 22-6 27.5-12.5 20.5-12.5 8-9 2-5.5 0-7-6.5-20.5-1.5-8.5 1-4 2-3.5 4.5-5 9-5 33.5-13.5 3-3.5 1.5,1 2.5-.5 0-4.5 4,.5 1,1-1-4 2.5,1.5-.5-3.5 2.5,1.5-1-3.5 1-.5 2,1.5-.5-3.5 2,.5 0-1.5-1-.5 1-.5 1-2.5 1.5,.5 0,1.5 0-2-1-.5 .5-5-1-.5 1.5-1-1.5-1 .5-2-1-.5-1-5.5-2-2.5-2-8.5-2-2.5 0-2.5-4-7.5 0-2.5-3-6 0-2-4-7 .5-2-1.5-1 .5-2.5-3-6.5-2-1.5 1-1.5 0-6.5 1-.5 0-3.5 1-.5-.5-3-5-5 0-1-13-12-1.5-3.5-6,5.5 0,2.5-4.5,0-.5,1-4.5,0-5.5,2-1,2.5-10,9.5-1,3.5-6,7-1,3-4,4-2,5-1,1-1,3-2,1.5-7,15.5-2,2-2,5.5-2,1.5-1,3.5-6.5,9.5-1,3-4,4-2,4.5-8.5,8.5-4-.5-4.5-4-5-2-8-6-2,0-6.5-4-2.5,0-4.5-3-3.5,0-.5-1-7.5-1-.5-1-6.5,0-.5-1-9,0-.5,1-10,1-1.5-2.5 .5-3-1.5-1 .5-2-1-.5 0-1.5-1-.5 0-1.5-1-.5 0-1.5-3-4.5 0-2.5-3-5-1-4-3.5-5.5 0-2.5-3-5 0-2-3-5 0-2-3-6-2.5-2-3-23-1.5,0-2.5-3-9-6-18,0-11,13-5,9 0,2.5-3,4.5 0,2.5-2,2.5 0,2.5-3,5.5 0,2.5-6,11.5 0,2.5-1,.5 0,1.5-2,2.5 0,2.5-1,.5 0,1.5-2,2.5 0,2.5-1,.5-2,8.5-2,2.5 2,3.5 1.5,.5-.5,1 1.5,0-1.5,3 1.5,0-.5,2 2,1 .5,3 2,2 .5,1.5 11.5,10.5 6,3.5 9,7 3,3.5-1,2 1,1-2.5,2.5-1.5,0-3.5,4-1.5,0-11.5,10-12.5,7.5-2,2-5,2-11,9-3,5-.5,3zM867.5,679l-2.5,5-2,1.5 0,1.5-2,1.5-1,3.5-4,4.5-.5,3-3,5 0,2-2,3-1,5-6,13-3,10-7,14 0,2-3,5 0,2.5-6,11.5 0,2.5-3,4.5 0,2.5-2,2.5 0,2.5-1,.5 0,1.5-2,2.5 0,2.5-2,2.5 0,2.5-1,.5-1,4.5-1,.5 0,3 3.5,0-.5,1.5-2.5,0 0,1 1.5,0 .5,1.5-1.5,2.5-.5-3-1.5,2-2,0 0,2-1,.5 0,1 2,0-.5-1 .5-1 2,2 1.5,0-1,5 1,2.5 2,.5-1,2 1,1 1.5,3.5-.5,2.5 3.5,.5 1-1 1.5,.5-2,5 4,.5 12,8.5 2.5,0 1-2.5 .5,3.5 5,2 1.5-1.5 1,3 2,.5 2-1.5 1.5,1 .5,3 2-5 .5,3 1.5,1 0,3 2-4 1.5,3 1.5-4 .5,3.5 2.5,1 0-1.5 1.5,0 .5,2 2-3 2,4 1-2.5 1.5,.5 .5,2 1.5-3 5,.5 .5,1 1.5-1 .5-1.5 1.5,3 1.5-2.5 1,2.5 3.5-2 .5-2 2,4.5 2-3 2.5,1 4-1.5 3.5,1 3-4 .5,2 3,.5 13.5-6 0-1.5 10.5-.5-1-3.5-1-.5 .5-1.5 3,0 .5,2 2-.5 .5,1-.5-5 .5-.5 1.5,2.5 1,0-.5-5.5 1.5,3 2-.5 .5,1-1-4 1-.5 1.5,1-.5-3 2.5-1-1-4.5 1,0 0,1.5 3-1.5-1-4 1-2 0-3-1-1 1-3.5-1.5,0-.5-1 4.5-.5 2-2-1-.5 0-2.5-1-.5-2-8.5-2-2.5-1-5.5-2-2.5-1-5.5-4-7.5-1-5.5-2-2.5 0-2.5-1-.5-1-5.5-2-2.5-1-5.5-9-16 0-2-3-7-7-10-9.5-21-4-4.5-3-6.5-1.5-1.5-12.5,0-.5-1z"/>
<path fill="#4444ff" d="M741.5,1180l1,1 .5,7 2.5,4-1.5,2.5 2.5-.5 2.5,1 7,6 12,5.5 26.5,3.5 20.5-3 16-7 8-7.5 3-7.5-1-2.5 2-1-2-1 1.5-1-2-2.5-1-3.5-2-1.5 0-1.5-2-1.5-1-3.5-2-1.5-1-3.5-11.5-13.5 0-1.5-9.5-9.5-2,0-6-4-3,0-9-4-5,2-22.5,15.5-1,3.5-9.5,12.5 0,1.5-6,7.5 0,1.5-3,2.5-.5,3zM635.5,1039l-10.5,1-3.5,2-3.5,0-2.5,2-6.5,1-2,4.5-3,2.5-3,5.5-6,7 0,1.5-2,1.5 0,1.5-3.5,4.5-1,3-3,3-1,3.5-3,3.5-1,4.5-1,.5 0,1.5-1,.5 0,1.5-2,2.5 0,2.5-1,.5 1,4-1.5,1 5,8.5 3,2.5 1,2 4.5,1.5 5.5,3.5 3.5,1 1-2.5 2,5 2-4 .5,3 2,1 1.5,0 1-3 2,6 1-2 5.5,0 1,2.5 2-2 1.5,3 0-1.5 1-1 4.5,0 2.5,1 1-2 2,3 1-2.5 1.5,2 2-1.5 4.5,0 11-2 13.5-4 7.5-4 5-3.5 5-6 3-5.5 1.5-5.5-2-9-18-20.5 0-1.5-7-7 0-1-11-11 0-1.5-4.5-2-1.5-2-5.5-2zM1097.5,920l-4,2-4,4-3,1-4,4-1,0-1.5,2.5-9,8-3,7.5-2,1.5 0,1.5-4,4.5-1,3.5-4,4.5-2,5.5-5.5,7.5-1,3-2.5,2-2,5.5-2,1.5-2,5.5-2,1.5-1,3.5-2,1.5 0,1.5-3.5,4.5-1,3-7,8 0,1.5-10.5,11-1.5,2-.5,6.5 2.5,6.5 8.5,10 9,6.5 6,2 7,4.5 1.5,0 1-2 3,4.5 0,1.5 2-5 .5,3.5 4.5,1.5 1-2 1,3 2.5,.5 .5-3.5 .5,3 1,.5 0,1 4.5,0 1,1 0,2.5 .5-3 1.5-2 .5,3 1.5,1 0,2.5 1.5-3.5 1,0 .5,2 1.5,0 .5-3 .5,2 5,.5 .5,3 1.5-4 1.5,.5 0,2.5 2-3 1,1 0,3 1.5-3 1.5,.5 0,1.5 1-1.5 11.5,0 1-1 .5-2 1,3 2.5-1 2.5,1 2.5-3 .5,2 1,.5 0,3 1-3 2-1.5 4,.5 3.5-2 2,2 2.5-.5 3-3 4.5-1.5-1-1 1.5-1.5 1.5,0 .5-1 .5,1.5-1,.5 0,1 2.5,3.5 1-1-1-1 1.5-1 3,1-.5-6.5 9.5,.5-1-5 1.5-.5 3,3 .5-2-1-.5 0-1.5 .5-1 2,3 .5-.5 0-2.5-1-1 3,0 .5,1-.5-2.5 2-1 1-3.5-1-.5 1.5-1.5 2,.5 0-2-1-.5 0-1.5 1.5-1-1-3 .5-1.5-1.5,1 .5-3.5-1-.5-2-8.5-2-2.5-1-5.5-1-.5-1-4.5-2-2.5 0-2.5-3-5.5 0-2.5-4-7-1-6-3-5.5-.5-3.5-4-6.5 0-6.5-3.5-5 0-2-14-29-7-6-5-3-4-4.5-3,3-3,0zM490,953.5l6.5,5-1,2 .5,3-1,1.5 1,6 2,5 4,1.5-1,4 6.5,.5-.5,1.5 1,1.5 3,1 7.5,6 5,1 1.5,1 .5,2.5 3.5-1 3,1.5 .5,2.5 0-1.5 2-2 .5,2 3.5,1 1-2 .5,3 1,0 1.5-4 .5,3.5 1.5,1 0,1.5 2-4 1,3.5 2-1 3,1.5 1-2 1,2 5,0 1-2 .5,2 1,0 .5-2 .5,2 4.5,1 21.5,0 11-2 9.5-.5 4-1.5 5-.5 19-6 11.5-6.5 4-5 2-5 0-4-3-7.5-2.5-2.5 0-1.5-4-3.5 0-1.5-4-3.5 0-1.5-3-2.5 0-1.5-3-2.5 0-1.5-2-1.5-2-4.5-3-2.5-1-3.5-3-2.5 0-7.5 2-3-4-4.5-1-3.5-2-1.5-4-8.5-4-3.5 0-1.5-3.5-3.5-1.5-2.5-12-14-11-7-7-1-1-1-4,0-1-1-11,0-1,1-9,1-11,7-4,4 0,1-9,10-3,7.5-2,1.5-4,9.5-2,1.5-2,5.5-2,1.5-2,5.5-2,1.5-2,5.5-2,1.5 0,1.5-1,.5 0,1.5-1,.5 0,1.5-1,.5 0,1.5-1,.5 0,1.5-1,.5-2,5.5-2,1.5 0,1.5-1,.5 0,1.5-1,.5 0,1.5zM715,1011.5l7,15.5 8,10 7,7 12,7.5 14,6.5 30.5,7.5 23.5,2.5 14,.5 12.5-1.5 7.5,1 22.5-3.5 4-1.5 5.5-1 4.5-2 8-1.5 19.5-7.5 17-10 13-11.5 3-6 1.5-12.5-6-24 0-6 1.5-5 3.5-3 6-3.5 11.5-4.5 5-1 15.5-7 15.5-5.5 1-2 3-1.5 1.5,1 1.5-.5 0-2.5 2.5-2 0-1.5 1-.5 1.5,1-.5-3 1,0 1,1 0-3 2.5,1.5-1-3.5 1.5,.5 1-1-1-.5 .5-2 1-.5 .5,2 0-2-1-.5 1-4.5-2-4.5 0-2.5-1-.5 0-2.5-1-.5 0-2.5-2-2.5 0-2.5-1-.5-1-4.5-2-2.5-1-5.5-6-12-1-6-3-6-2-2 1-1 1.5-10.5 1-.5-.5-3-5-5 0-1-13-12-1.5-3.5-6,5.5 0,2.5-4.5,0-.5,1-4.5,0-1,1-2,0-2,1-11.5,12.5-1,3-6,6.5-1,3.5-4,3.5-13,27-2,1.5-2,5.5-7.5,11.5 0,1.5-2,1.5-1,3.5-4,3.5 0,1.5-2,1.5 0,1.5-7.5,7.5-3,1-5-2.5-1.5-2-5-2-8-6-2,0-7-4-2,0-5-3-3,0-4-2-11-1-1-1-8,0-1,1-17,2 2.5-2.5-1-1 0-2.5 1.5-3.5-1-1-.5-5-1.5-2.5 0-1.5-1-.5 0-2.5-4-6.5 0-2.5-4-6 0-2-2.5-4.5 0-2.5-3-4.5 0-2.5-3-6-2.5-2-3-23-1.5,0-2.5-3-1.5,0-7.5-6-18,0-2,2 0,1.5-5,4.5 0,1.5-4,3.5 0,1.5-2,1.5-3,6 0,2.5-3,4.5 0,2.5-2,2.5-1,5.5-2,2.5 0,2.5-1,.5-1,3.5-1,.5 0,2.5-1,.5 0,1.5-2,2.5 0,2.5-1,.5 0,1.5-2,2.5 0,2.5-1,.5 0,1.5-2,2.5-1.5,6 4,1-.5,3.5-1,.5 0,1 1-.5 .5,1.5-1.5,2 2.5,0 1,4 3,2 .5,2 16,11 17,7.5 4.5,3 0,1.5 3,0 .5,1-1.5,.5-2.5,3-1.5,0-1.5,2-1.5,0-2.5,3-1.5,0-5.5,6-1,0-9,8-22.5,17-4.5,5.5-2.5,7-.5,6.5zM867.5,679l-2,4.5-4,5-1,3-4,5-4,8-3,10-6,13-1,5-5,10 0,2.5-4,6.5 0,2.5-3,4.5 0,2.5-3,4.5 0,2.5-3,4.5-1,4.5-2,2.5 0,2.5-2,2.5 0,2.5-1,.5 0,1.5-2,2.5 0,2.5-2,2.5-1,4.5 1-.5 .5,1.5 1.5,0 .5,2-2.5,0 1.5,1-1,2.5 1,2-1.5,2 1.5,1-1,1 .5,1.5-1.5,.5 1.5,0 1.5,2 0,1 2,1-1,2 3,1 0,3.5-1.5,1.5 1.5-1 4,1 0,2.5-1,1.5 3,0 7,4.5-.5,2.5 4-1.5 5,3 3,0 4,2 2,0 2,1.5 0,2.5 2-4 .5,2 1.5,1 0,1.5 1.5-2.5 1,0 1,2 1.5-3 .5,2 5,.5 .5,3 .5-2.5 5.5,0 1,1.5 .5-2 1.5,.5 0,1.5 1-2 15.5,.5 .5,1.5 3-3.5 1.5,1 3-1 4.5,.5 4.5-2.5 8-.5 4.5-2.5 5.5,.5-.5-6.5 1.5,1 7-.5 .5,1-1-5 1-.5 2.5,2-1-4.5 .5-.5 1.5,2 1,0 0-1-1-.5 0-3 2,1-.5,1.5 .5-1 2,1 0-3 1.5,1-.5-2.5 1.5-2 0-2 2.5-.5 0-2-1-.5 1-5.5-1-3 2-2.5 3.5-1.5-1-5.5-2-2.5-1-5.5-2-2.5-1-5.5-2-2.5 0-2.5-2-2.5-1-5.5-2-2.5 0-2.5-1-.5-1-5.5-2-2.5-1-5.5-3-6-3-3.5-6-15.5-7-10-10-21-4-5-4-7-12.5-.5-.5-1z"/>
<path fill="#4848ff" d="M746.5,1171l1,1.5-1,2.5 2.5,7 2,3 6.5,5 6.5,3.5 8.5,3 4.5,0 11.5,2.5 9.5,0 2.5-1 2.5,.5 2.5-1.5 3,1 5.5-1.5 12-5.5 8.5-7 2.5-8.5 1-.5-2.5-7.5-3-3.5 0-1.5-1-.5 0-1.5-2-1.5 0-1.5-5-4.5 0-1.5-5-5 0-1-9-9.5-2.5,0-1.5-2-2.5,0-1.5-2-3.5,0-.5-1-2.5,0-5.5-3-5,2-1.5,2-1.5,0-7.5,6-3.5,1-6,5.5-1,0zM636,1039l-10.5,1-4,2-3,0-3,2-6,1-2.5,4.5-6,7 0,1.5-3,2.5 0,1.5-2,1.5-6.5,10-1,3.5-3,2.5-1,3.5-3,3.5-2,8.5 .5,5 3,.5-1,.5 .5,3 3.5,3 1,2 4,2.5 4.5,.5 7,4.5 0-1.5 1,0 1,2.5 1,.5 0,1.5 .5-3 4,1.5 11.5,.5 1,2.5 1-2.5 10,.5 16.5-1.5 18-7.5 2.5-3 5-3.5 4.5-7.5 1-10.5-2.5-4-5-4.5 0-1.5-26-29.5-10-5zM1097.5,920l-4,2-4,4-3,1-4,4-1,0-1.5,2.5-5,4 0,1.5-1.5,0-2.5,2.5-3,7.5-6,7.5-1,3.5-2,1.5-3.5,8-2,2-1,3-3,3-1,3-4.5,6 0,1.5-2,1.5-2,5.5-8.5,12.5-1,3-7,8 0,1.5-4.5,4.5-1,3 0,6.5 1.5,4.5 5.5,7.5 10,8 2,0 .5,2 1.5-.5 3,1.5 1.5-1 .5,1.5 2,.5 2,2.5 3.5,.5 3,1.5 1.5-.5 .5-2 .5,3 2.5,1 3,0 1.5,1 .5,2 2-4 2,4.5 1.5,0 .5-2.5 .5,2 3-.5-.5-3.5 .5,2 2.5,2.5 0,2 2-3.5 1.5,3 1.5-4 .5,3 1.5,1 0,2.5 2-4 1,1 0,2 2-3 1,1 0,3 1.5-3 1.5,.5 1,2.5 0-1.5 1-1 10.5,.5 4-1 4,.5 2.5-1 3,1 2.5-2 .5-2 1.5,3 0,2.5 1.5-3 3-1.5 2.5,1.5 .5,2 2-1 2-3 3-.5 2-3 1,0 3-2 9,.5-1.5-4 0-1.5 5.5,.5 1.5,1-1-4.5 2,1.5 0,1 1,0-1-5 2.5,1.5-.5-3.5 3,1 0-1.5 1,0 .5-3 2-.5-1-1.5 .5-1.5 1.5,0-2-.5 1-1.5-.5-1 .5-2-1.5-1 .5-3.5-1-.5 0-2-1-.5-1-5.5-2-2.5 0-2.5-1-.5 0-1.5-1-.5-1-5.5-6-11.5-1-6.5-8-16 .5-6-1.5-.5-2-4.5 0-2-14-29-16-13-3,2.5-3,0zM493.5,946.5l.5,1.5 6,2.5-.5,1.5-2.5,0 0,1 2,0 1,1.5-1,1 1,2.5-1.5,3 1-1 1,1.5 .5,4.5 2,2.5-.5,2 6,.5-.5,4 5.5,3.5 0,2 4-.5 7,4 3.5,0 3,2 5,1.5 .5,2.5 2-4 .5,2.5 1.5,.5 0,2.5 1.5-3.5 2,2 1.5-3 .5,2.5 1.5,1 0,1.5 2-3 1,2 4.5,.5 .5,2 .5-2 2,0 .5,2.5 1-2.5 1.5,.5 .5,2 1-2.5 4.5,1 20.5,.5 2.5-1 19-2 5.5-2.5 4.5,0 14-5.5 7-4.5 5.5-6 1.5-6.5-1-4 1-1.5-1.5-3-4-4.5 0-1.5-3-2.5 0-1.5-3-2.5 0-1.5-2-1.5 0-1.5-2-1.5 0-1.5-3-2.5-1-3.5-3-2.5 0-8 2-2.5-4-4.5-1-3.5-2-1.5-4-8.5-4-3.5 0-1.5-5-4.5 0-1.5-4-3.5 0-1.5-8-9-11-7-7-1-1-1-4,0-1-1-11,0-1,1-9,1-11,7-4,4-1.5,2.5-3.5,3.5 0,1.5-4,3.5-9,18.5-2,1.5-2,5.5-2,1.5-2,5.5-2,1.5-2,5.5-2,1.5 0,1.5-1,.5 0,1.5-1,.5 0,1.5-1,.5 0,1.5-1,.5 0,1.5-1,.5-2,5.5zM1000.5,855.5l-5-4.5 0-1.5-13-12-1-3-1-.5-5.5,5.5 0,2.5-4.5,0-.5,1-4.5,0-1,1-4,1-3.5,5-8,7-1,3.5-3,2.5 0,1.5-3,2.5-1,3.5-4,4-4,9-2,2-6,12-.5,3-6,9-1,3.5-2,1.5-1,3.5-2,1.5 0,1.5-3,3.5 0,1.5-6,6.5 .5,1.5-2,3.5 0,1-7,4-3.5,0-5-4-5.5-2.5-1.5-2-1.5,0-1.5-2-1.5,0-1.5-2-2.5,0-13.5-7-3,0-1-1-7-1-1-1-6,0-1-1-8,0-1,1-6,0-1,1-5.5,0-.5,1-5.5,0-.5,1-2.5,0-.5,1-3.5,1-1.5,2-2.5,0-.5,1-1.5,0-.5,1-1.5,0-.5,1-5.5,2-1.5,2-2.5,0-5.5,5-1.5,0-3.5,4-1.5,0-2.5,3-1.5,0-2.5,3-4,2-3,3-1.5,0-5.5,6-1,0-8.5,8-14,10.5-4,6.5-3,7.5 0,9 2,6 4,8.5 6,9 8,8 11,7 17,8 18,4.5 19,3 32.5,1 29.5-3.5 25-6.5 24-11.5 7-5 5-4.5 6-6.5 3-8.5 .5-10-7-27 1.5-9.5 2-1.5 12-5.5 16-3 4-2 4,0 8.5-3.5 13-4 4-3 3.5-.5 3-3.5 4,0 .5,1 0-1-1.5-1 1-1.5 2,1-1-3.5 2.5,1.5-.5-3.5 1.5-.5 .5-1.5 3-2-1.5-.5 .5-1.5 1-.5 1,1.5 0-2-1-.5 .5-3.5-1.5-1 .5-2-2-4.5 0-2.5-1-.5-1-4.5-2-2.5 0-2.5-3-5.5 0-2.5-4-6.5-1-6.5-3-6-2-2 1-1 0-6 1-1zM758.5,828.5l-13,16-3,6 0,2.5-3,4.5 0,2.5-2,2.5 0,2.5-1,.5 0,2.5-2,2.5 0,2.5-1,.5 0,1.5-2,2.5 0,2.5-1,.5 0,1.5-2,2.5 0,2.5-1,.5 0,1.5-1,.5-1,4.5-1,1 4,1.5-2,4 2.5,0-1,1 1,3.5 4.5,7 11,7 16,7 19.5,3.5 14-2 11-9.5 6.5-15.5-1.5-.5 1-2.5-1.5-1-1-5-1-.5 0-2.5-1-.5-1-3.5-2-1.5 0-2.5-3-5 0-2-5-10 .5-1-1-2-2.5-1.5-3-23.5-1.5,0-2.5-3-1.5,0-7.5-6zM867.5,679.5l-6,9-1,3-4,5-4,8-3,10-2,3 0,2-4,8-1,5-2,3 0,2.5-7,13.5 0,2.5-3,4.5 0,2.5-3,4.5 0,2.5-1,.5 0,1.5-1,.5 0,1.5-1,.5 0,2.5-1,.5 0,1.5-2,2.5 0,2.5-2,2.5 0,2.5-1,.5 0,1.5-2,2.5 0,2.5-1,.5-1,3 4.5,.5 0,4.5-1.5,0 1.5,2-1,1 1.5,2.5-.5,1.5 1.5,1.5 1.5,.5-1,3 4.5,1-.5,4 4,.5 .5-1 .5,2 8,6 2,0 1,1 .5,2.5 1.5,0 1.5-3.5 .5,3 3,1.5 2.5-.5 1.5,1 .5,2.5 2-1 .5-1.5 1.5,2 1.5,0 .5-3 .5,2 2.5,2.5 0,2 1.5-3.5 2,3 1-4 1.5,3 1-2 1,0 .5,2 1,0 .5-2 1,2 2,1 0,1.5 1,0 .5-2.5 1,0 .5-2 .5,2 6.5,0 1.5,1.5 2.5-2.5 1.5,1 6.5,0 3.5-1.5 1.5,2 4-5.5 .5,1.5-1,1 2.5,3 8-6.5 3.5-1 .5-2 1.5,2 1-1-.5-2 2,0 .5,1 9-.5-1-5 4,.5 0-4 2.5,2 .5-1-1-.5 0-3 2,1-.5,1.5 1.5-1 0-1-1-.5 .5-2.5 3,3-.5-2.5 3-1-.5-1.5-1,1.5-.5-1 1.5-3.5 1.5,1.5 0-2.5-1-.5 2-1 0-2-1.5-1 .5-3 1-.5-2-2 5-1 1.5-1.5-1-.5-1-5.5-2-2.5-1-5.5-2-2.5 0-2.5-2-2.5-1-5.5-2-2.5 0-2.5-1-.5-1-5.5-2-2.5-1-5.5-9-15.5 0-2.5-1-.5 0-2.5-2-4-7-10-10-21-4-5-4-7-12,0-1-1z"/>
<path fill="#4c4cff" d="M750.5,1167.5l1.5,.5 2.5,6 10,8 19,6 16,0 9.5-1 13.5-5.5 8-8.5 1.5-3.5 0-5-2-3-.5-4-4-3.5-1-2.5-5-4.5 0-1.5-9-9-2,0-6-4-2.5,0-10.5-4.5-26,17.5-1,3.5-3,2.5 0,1.5-2,1.5 0,1.5-2,1.5 0,1.5-2,1.5 0,1.5-2,2 0,3zM674.5,1077.5l-1-.5 0-1.5-7-6.5 0-1.5-7-7 0-1-10.5-10.5-1.5-3-3.5-1-1.5-2-5-2-2-2-5,0-1,1-4,0-4,2-3,0-3,2-6,1-2.5,5-4,3.5 0,1.5-2,1.5 .5,1-3,3-5,7 0,1.5-2,1.5 0,1.5-2,1.5-1,3.5-2.5,2.5-3,7 1.5,1-.5,3.5 1,2.5 3,2.5 1,2.5 3,1 .5,1.5 11.5,5 7,1.5 21,1.5 12-2 5.5,0 14-6 7.5-7 4-7zM1097.5,920l-4,2-3.5,4-3.5,1-3.5,4-1.5,0-1.5,3-2.5,1-2.5,2.5 0,1.5-1.5,0-2.5,2.5-3,7.5-4,4.5 .5,1-7,10-5,10-3,3-1,3.5-2,1.5-6,12-5,7 0,1.5-4,4.5-1,3.5-3,2.5 0,1.5-3,2.5-1,2-.5,7.5 4,7 4,5 12,7.5 .5,2 5,.5 1-1 .5,2 3,1 .5,2 2-3 1.5,1.5 .5,2.5 3,0 1-3 2,5.5 2.5-1.5 2,.5 1.5,1.5 0,2.5 1.5-4.5 1,.5 1,2.5 1.5-4 .5,3.5 1.5,1 0,2 1.5-3.5 1,.5 .5,2.5 2-4 .5,3 1.5,1 0,1.5 1-2 1,1 1-2 1,1 0,2 0-1 2-1.5 2,2 1-2.5 2,3 2-5.5 1.5,3 2-1.5 1.5,4.5 2-4 1,2 3.5-.5-2-1 1-.5 .5-2 1.5,4 1,0 .5-2 1,0 1,4.5 0-1.5 2.5-2 4,0 3.5-1.5 2,2 2.5-3.5 3.5-2 1.5,0 .5-1 .5,2.5 2.5,2 6.5-4.5 2.5-.5 1,1 2,0-1-1-1-5 9,1-1-1 .5-4 3,1.5-1-3.5 2.5,1.5-.5-4 1,0 0,1.5 1.5,1 0-1.5 1.5-1 0-2 1.5-1.5-1-.5 .5-2 1.5,.5 0,1 0-2-1-1 1-4-1.5-1 .5-3-1-1 0-2-1-.5 0-2.5-2-2.5 0-2.5-1-.5 0-2.5-1-.5 0-1.5-1-.5 0-2.5-4-6.5-1-6.5-8-16 0-6-3-4.5 0-2.5-4-6.5-1-4.5-9-18-16-13-3,2.5-3,0zM496.5,941.5l0,2.5 6.5,2.5-1,1 1.5,6.5 2.5,6 3.5,2.5 1,2.5 4.5,2 7,5 .5,2.5 3.5-1.5 13,5.5 1.5,0 1-2.5 1,4 6,0 1-3 .5,3 1.5,1 0,2.5 1.5-3.5 1,.5 .5,2.5 2-4 .5,3 1,0 .5-2 1,2 10,0 .5,1 2-2 1.5,3 1-2.5 2,3 0-1.5 1.5-1 5,.5 26-3.5 21-8.5 6.5-5.5 3.5-6.5 .5-6.5-1.5-1.5-.5-3-3-3.5 0-1.5-2-1.5 0-1.5-2-1.5 0-1.5-3-2.5-1-3.5-3-2.5 0-8 2-2.5-4-4.5-1-3.5-2-1.5-4-8.5-4-3.5 0-1.5-5-4.5 0-1.5-4-3.5 0-1.5-5-4.5 0-1.5-3-3-1.5,0-1.5-2-1.5,0-1.5-2-1.5,0-3.5-3-7-1-1-1-4,0-1-1-11,0-1,1-9,1-3.5,3-1.5,0-1.5,2-1.5,0-1.5,2-1.5,0-4,4 0,1.5-9,9.5-9,18.5-2,1.5-2,5.5-2,1.5-2,5.5-2,1.5-2,5.5-2,1.5 0,1.5-1,.5 0,1.5-1,.5 0,1.5-1,.5 0,1.5-1,.5 0,1.5zM1000.5,855.5l-13-14-1.5,0-3.5-3.5-1-3.5-1,0-5,5 0,2-1,1-4,0-1,1-4.5,0-5,1.5-1,2.5-10,10-1,3-6,7-1,3-4,4-12.5,26.5-2,1.5-2,5.5-3,3.5 0,1.5-3,3.5 0,1.5-2,2.5 .5,4-2,6.5 0,3 2,5-1.5,2-7.5,2.5-8.5,.5-.5-1-3.5-.5-5-4-5-2-8-6.5-2.5,0-6.5-4-2.5,0-4.5-3-3.5,0-3.5-2-11.5-1-.5-1-8,0-.5,1-6.5,0-.5,1-5.5,0-1,1-5.5,0-.5,1-2.5,0-4,2-1.5,2-2.5,0-10,5-1.5,2-2.5,0-10.5,9-5.5,3-2.5,3-1.5,0-1.5,2-5,3-5.5,6-16.5,13.5-4.5,8.5-1,6 1,11 3,7.5 5.5,8 8.5,8.5 11.5,7.5 24.5,9 27.5,4.5 24.5,1 29-3 19.5-5 21.5-10 8-5 10.5-9.5 4-6.5 2-7.5 .5-5-2-8.5-3.5-11-7-15.5 .5-11.5 1-1 12,1 11-2.5 17-1.5 8-2.5 4,.5 5-3 10-1 6.5-3 2.5-3.5 5-1 1-3 3,.5 .5,1-.5-2.5 2-1 0-2.5 1.5,.5 0-2-1-1 1-.5 1.5,1 3-3 0-1.5-1-.5 .5-3.5-1.5-1-.5-6-2-2.5 0-2.5-1-.5 0-2.5-2-2.5 0-2.5-4-6.5-1-6.5-3-6-2-2 1-1 0-6 1-1zM758.5,828.5l-13,16-2,5.5-1,.5 0,2.5-1,.5 0,1.5-2,2.5 0,2.5-2,2.5 0,2.5-1,.5 0,2.5-2,2.5 0,2.5-1,.5 0,1.5-2,2.5 0,2.5-1,.5 0,1.5-2,2.5 0,2.5-2,2.5 4.5,1.5-1,1.5 2,.5 0,3 3,5 10.5,7 8,4 15.5,3.5 7,0 12.5-1.5 9.5-5.5 3-3 .5-2.5 .5,1 1.5-.5-1-1 1.5-1.5 3.5-8.5-1.5-1 .5-2-2-4-1-.5 0-2.5-3-4.5 0-2.5-2-2.5-1-4.5-3-6-2-1.5-3-23.5-1.5,0-2.5-3-1.5,0-7.5-6zM867.5,679.5l-6,9-1,3-4,5-4,8-3,10-4,8 0,2.5-2,2.5-1,5.5-2,2.5 0,2.5-7,13.5 0,2.5-3,4.5 0,2.5-1,.5 0,1.5-2,2.5 0,2.5-1,.5 0,1.5-2,2.5 0,2.5-1,.5 0,1.5-2,2.5 0,2.5-2,2.5-.5,3 2.5,1 1,2-1,.5 .5,2-1,5.5 1,3 1.5,1-.5,1 2,1 0,2.5-1,1.5 5.5-.5-.5,4.5 3,.5 8,6 2.5,0 1-3 .5,3.5 1.5,0 2,2 0,1.5 2-5 1.5,5 1.5,1 3-1 1.5,1 .5,2 2-5 .5,3 1.5,1 0,1.5 2.5-1.5 .5,2 2-3 1,2 1,0 1-2 .5,2 4,0 11,1 .5-2.5 2,3.5 2.5-3 1,3.5 2-3 3-.5 .5,3.5 1.5-3.5 2.5-.5 2,1 5-3.5 2.5,1 1.5,2.5 .5-1 1.5,0 0-1.5 1.5-1 4-1 .5-1 7.5-.5-1-5 7-.5 0-4 2.5,2 .5-.5-1-1 0-3 2,1-.5,1 1.5-.5-.5-4 .5,1 3,1.5-1-3 2.5-.5 .5-2-1-.5 3-4-2-1 2-1-2-1.5 2-5-2-.5 2.5-2.5 2.5,0 .5-2.5-1-.5 0-2.5-2-2.5 0-2.5-2-2.5-1-5.5-2-2.5 0-2.5-1-.5-1-5.5-2-2.5-1-5.5-9-15.5-1-5.5-2-4-2-1.5 0-1.5-2-1.5-13-26.5-4-5-4-7-12,0-1-1z"/>
<path fill="#5050ff" d="M757.5,1157.5l1,6.5 2,2 6.5,5 15,6 22-.5 11-3.5 6-4.5 6-7.5-3-9.5-13.5-15-2.5,0-1.5-2-2,0-2-2-3,0-9-4-5,2-9,6-1.5,2-6.5,3-2.5,3-1.5,0-1,2.5-1,.5 0,1.5-2,1.5-2,4 0,2.5zM670.5,1073.5l-1-2-3-2.5-1-2.5-6-5.5 0-1.5-11-11-1-2-3-1-4-3.5-3.5-1-1.5-2-5,0-.5,1-4.5,0-.5,1-6,1-3,2-3.5,0-1,1.5-2,0-2,4-4,4-2,4-3,3 0,1.5-3,2.5 0,1.5-4,4.5 0,1.5-2.5,3.5 0,2-1,1 3,8 5.5,5 4,1 5,3 24,3.5 18.5-2 11.5-5.5 9-9.5 1-3.5-.5-4zM1097.5,920l-4,2-3.5,4-3.5,1-3.5,4-1.5,0-1.5,3-2.5,1-2.5,2.5 0,1.5-1.5,0-2,2.5-3,7-11,16-5,10.5-3,2.5-1,3.5-2,1.5-1,3.5-3,3.5-5,10.5-4,4.5 0,1.5-2,1.5-1,3.5-1.5,1.5-1,4.5 2,5.5 3.5,6 8,5.5 2-1 .5,2 2,0 0,2 6.5,4.5 4,0 1.5,1.5 .5,2.5 1,0 1-2.5 1,0 1,3 3-1 2.5,1 1.5,2 0,1.5 1.5-3.5 1,.5 0,2.5 1,0 0-2.5 1.5-2.5 .5,3 1.5,1 0,1.5 1.5,0 0-2.5 1.5,2 2,0 1-3 .5,3 1.5,1 0,1.5 1,0 0-1.5 1.5-.5 .5,3 1-2.5 2.5,0-.5,2.5 0-1.5 2-2.5 1,1 0,3 1.5-3 1.5,.5 1,2.5 0-2.5 2-2 2,2.5 1.5-.5 .5-2 .5,2 3.5,0 2,1 2.5-1 3.5,0 2.5-3 1.5,4.5 0-1.5 1.5-1.5 3-.5 .5,2.5 .5-1 1.5,0 8-6.5 5.5,1 2-4 7,.5 0-4.5 3.5,0 .5-3 2.5,2-1-2.5 1-.5 1.5,1-.5-3 1.5,0 1,1-.5-3 2,1.5-.5-2 1-1-1.5-1 1.5-2 .5-4-1.5-1-.5-6-1-.5 0-2.5-2-2.5 0-2.5-1-.5 0-1.5-1-.5 0-1.5-2-2.5-1-6.5-8-16 0-6-3-4.5 0-2.5-5-8.5 0-2.5-9-18-16-13-2.5,2.5-4,0-.5-1-2.5,0zM740,979.5l0,6.5 3.5,11 8.5,11 7,6 8,5 16,7 5,1 6,2 27,4 16,0 19-1 14-3 15.5-4.5 16.5-7.5 13-10 5.5-6 3-7 1-5.5-.5-8-4-11.5-6.5-11.5-6.5-7-6-4.5-10-3.5-1.5-2-8-4-8-6-2,0-14-7.5-3.5,0-4-2-4,0-.5-1-6.5,0-.5-1-8,0-.5,1-6,0-1,1-6,0-.5,1-8,1-6,4-2,0-8,4-4,3-2.5,0-10.5,9-1,0-9.5,8-1.5,0-9.5,9.5-2.5,1-9,10 .5,1.5zM500.5,933.5l4,2.5 2.5,.5-1,4.5-1,.5 2,0 2,8 3,3 1,3 3,1 11,7.5 6,2 2.5,0 2,2 7,1 1-2 .5,2 1.5,1 0,2.5 1.5-3.5 1,.5 .5,2.5 2-4 1,3.5 19.5,.5 .5-2 .5,2 4.5,.5 3-1 7.5,0 2-1 8,0 7.5-3 5.5-.5 14-7 7-8.5 1-3-.5-3.5 .5-2-1-.5-.5-4-1-.5 0-1.5-3-2.5-1-3.5-3-2.5 0-8 2-2.5-4-4.5-1-3.5-2-1.5 0-1.5-3-3.5-1-3.5-3-2.5-1-2.5-5-4.5 0-1.5-4-3.5 0-1.5-5-4.5 0-1.5-3-3-1.5,0-1.5-2-1.5,0-1.5-2-1.5,0-3.5-3-7.5-1-.5-1-4.5,0-.5-1-11,0-.5,1-9.5,1-3.5,3-1.5,0-1.5,2-1.5,0-1.5,2-1.5,0-9,10 0,1.5-4,3.5-3,7.5-2,1.5 0,1.5-1,.5 0,1.5-1,.5 0,1.5-2,2.5 0,1.5-2,1.5-2,5.5-2,1.5-2,5.5-2,1.5-2,5.5-2,1.5 0,1.5zM981.5,834.5l-1,0-5,5 0,2-1,1-9.5,1-4.5,1.5-11.5,12.5-1,3.5-3,2.5 0,1.5-3,2.5-1,3.5-3.5,3.5-4,9-2,2-7,14 0,1.5-2,1.5 0,1.5-1,.5 0,1.5-1,.5 0,1.5-1,.5-.5,2 .5,2-1,2.5 2,6.5 7.5,8 15.5,3 9,.5 6-1.5 8.5,0 2-1.5 5.5,0 9.5-2.5 9.5-3.5 5.5-5 3.5-.5 2-2.5 1.5,.5 0-2 1.5,0-.5-2 .5-.5 1.5,1 .5-2.5-1.5-2 2.5,1.5-.5-2.5 .5-.5 1,1-1-2.5 .5-3-1-1 .5-2-1-.5 0-2.5-2-2.5 0-2.5-1-.5 0-1.5-1-.5 0-1.5-2-2.5-1-6.5-3-6-2-1.5 1-1.5 0-6.5 1-.5 1-7-13-14-1.5,0-3.5-3.5zM758.5,828.5l-13,16 0,1.5-1,.5 0,1.5-2,2.5 0,2.5-1,.5 0,1.5-2,2.5 0,2.5-2,2.5 0,2.5-1,.5 0,2.5-2,2.5 0,2.5-1,.5 0,1.5-2,2.5 0,2.5-1,.5 4,3.5 .5,1.5-1.5,.5 2,1-1,1.5 1.5,0 1.5,2.5 7.5,5 11,5.5 11.5,2 8.5-.5 4,.5 7.5-2 10-5.5 5.5-9.5-1-1 1-2.5-2.5-5 0-2.5-1-.5 0-1.5-1-.5 0-1.5-1-.5 0-2.5-3-6-2-1.5-3-23.5-1.5,0-2.5-3-1.5,0-7.5-6zM867.5,679.5l-6,9-1,3-4,5-4,8 0,2-3,6 0,2.5-2,2.5 0,2.5-4,7.5-1,5.5-2,2.5 0,2.5-7,13.5 0,2.5-1,.5 0,1.5-1,.5 0,1.5-1,.5 0,2.5-1,.5 0,1.5-2,2.5 0,2.5-1,.5 0,1.5-2,2.5 0,2.5-1,.5 0,1.5-2,2.5 0,2.5-2,2.5 4.5,1.5 1,2 0,5.5 1.5,1-1,2 5.5,0-2,1 1,3-1,1 4-.5 1.5,2.5 7,3.5 1,0 .5,2 3,1 1.5,4.5 1.5-4.5 1.5,2 3,1 1-4 1.5,5 5,.5 1.5,1.5 0,2.5 0-1.5 1-.5 .5-2 1.5,1 0,1.5 1,0 1-2 1,3 2-4 .5,2 2,0 .5-2 .5,2.5 12-.5 2.5,1 8.5-1.5 .5,2 4.5-5.5-.5,3 2,2.5 2.5-2.5 1.5,0 2-3 1,0 1-1 3.5,1 .5,2.5 .5-1 1.5,0 .5-1 3.5,0-1-1.5 .5-4 9.5,.5-1-4 1.5-.5 2,1.5 .5-3-1.5-.5 0-1.5 3,1.5-.5-4 2.5,2 0-2-1-.5 0-2 2.5,1.5 1.5-1.5 1-2.5-1-2.5 2-1 0-3-1-.5 0-1 2-2 0-1-3-.5 1.5-1.5 2.5,1 2-1.5-.5-3-1-.5-1-4.5-1-.5 0-2.5-2-2.5-2-8.5-2-2.5-1-5.5-1-.5-2-5.5-2-1.5-4-8 0-2.5-1-.5 0-2.5-2-4-2-1.5-3-6.5-2-1.5-10-21.5-4-5-4-7-12,0-1-1z"/>
<path fill="#5454ff" d="M766,1144.5l-1.5,8.5 1,2.5 5,5 5.5,3 13.5,2.5 11.5-.5 13-4.5 2-2 4-5 1-4.5-2-3 0-1-8.5-9-2.5,0-1.5-2-2.5,0-1.5-2-3.5,0-.5-1-2.5,0-5.5-3-5,2-1.5,2-1.5,0-1.5,2-1.5,0-6.5,5-1.5,0-1.5,2-1.5,0zM664.5,1066.5l-5-5.5 0-1.5-11-10.5-1-2.5-3.5-1-1.5-2-5-2-2-2-5,0-1,1-4,0-4,2-3,0-3,2-6,1-2,4.5-4,3.5 0,1.5-5,5.5 0,1.5-3,2.5 0,1.5-2,1.5 0,1.5-2,2.5 2.5,0 0,3.5 5,5.5 10,4.5 16.5,3 13.5-.5 2.5-1.5 4.5,0 9.5-5 4-3.5 4-5.5 0-4zM1110.5,920.5l-2.5,2.5-4,0-.5-1-2.5,0-3.5-2-4,2-3.5,4-3.5,1-3.5,4-1.5,0-1.5,3-2.5,1-2,3.5-4,3-3,7-6,8-3,6.5-2,1.5-2,5.5-2,1.5-1,3.5-3,2.5-5,10.5-2,1.5-2,5.5-2,1.5-1,3.5-3,3.5-2,6 1,.5 .5,3 3,6.5 4.5,2.5 2,3.5 4,2.5 1.5-.5 .5-2.5 .5,2 2,.5-1,1 7.5,5.5 0,2 2-5 1,3 3,.5 1,1 0-1.5 1,0 2,5 2-5 .5,3 4,.5 1-1 0,2 1.5,1 0,2 0-2 1.5-2.5 1,.5 .5,2.5 2-3 .5,3 2-2 2.5,3 0,1.5 1,0 .5-2 1.5,.5 0,1.5 1.5-3 1.5,.5 0,1.5 1,0 0-1.5 1.5-.5 .5,2 1-1 .5,1-.5,3 1.5-5 1-.5 .5-2 2,4 .5-2.5 1,0 1.5,4 0-1 2-1.5 2.5,1 2.5-2 3,.5 3.5-1.5 1.5,2.5 3-3.5 5,1 9-4 1-1 .5,1 5-.5-.5-4.5 7,.5-1.5-1 .5-3 2.5,.5-.5-2.5 1.5-.5 .5-2 2,2-.5-3 2.5,1.5-.5-1.5 1-2.5-1-3 1-1.5-1-2.5 .5-3-1-.5 0-2.5-1-.5 0-1.5-1-.5 0-1.5-2-2.5-1-6.5-1-.5 0-1.5-2-2.5 0-2.5-5-8.5 0-6.5-8-15.5 0-2.5-9-18zM748.5,972.5l0,8.5 5.5,12 10,10 8.5,5 13,6 9,2 4.5,2 14.5,2 20.5,1.5 13.5-1.5 5,.5 2.5-1.5 11-1 14.5-4 10-4.5 7.5-4.5 11.5-9.5 5-7.5 1.5-8 0-6.5-4-11.5-5-8-10.5-9.5-5.5-2-1.5-2-8.5-4-7.5-6-2,0-7-4-2,0-5-3-3,0-4-2-11-1-1-1-8,0-1,1-6,0-1,1-5-.5-1,1-5,0-7.5,3-1.5,2-2,0-6.5,3-5.5,4-2,0-19,15.5-4,2-2.5,3-2.5,1-7.5,9zM505.5,924.5l0,1.5 5,3.5 0,6 1.5,3.5-1,1.5 3,.5 1,3.5 4,2.5 1,1.5-2.5,1 1.5,0 .5,2 1,0 0-2.5 3.5,1.5 1.5-.5 .5,1.5 1.5,.5 3.5,3.5 9,1.5 2,1.5 3.5,0 1,2.5 2-3 .5,2.5 19.5,1 1,2.5 1-2.5 6.5,.5 2.5-1 15.5-1 .5-2 1,1.5 6-1 4-2 3.5-.5 2.5-2 8.5-4 3.5-3 3.5-7 .5-5-1.5-1.5 0-2.5-2.5-3 0-8 2-2.5-4-4.5-1-3.5-2-1.5 0-1.5-3-3.5-1-3.5-4-3.5 0-1.5-5-4.5 0-1.5-4-3.5 0-1.5-5-4.5 0-1.5-3-3-1.5,0-1.5-2-1.5,0-1.5-2-1.5,0-3.5-3-7.5-1-.5-1-4.5,0-.5-1-11,0-.5,1-9.5,1-3.5,3-1.5,0-1.5,2-1.5,0-1.5,2-1.5,0-9,10 0,1.5-4,3.5-1,3.5-2,2.5 0,1.5-2,1.5 0,1.5-1,.5 0,1.5-1,.5 0,1.5-2,2.5 0,1.5-2,1.5-2,5.5-2,1.5-2,5.5zM981.5,834.5l-1,0-5,5 0,2-1,1-9.5,1-4.5,1.5-3.5,5-8,7.5-1,3.5-5.5,6.5-1,3-4,4-4,9.5-2,1.5-1,3.5-1,.5 0,1.5-1,.5 0,1.5-1,.5 0,1.5-1,.5 0,1.5-2,2.5 1,10.5 9.5,8 10,2.5 6,.5 14.5-.5 7-1.5 6.5-.5 6.5-3.5 1,0 1-2 1.5,1 7.5-2.5 .5-1.5 3-2 2.5,.5-.5-1 1-1.5 1.5,.5-.5-2.5 2,.5-1-2.5 2.5-2-1-1.5 1-.5 .5-3.5-1-1 .5-2-1-.5 0-1.5-1-.5 0-1.5-2-2.5-1-6.5-1-.5-2-5.5-2-1.5 1-1.5 0-6.5 1-.5 1-7-13-14-1.5,0-3.5-3.5zM758.5,828.5l-4,5.5-3,2.5 0,1.5-4,3.5 0,1.5-2,1.5 0,1.5-1,.5 0,1.5-2,2.5 0,2.5-1,.5 0,1.5-2,2.5 0,2.5-2,2.5-1,5.5-1,.5-.5,2 3,1.5 .5,2-3,.5 2,0 1,1 1.5,5 14.5,9.5 17,2 10.5-.5 5-2 8.5-5.5 2-6.5 1.5-1-1.5-1 1-.5-1-6.5-1-.5-2-5.5-2-1.5 0-3.5-1-.5 0-6.5-1-.5 0-8.5-1-1 0-3-1.5,0-2.5-3-1.5,0-1.5-2-1.5,0-2.5-3-2-1zM867.5,679.5l-6,9-1,3.5-4,4.5-4,8 0,2.5-2,2.5-1,5.5-2,2.5 0,2.5-4,7.5-1,5.5-5,9.5 0,2.5-1,.5 0,1.5-1,.5 0,1.5-2,2.5 0,2.5-1,.5 0,1.5-2,2.5 0,2.5-1,.5 0,1.5-2,2.5 0,2.5-1,.5 0,1.5-2,2.5-.5,3 4,2-1,.5 1,2-.5,4.5 2.5,3.5 0,1-1.5,.5 5.5-.5-1,4.5 3,.5 .5-1 .5,2 2,0 2,2 .5,2 1.5,0 3.5,2 2,0 1-1 1.5,1.5 1,2.5 1-.5 1.5-2.5 .5,3 4.5,0 1.5,1 .5,2 2-4 .5,2 1.5,1.5 0,2 1.5-3.5 1,0 .5,3 2-3 .5,3 1.5-2 3.5,1 .5-2 .5,2 2,0 .5-2 1.5,3 2-2 1.5,3.5 0-1.5 1.5-1 4.5-1 3,1 3-1 2.5,.5 4.5-2 2.5,1-.5,2 8-6.5 10.5-1.5 1,1-1-1 0-3.5-1-1.5 3.5-.5 3,2 .5-2 2-1.5-1-1 0-3 2,1.5 1-.5-1-.5 0-2 2.5,1.5-.5-2 .5-.5 1,1 .5-1.5-1-1 2-2 1-4.5 1-.5-2-1 1-2.5-1.5,0-.5-1.5 1-1.5-2-.5 1.5-1.5 2,0 3-1.5-2-2.5 0-2.5-1-.5-1-5.5-2-2.5-1-5.5-1-.5-2-5.5-2-1.5-4-8-1-5.5-2-4-2-1.5 0-1.5-2-1.5-1-3.5-2-1.5-10-21.5-8-12z"/>
<path fill="#5858ff" d="M771,1141l0,1.5 8,8.5 15.5,3 6-1 8-2.5 1.5-2 1-7 1.5-1-1-1 1-1-2.5-2-2,0-2-2-2,0-2-2-3,0-.5-1-2.5,0-2.5-2-2.5,0-.5-1-1,0-.5,1-3.5,1-1.5,2-1.5,0-1.5,2-1.5,0-1.5,2-1.5,0-1.5,2-1.5,0zM659,1061.5l-3.5-6-7-6.5-1-2.5-1.5,0-3.5-3-5.5-2-1.5-2-5,0-.5,1-4.5,0-3.5,2-3.5,0-2.5,2-6.5,1-2,3 0,1.5-4,3.5 0,1.5-2,1.5 0,1.5-3,2.5-.5,2.5 2,.5-1,2.5 2,3 5.5,4 7.5,3 9,1 18.5-1.5 9.5-4.5 5-5.5 1-3.5zM1110.5,920.5l-2.5,2.5-4,0-.5-1-2.5,0-3.5-2-4,2-3.5,4-3.5,1-4,4.5-1,0-1,2-9,8-3,7-4,5 0,1.5-2,1.5-3,6.5-2,1.5-5,10.5-3,2.5 0,1.5-3,3.5-2,5.5-2,1.5 0,1.5-1,.5 0,1.5-1,.5 0,1.5-1,.5-2,4 1,.5-1,1.5 .5,4 2.5,4 4.5,3.5 0,1.5 1,1.5 7.5,4.5 0,2 4-1 6.5,3.5 1.5-2 2,5.5 1,0 .5-1.5 1.5,.5 0-1.5 1,0 .5,2.5 1.5,.5 0,2 1.5-5 1,2 1.5,1 0,1.5 1.5,0 0-2.5 1,0 .5,2 1.5,0 .5-2 1,2 7.5,.5 .5,2 1,0 .5-2 1.5,.5 0,1.5 1,0 .5-2 1.5,.5 0,1.5 1,0 0-1.5 1.5-.5 .5,4 1-2.5 1.5-1.5 3,1 3-1 2.5,.5 2-3 1,.5 1,4 1.5-3.5 3,0 .5,2.5 .5-1 3.5-.5 1-2.5 6-2.5 7.5,1.5-1-2 0-3.5 2.5,1 3.5-.5 1.5,1-1.5-2 .5-3 3.5,.5 .5-2.5 1.5-.5 .5-2 1,1 .5-2 2,.5 .5,1-1-4 1-1.5 1,.5 .5-1-1.5-1 .5-3-1-1 0-2-1.5-2.5 0-2.5-1-.5 0-3.5-1-.5 0-1.5-2-2.5 0-2.5-1-.5 0-1.5-1-.5 0-1.5-3-4.5 0-6.5-1-.5 0-1.5-2-2.5 0-2.5-5-8.5 0-2.5-9-18-2-2-1.5,0-3.5-4-1.5,0-2.5-3-1.5,0zM757,967l0,5.5 3.5,9 7,8 11,8 16.5,6.5 5.5,.5 7.5,2.5 22,2 13-1 6,0 12.5-2.5 4.5,0 17-6.5 9-4.5 11-9.5 5-12 0-4-2-10-8.5-12.5-5.5-4-1,0-1.5-2-1.5,0-1.5-2-5.5-2-7.5-6-2.5,0-13.5-7-3,0-1-1-7-1-1-1-6,0-1-1-8,0-1,1-6,0-1,1-5-.5-.5,1-5.5,0-.5,1-2.5,0-4,2-2,2-2,0-10,5-1.5,2-2.5,.5-23.5,18.5-5,8zM510.5,915.5l3,2 1.5,2.5 0,10 2,2 1,2.5 3,1.5 .5,2.5 3,2 0,2 2-1 3,.5 1-1 .5,2 2,0 2,2 .5,2.5 2-1 16,4.5 18.5,1 19.5-1.5 3.5-1.5 6-1 5-2.5 5-1.5 3.5-3.5 2.5-1 5-7 0-6.5 1.5-1.5-2-1.5 5-5.5-4-4.5-1-3.5-2-1.5 0-1.5-3-3.5-1-3.5-4-3.5 0-1.5-5-4.5 0-1.5-4-3.5 0-1.5-5-4.5 0-1.5-3-3-1.5,0-1.5-2-1.5,0-1.5-2-1.5,0-3.5-3-7.5-1-.5-1-4.5,0-.5-1-11,0-.5,1-9.5,1-3.5,3-1.5,0-1.5,2-1.5,0-1.5,2-1.5,0-4,4 0,1.5-5,4.5 0,1.5-4,3.5 0,1.5-1,.5-2,5.5-2,1.5 0,1.5-1,.5 0,1.5-1,.5-2,5.5-2,1.5-2,5.5zM981.5,834.5l-1,0-5,5-.5,3-4.5,0-.5,1-5,0-4.5,1.5-1.5,3-9.5,9.5-1,3-6,7-1,3.5-4,3.5-2,5.5-2,2.5 0,1.5-3,3.5 0,2-1,1 .5,3-1,1 1,1 .5,4 10,7.5 15,3 3.5-1 11,1 .5-2 6,.5 5.5-2.5 6.5-.5 1.5-3.5 5-.5 2.5-1.5 1.5-3 2,1 0-2 .5-.5 1,1-.5-5 2-.5 1-3-1.5,1-.5-1.5 1.5-.5 0-1-1.5-.5 .5-3-1-.5 0-3.5-1-.5-2-5.5-2-1.5 0-1 1-.5 0-6.5 1-.5 1-7-5-4.5 0-1.5-8-8-1.5,0-3.5-3.5zM758.5,828.5l-2,2 0,1.5-5,4.5 0,1.5-4,3.5 0,1.5-2,1.5 0,1.5-1,.5 0,1.5-2,2.5 0,2.5-1,.5 0,1.5-2,2.5-1,4.5 3.5,2 1,7 12,8 11,1.5 12,.5 11.5-5 4-7-.5-2.5 1.5-1-.5-1 .5-2-2-1.5 0-3.5-1-.5 0-6.5-1-.5 0-8.5-1-.5 0-3.5-1.5,0-2.5-3-1.5,0-1.5-2-1.5,0-2.5-3-1.5,0-.5-1zM867.5,679.5l-2,4.5-4,4.5-1,3.5-4,4.5-4,8 0,2.5-2,2.5-1,5.5-2,2.5 0,2.5-4,7.5-1,5.5-2,2.5 0,2.5-1,.5 0,1.5-2,2.5 0,2.5-1,.5 0,1.5-1,.5 0,1.5-2,2.5 0,2.5-1,.5 0,1.5-2,2.5 0,2.5-1,.5 0,1.5-2,2.5 0,3 3.5,1-1,.5 1.5,3.5 0,4.5-1,.5 3.5-.5 0,4.5 4,0-.5,1 .5,2 3.5,2-1,.5 0,1.5 1,0 1-2 1.5,0 5.5,3 1.5,1.5 .5,2 1-2 3.5,1 1.5,2 0,1.5 0-1.5 2-2 2,4.5 2-3.5 .5,2 1.5,1 0,1.5 1.5-3.5 1,0 1.5,4 2-4 .5,3 2-1 .5-2 .5,3 2-1.5 .5-1.5 .5,2 8.5,.5 4-.5 1.5-1 .5-2 2,4 .5-2 1.5-1 3,3.5 2.5-2.5 2,0 .5-2 2.5-.5-1-1 1.5-1.5 1,.5-.5,2 1.5,1 0,2 .5-1 3-1 1-1.5 4.5-.5-.5-5.5 9,.5-1-4 2.5,1.5 .5-.5-1-1 0-2 3,1-1-3 .5-.5 2,1.5-1-2.5 1.5,0 .5,1 .5-1 0-3.5 1-.5 0-2.5 1.5-2-1.5-1.5 2-2-3-.5 2-2-2.5-.5 .5-1.5-2-1 2.5-2.5 2.5,0 1.5-1.5-2-2.5-1-5.5-1-.5-2-5.5-2-1.5 0-1.5-1-.5 0-1.5-1-.5 0-1.5-2-2.5 0-2.5-1-.5 0-2.5-1-.5-1-3.5-2-1.5-3-6.5-2-1.5-10-21.5-4-4.5-4-7.5-12,0-1-1z"/>
<path fill="#5c5cff" d="M789.5,1138l.5,.5 4,0 5-1.5 3-2.5-2.5-2-6.5-2-.5-1-1,1 1,.5 0,1-1.5,1.5zM649.5,1054.5l-3-8-2.5-1-1.5-2-5.5-2-1.5-2-10,1-3.5,2-3.5,0-2.5,2-6.5,1-1,2.5-1,.5 0,1.5-1.5,1.5 1,.5-1,1.5 1.5,7 8.5,3.5 10,2 12-2 10-5 1.5-2zM1097.5,920.5l-4,2-4,4-3,1-4,4-1,0-1,2-9,8-3,7.5-6,7.5-1,3.5-2,1.5-4,8.5-2,1.5-1,3.5-3,2.5-1,3.5-2,1.5 0,1.5-1,.5 0,1.5-2,2.5 0,3-1,1 .5,6 4,4 2,3.5 3,0 .5,1.5 1-.5 .5,2 1.5,0 2.5,3 4,2.5 2,0 .5-3.5 .5,3.5 2.5,1 1,3.5 2-5 2,5 2-4 .5,3 3.5,1 1-1 1.5,1 .5,3 2-4 1,2 1,0 1-2 1,3 1.5-2 .5,1 4.5,1.5 .5,2 1,0 .5-2 1,0 .5,2 1,0 0-1.5 1.5-1 6.5,.5 2.5-1.5 2.5,1 4-1 1,1.5 3-3.5 2.5,0 4.5,2.5 .5-2.5 7.5-4 .5,1 4-.5 1,1-1-5 3-.5 1.5,1 1.5-.5 .5-3.5 2.5,.5-.5-2.5 2,2-.5-1.5 2.5-5-.5-1 .5-3 1-.5-2-1.5 1-.5 0-2.5-1-.5 0-1.5-2-2.5 0-2.5-1-.5 0-1.5-1-.5 0-1.5-1-.5 0-1.5-2-2.5 0-6.5-1-.5 0-1.5-2-2.5 0-2.5-2-2.5 0-1.5-3-4.5 0-2.5-9-18-2-2-1.5,0-3.5-4-1.5,0-2.5-3-1.5,0-3.5-4-3,3-3,0zM765.5,958.5l2,11.5 8.5,10 12,8 16.5,5.5 7,.5 6.5,2 27.5,0 22.5-4 8-3.5 11-6 7.5-7.5 4.5-9 0-8-1.5-5.5-4-7-9-7.5-3.5-1.5-1.5-2-1.5,0-4.5-4-2.5,0-.5-1-6-3-2.5,0-4.5-3-3.5,0-.5-1-7.5-1-.5-1-6.5,0-.5-1-8,0-.5,1-6.5,0-.5,1-3.5-.5-3.5,1.5-4.5,0-7,3-2,2-2,0-10,5-2,2-2,0-16.5,13.5zM516.5,905.5l3.5,4-1,11.5 2,3 2.5,2.5 .5,2.5 4,2 2.5,2 10.5,4 15.5,3 1-2 .5,2.5 11.5,1 18.5-1.5 11.5-2.5 5.5-2.5 10-7.5 2-6.5 0-5.5 4.5-4 0-2-2-1.5 0-1.5-3-3.5-1-3.5-4-3.5 0-1.5-5-4.5 0-1.5-4-3.5 0-1.5-5-4.5 0-1.5-3-3-1.5,0-1.5-2-1.5,0-1.5-2-1.5,0-3.5-3-7.5-1-.5-1-4.5,0-.5-1-11,0-.5,1-9.5,1-3.5,3-1.5,0-1.5,2-1.5,0-1.5,2-1.5,0-4,4 0,1.5-5,4.5 0,1.5-4,3.5 0,1.5-1,.5-2,5.5-2,1.5 0,1.5-1,.5 0,1.5-1,.5 0,1.5zM1000.5,855.5l-5-4.5 0-1.5-8-8-1.5,0-3.5-3.5-1-3.5-1,0-5,5-.5,3-9.5,1-5,2-1,2-10,10-1,3.5-6,6.5-1,3.5-4,3.5 0,1.5-1,.5 0,1.5-2,2.5-.5,4 1,1 .5,4 10.5,7 8,1.5 15,1 9-2.5 3.5,.5 3-2 4-.5 2.5-3.5 4-1.5 2.5-2 2-4.5 0-2.5 2-2.5-2-5.5-2-1.5 0-1 1-.5 0-6.5 1-.5zM758.5,828.5l-2,2 0,1.5-5,4.5 0,1.5-4,3.5 0,1.5-3,3.5 2.5,4-1,5 2,6.5 11,6 10,2 7.5-.5 4.5-2.5 5-1.5 3-6-1-6 2.5-3.5-.5-1-2.5,2-2.5-.5 2.5-1.5 .5-4 1.5,1 1-1-1-7.5-1.5,0-2.5-3-1.5,0-1.5-2-1.5,0-2.5-3-1.5,0-.5-1zM867.5,679.5l-2,4.5-4,4.5-1,3.5-4,4.5-4,8 0,2.5-2,2.5-1,5.5-2,2.5 0,2.5-2,2.5-1,4.5-1,.5-1,5.5-2,2.5 0,2.5-1,.5 0,1.5-2,2.5 0,2.5-1,.5 0,1.5-1,.5 0,1.5-2,2.5 0,2.5-2,2.5 0,1.5 2.5,2 0,1.5-3,.5 0,1 3,.5 0,3.5 2,4 3.5,.5-1.5,4 4-.5 4,4 .5,2 2,0 2.5,1.5-.5,2 1,0 1-2.5 2,0 1.5,1 .5,3 2-5 .5,2.5 1,.5 .5,3 2-5 .5,2.5 1,.5 .5,2 2.5-1 .5-3 .5,3.5 1.5,1 0,1.5 2-4 .5,3 2-1.5 .5-1.5 .5,2 10.5,0 1,.5 7-1.5 2.5,1.5 3.5-2 3.5,1 2.5-.5 1-2.5 1,0 2-2.5 1.5,0 .5-1 10.5,.5-1-3 4-1.5 0-3 2.5,1.5-1-2 .5-.5 2,.5-1-3 2,0 0-1.5 1-.5-1-3 2.5,1 0-3-1-1 1-2-1.5-1 1-2.5-2,0 1-3-2-.5 1.5-1.5 5-2-1-1 0-1.5-1-.5 0-1.5-1-.5 0-1.5-2-1.5 0-1.5-1-.5-2-5.5-1-.5 0-2.5-1-.5 0-2.5-1-.5-1-3.5-2-1.5 0-1.5-1-.5-2-4.5-2-1.5-10-21.5-2-1.5 0-1.5-2-1.5-1-3.5-2-1.5-1-2.5z"/>
<path fill="#6060ff" d="M639,1043.5l-1-2-1,0-1.5-2-5,0-.5,1-4,0-4,2-5.5,1-1.5,2 1,1 0,2.5 2,1.5 8.5,2.5 3.5,0 8.5-5.5zM1097.5,920.5l-4,2-4,4-3,1-4,4-1,0-1,2-5,4 0,1.5-4,2.5-3,7.5-6,7.5-1,3.5-2,1.5 0,1.5-2,1.5 0,1.5-1,.5-1,3.5-2,1.5-1,3.5-3,2.5 0,1.5-1,.5 0,1.5-2.5,3.5 2,1.5-1.5,1.5 1,.5 .5,3.5 6.5,8 4.5,1 8.5,5.5 1.5-.5 .5-2.5 2,5 2-4 0,3.5 3,.5 1,3.5 1.5-3.5 2.5,4.5 1.5-3.5 2,3 1.5-4 .5,2 4.5,1 6.5,0 .5-2 .5,2 1.5,1 1-2 1,2 4.5-2 1.5,2 1-2 1,0 0,1.5 4-1.5 6,1 1-2.5 5.5-1.5 2.5,.5 1,2 1.5-2.5 3,.5-1-4 .5-1.5 4,2 2.5-.5-1-3.5-1-.5 .5-1.5 .5,1 5,.5 0-4.5 2-1.5-1-1 0-1 1.5,.5 .5-.5-1-1 0-4 1.5,.5-1-4.5-1-.5 0-1.5-1-.5 0-1.5-1-.5 0-1.5-1-.5 0-6.5-1-.5 0-1.5-2-2.5 0-2.5-1-.5 0-1.5-1-.5 0-1.5-1-.5 0-1.5-2-2.5 0-2.5-1-.5 0-1.5-8-16-2-2-1.5,0-3.5-4-1.5,0-2.5-3-1.5,0-3.5-4-3,3-3,0zM775,952l.5,5.5 3.5,6.5 4.5,5 10,6.5 9,3 3.5,2 7.5,2 19,1.5 22.5-2.5 14-4 12.5-7.5 7.5-9 1-3.5-.5-8.5-3.5-6-.5-3.5-5-4-2.5-1-1.5-2-1.5,0-1.5-2-2.5,0-.5-1-1.5,0-.5-1-1.5,0-2.5-2-2.5,0-.5-1-1.5,0-2.5-2-3.5,0-.5-1-7.5-1-.5-1-6.5,0-.5-1-8,0-.5,1-6.5,0-.5,1-11.5,1-.5,1-2.5,0-4,2-1.5,2-2.5,0-10,5-1.5,2-2,0-9,8.5zM520.5,897.5l0,1.5 2.5,1 2,2.5-1,2 0,8 5.5,8 13,6.5 5.5,.5 8,2.5 4.5-.5 1,2.5 1-2.5 2.5,1.5 6,0 20-2 12-5.5 6.5-5.5 1.5-4.5-1-7-3-4 1-1-2-1 5-3.5 .5-2.5-5-4.5 0-1.5-4-3.5 0-1.5-5-4.5 0-1.5-3-3-1.5,0-1.5-2-1.5,0-4.5-4-4.5-1-.5-1-9.5-1-.5-1-11,0-.5,1-5.5,0-.5,1-3.5,0-.5,1-1.5,0-1.5,2-1.5,0-1.5,2-1.5,0-1.5,2-1.5,0-4,4 0,1.5-9,9.5 0,1.5-1,.5-2,5.5zM1000.5,855.5l-5-4.5 0-1.5-8-8-1.5,0-3.5-3.5-1-3.5-1,0-5,5-.5,3-9.5,1-.5,1-4.5,1-2,3.5-9,8.5-1,3.5-6,6.5 0,1.5-1,.5 0,1.5-1.5,2 .5,6.5 9.5,6.5 11,2 23-3 3-3 4.5-2 3.5-3.5 1-2-1-2 2-1.5-1-4 2,0zM747.5,841.5l0,2 2.5,2.5 2.5,6 9.5,5.5 8.5,1.5 12.5-5 1-3.5-2-3 0-2-1.5-.5-1.5-2 7.5-7.5-2.5-1-1.5-2-1.5,0-2.5-3-1.5,0-.5-1-18,0-2,2 0,1.5-5,4.5 0,1.5zM867.5,679.5l-2,4.5-4,4.5-1,3.5-4,4.5-4,8 0,2.5-3,5.5 0,2.5-2,2.5 0,2.5-1,.5-1,4.5-2,2.5-1,5.5-2,2.5 0,2.5-1,.5 0,1.5-2,2.5 0,2.5-1,.5 0,1.5-1,.5 0,1.5-2,2.5 0,2.5-1,1 4.5,.5 0,5 3,1 0,2-1,1 4-.5 .5,3.5 4.5,1 2,1.5 1.5,0 .5,2 2,0 2.5,2 0,3 .5-3 2.5-.5 2,2 0,2.5 .5-2.5 1.5-2.5 2,6 1.5-4 2.5,3 0,1.5 1.5-3.5 1,2 2,0 .5-2 2,3 1-2.5 1.5,2 3-1.5 .5-2 .5,2 1.5,1 1.5-2 1.5,3.5 1-2.5 3,0 2-1 1.5,0 .5-1 1,2 3,1 1-2.5 11.5-2 2-1 1-2.5 5.5-1.5 1.5-3.5 2,1 0-2 2,.5-1-2 1.5,0 0-1 1.5-1-1-4 1-.5 0,2 1.5,.5-1-2 .5-2-1-1 1.5-2-1.5-1 2.5-3 3-1-1-4-2-1.5 0-1.5-1-.5 0-1.5-1-.5 0-1.5-2-2.5-1-5.5-1-.5-1-3.5-2-1.5 0-1.5-2-1.5-1-3.5-2-1.5 0-1.5-1-.5 0-1.5-9-18-2-1.5 0-1.5-2-1.5-1-3.5-2-1.5-1-2.5z"/>
<path fill="#6464ff" d="M1050,978.5l2,2 2.5,6 4,4 6.5,3.5 5,1 .5,2.5 2-.5 2.5,.5 1.5,1.5 0,1.5 1-3 1-.5 .5,2.5 1.5,.5 0,2 1-2.5 2,0 2,2 0,1.5 2-4 1,3 2-4 1,3 1-1 8.5,1.5 18-1.5 3.5,1.5 .5-1.5 2.5-1 3-3 6.5-.5 1,1 0-4 2.5-1 3.5-3 1-4.5 2.5-3-.5,1-1,0 0-1.5 1.5-1.5-1.5,0 .5-2.5-1-.5 0-6.5-1-.5 0-1.5-2-2.5 0-2.5-1-.5 0-1.5-1-.5 0-1.5-1-.5 0-1.5-2-2.5 0-2.5-1-.5 0-1.5-1-.5 0-1.5-1-.5 0-1.5-1-.5 0-1.5-1-.5 0-1.5-1-.5 0-1.5-3-6-2-2-1.5,0-3.5-4-1.5,0-2.5-3-1.5,0-3.5-4-3,3-3,0-7-3-4,2-4,4-3,1-3.5,4-1.5,0-1,2.5-1.5,1.5-1.5,0-2,2 0,1.5-4,2.5-3,7.5-4,4.5 0,1.5-2,1.5 0,1.5-3,3.5 0,1.5-2,1.5-2,5.5-2,1.5 0,1.5-1,.5 0,1.5zM786,944.5l0,3.5 2.5,5.5 3.5,4.5 13,7.5 9.5,2 4.5,2 6,.5 24.5-1 14-4.5 9-5.5 3.5-3.5 4-9.5-1.5-5.5-4.5-6 .5-1-7.5-5-.5-1-4.5-1-.5-1-1.5,0-2.5-2-3.5,0-.5-1-2.5,0-.5-1-4.5,0-.5-1-6.5,0-.5-1-8,0-.5,1-6.5,0-.5,1-5.5,0-.5,1-5.5,0-.5,1-2.5,0-.5,1-3.5,1-1.5,2-4.5,1-.5,1-1.5,0-.5,1-1.5,0-2.5,2-5,8zM524.5,890.5l.5,2.5 4,3.5-1,2 0,3 4.5,8.5 14.5,7.5 5,0 5,2 10,.5 16-.5 14-5.5 7.5-7 .5-5.5-2-4 5.5-5 0-1-2-1.5 0-1.5-4-3.5 0-1.5-5-4.5 0-1.5-3-3-1.5,0-1.5-2-1.5,0-1.5-2-1.5,0-3.5-3-2.5,0-.5-1-4.5,0-.5-1-4.5,0-.5-1-11,0-.5,1-5.5,0-.5,1-3.5,0-.5,1-1.5,0-1.5,2-1.5,0-1.5,2-1.5,0-1.5,2-1.5,0zM1000.5,855.5l-5-4.5 0-1.5-8-8-1.5,0-3.5-3.5-1-3.5-1,0-5,5-.5,3-9.5,1-.5,1-4.5,1-1,2.5-10,10-4,9.5 1.5,3.5 9.5,5.5 3-.5 2.5,1 13.5-1.5 11-4 1.5-2.5 3-2 2-6 5.5-5.5 1,.5-1,2.5 .5-1 1.5,0zM753.5,834.5l5.5,8 13,0 2.5-1-.5-5.5 5-5.5-2.5-2-18,0-2,2 0,1.5zM867.5,679.5l-2,4.5-4,4.5-1,3.5-4,4.5-2,5.5-2,2.5 0,2.5-2,2.5-1,5.5-2,2.5 0,2.5-1,.5-1,4.5-2,2.5-1,5.5-1,.5-1,4.5-1,.5 0,1.5-2,2.5 1.5,1.5 2,.5-.5,1.5-2-1-1.5,1 2,4 3,.5-1,3 3.5,1-.5,3 3-.5 8.5,6.5-1,.5 0,1.5 1,0 .5-2.5 2.5-1 3,4 0,2.5 0-2 2-2.5 1,3.5 4.5-1 3,1 15-.5 1.5,1 2-3 2,3 6-2.5 5,1.5 1-2.5 10-3 1.5-2.5 4-1.5 1-1.5 1.5,1-.5-2.5 1.5,0 0-1 1.5-1-1-2 0-3 2,.5-1-3 6.5-3.5-1-.5 0-1.5-1-.5 0-1.5-1-.5 0-1.5-2-2.5 0-2.5-1-.5 0-2.5-1-.5-1-3.5-2-1.5 0-1.5-2-1.5-1-3.5-2-1.5 0-1.5-1-.5 0-1.5-1-.5 0-1.5-1-.5 0-1.5-1-.5 0-1.5-1-.5 0-1.5-5-10-4-4.5-4-7.5-12.5,0-.5-1z"/>
<path fill="#6868ff" d="M1055.5,968.5l-.5,3 .5,.5 1.5-.5-.5,2 2,1-.5,2.5 3,3 4.5,3 0,2.5 2.5-.5 4.5,1 1-1 2,5 2-4 .5,3 4.5,0 1.5,1 .5,2 2-4 .5,2.5 1,.5 .5,2 2-4 .5,2 6.5,0 1,2.5 0-1.5 1.5-1 11.5,0 .5-1 2,0 .5-1 1,2 10-3.5 5,1-1-2 7-5 4-6 2,0-2,0-.5-1 1.5-1-1-1 .5-2.5 1,0 .5,2.5 1-1 0-2-1-.5 0-1.5-2-2.5 0-2.5-1-.5 0-1.5-1-.5 0-1.5-1-.5 0-1.5-2-2.5 0-2.5-1-.5 0-1.5-1-.5 0-1.5-1-.5 0-1.5-1-.5 0-1.5-1-.5 0-1.5-1-.5 0-1.5-1-.5-2-5.5-2-2-1.5,0-7.5-7-1.5,0-3.5-4-2.5,3-4,0-.5-1-2.5,0-3.5-2-4,2-3.5,4-3.5,1-3.5,4-1.5,0-1,2.5-1.5,1.5-1.5,0-2,2 0,1.5-4,2.5 0,1.5-1,.5-2,5.5-2,1.5 0,1.5-2,1.5 0,1.5-2,1.5-1,3.5-2,1.5 0,1.5-2,1.5 0,1.5zM799.5,935.5l.5,7 2,3 10.5,6.5 10.5,2.5 15,1 15-3.5 7.5-4.5 5.5-5.5-1-10-4-4-2-.5 .5-1-2-2-14.5-4-4,0-.5-1-8,0-.5,1-6,0-1,1-5,0-1,1-3,.5-5.5,2.5-2.5,2.5-1.5,0-4,5zM529.5,883.5l.5,2 4,5 0,5.5 3,4 13.5,7.5 3.5-.5 3,1.5 8.5,.5 13.5,0 13-4.5 5-5.5 1.5-3.5 0-6 4-4 0-2-5-4.5 0-1.5-3-3-1.5,0-1.5-2-1.5,0-1.5-2-1.5,0-1.5-2-4.5-1-.5-1-9.5-1-.5-1-11,0-.5,1-9.5,1-3.5,3-1.5,0-1.5,2-1.5,0-1.5,2-1.5,0-4,4 0,1.5-3,2.5 .5,2.5zM995.5,849.5l-8-8-1.5,0-3.5-3.5-1-3.5-1,0-5,5-.5,3-9.5,1-.5,1-4.5,1-1,2.5-5,4.5-1.5,4.5 0,2.5 5,3.5 7,2 12.5-.5 4-3.5 5.5-2.5 1-2.5zM867.5,679.5l-2,4.5-2,1.5 0,1.5-2,1.5-1,3.5-4,4.5 0,1.5-1,.5 0,1.5-1,.5 0,1.5-2,2.5 0,2.5-2,2.5-1,5.5-2,2.5 0,2.5-1,.5-1,4.5-2,2.5-1,5.5-2,2.5 0,2.5-1,1 2.5,1 3.5,4 0,2-1.5,1.5 4-1.5 1,3.5-1.5,1 0,1 .5-1 1,0 .5,2 1,0 0-2.5 5,1 .5,2 2,0 2.5,2.5 1,3 1-1-1-.5 1-2 3,1 1-2 1.5,2.5 7,1 .5,2.5 2-4 .5,3 1.5-2 1,0 .5,1.5 1,.5 1-2 1,1 4,0 .5,1.5 .5-1 8-1.5 4-2 6,0 2-3 6-1.5 1.5-3 2.5,.5 .5,1-.5-2.5 1.5,0 1-2-2-1.5 2-.5-1-2 2-1-1-.5 1-1.5-1-2 1.5-.5 0-1-2-.5 1-2.5-2-.5 2.5-2.5 1.5,0 .5-2.5-3-3.5 0-1.5-2-1.5-1-3.5-2-1.5 0-1.5-1-.5 0-1.5-1-.5 0-1.5-1-.5 0-1.5-1-.5 0-1.5-1-.5 0-1.5-1-.5 0-1.5-1-.5 0-1.5-1-.5-2-5.5-4-4.5-4-7.5-12.5,0-.5-1z"/>
<path fill="#6c6cff" d="M821.5,930l1,1.5 9.5,3.5 9-.5 2-1 1.5-2-.5-2-5-4.5-5-1.5-7.5,1.5zM1060,962l0,3 2,.5-1,2 3,1-2,3 2.5-.5 9.5,6 1.5,0 1-2 .5,3 3,1 1.5-1 1.5,1.5 .5,1.5 1-2 .5,1 11.5,1.5 1.5-.5 1-2 1,4 1.5-2.5 2,3 0-1.5 2-1 10,.5 1-2 9.5-2 2-2 2.5-1 1.5-2.5 2-.5 3.5-5 2,.5-.5,1.5-1.5,0 5-1-2-2.5 0-2.5-1-.5 0-1.5-1-.5 0-1.5-1-.5 0-1.5-2-2.5 0-2.5-1-.5 0-1.5-1-.5 0-1.5-1-.5 0-1.5-1-.5 0-1.5-1-.5 0-1.5-1-.5 0-1.5-1-.5-2-5.5-2-2-1.5,0-3.5-4-1.5,0-2.5-3-1.5,0-3.5-4-2.5,3-4,0-.5-1-2.5,0-3.5-2-4,2-3.5,4-3.5,1-3.5,4-1.5,0-1,2.5-5,3.5 0,1.5-2,.5-2,2 0,1.5-1,.5-2,5.5-2,1.5 0,1.5-2,1.5 0,1.5-2,1.5 0,1.5-1,.5 0,1.5zM539,873.5l4,5-1.5,9.5 1.5,3 10,5 14,1.5 12-1 8-3 2.5-3 1.5-10 3.5-5.5-1.5-.5-2-2-5.5,5.5-1,0-.5-2 2-1-1-1.5 2-2.5-1.5-2.5-4.5-1-.5-1-9.5-1-.5-1-11,0-.5,1-9.5,1-3.5,3-1.5,0-1.5,2-1.5,0-1.5,2zM981.5,834.5l-1,0-5,5-.5,3-4.5,0-.5,1-4.5,0-.5,1-2.5,0-.5,1-1.5,0-1,4 6.5,2 5-.5 3-5.5-2,0-.5-1 1-1 4-.5 0-2 5.5-4zM867.5,679.5l-1,2.5-1,.5 0,1.5-4,4.5-1,3.5-4,4.5 0,1.5-1,.5 0,1.5-1,.5 0,1.5-2,2.5 0,2.5-2,2.5-1,5.5-2,2.5 0,2.5-2,2.5 0,2.5-1,.5-1,4.5-1,.5 4.5,1 3.5,6.5-1,1.5 2.5-.5 3.5,3 0,1.5 4-.5 4.5,3 2,0 .5,1.5 0-1.5 1-.5 1,1 0,2.5 .5-2 1-1 1.5,2 .5-1.5 1.5-.5 1,2 .5-1.5 1.5-.5 .5,2 2,.5 .5,1 .5-2 1.5,.5 0,1.5 1,0 0-1.5 1.5-.5 1,2 2.5-2.5 4.5,1 4-2 2.5,.5 4.5-2 3,0 2-1 1.5-2.5 5-1.5 2-4-.5-2 2-1-2-1 3-2-2-1 3-4.5 2.5-1.5-3-3.5-1-3.5-2-1.5 0-1.5-1-.5 0-1.5-1-.5 0-1.5-1-.5 0-1.5-1-.5 0-1.5-1-.5 0-1.5-1-.5 0-1.5-1-.5 0-1.5-1-.5-2-5.5-4-4.5 0-1.5-3-3.5 0-1.5-1-1-12.5,0-.5-1z"/>
<path fill="#7070ff" d="M1065.5,953.5l0,2 1.5,0-1,1.5 1,4 9.5,7 23,3 2,1 1.5-1 .5-2 2,4 1-2.5 6.5,.5 2-2 1.5,0 1-2 3,1.5 7-3.5 4.5-6 1.5,1 1.5-1.5-2-1.5 2-1.5-3-1 1.5-1.5 1.5,0 .5-1.5-1-.5 0-1.5-1-.5 0-1.5-1-.5 0-1.5-1-.5 0-1.5-1-.5 0-1.5-1-.5 0-1.5-1-.5-2-5.5-2-2-1.5,0-3.5-4-1.5,0-2.5-3-1.5,0-3.5-4-2.5,3-4,0-.5-1-2.5,0-3.5-2-4,2-3.5,4-3.5,1-3.5,4-1.5,0-1,2.5-1.5,1.5-1.5,0-2,2 0,1.5-2,.5-2,2 0,1.5-1,.5 0,1.5-1,.5 0,1.5-3,3.5 0,2.5zM550,866.5l1,3 0,2.5-1.5,3 .5,4 10.5,6 4,1 5-.5 12-4.5 0-3-5.5-7.5 .5-4-1-1-4.5,0-.5-1-11,0-.5,1-5.5,0-.5,1zM867.5,679.5l-1,2.5-1,.5 0,1.5-4,4.5-1,3.5-4,4.5 0,1.5-1,.5 0,1.5-1,.5 0,1.5-2,2.5 0,2.5-2,2.5-1,5.5-2,2.5 0,2.5 3.5,3-.5,1.5 2,1-1,2 1.5,0 3.5,3.5 6,2 4,3 2,0 1-1 .5,2 2,.5 .5,1 0-1.5 1.5-.5 .5,2 2.5-1.5 .5,2 2-3 1,2 15-1.5 11-4 4.5-3 2.5-5 0-2.5 1.5-.5-1-3.5 3.5-3.5-1-.5 0-1.5-1-.5 0-1.5-1-.5 0-1.5-1-.5 0-1.5-1-.5 0-1.5-1-.5 0-1.5-1-.5 0-1.5-1-.5 0-1.5-1-.5-2-5.5-4-4.5 0-1.5-3-3.5 0-1.5-1-1-12.5,0-.5-1z"/>
<path fill="#7474ff" d="M1072,941.5l0,3.5-1,1.5 1,1 0,2.5 1.5,2 5.5,4 8.5,3 14,2.5 4-.5 2,1 10-3.5 1,2 0-2 5.5-3 3-4 1.5-3.5 3-2.5 0-2-1-.5 0-1.5-1-.5 0-1.5-1-.5-2-5.5-2-2-1.5,0-3.5-4-1.5,0-2.5-3-1.5,0-3.5-4-2.5,3-4,0-.5-1-2.5,0-.5-1-2.5,0-.5-1-.5,1-3.5,1-3.5,4-3.5,1-3.5,4-1.5,0-1,2.5-1.5,1.5-1.5,0-2,2 0,1.5-2,.5zM851.5,707.5l4,2-.5,2 .5,3.5 4,6.5 14.5,5.5 1,0 .5-2 1,3 19-2 6-2 4.5-3.5 2-2.5 2-.5-1-1 0-2 2.5-1.5-1.5,0-1-1 5.5-3-1-2.5-1-.5 0-1.5-1-.5 0-1.5-1-.5 0-1.5-1-.5 0-1.5-1-.5 0-1.5-1-.5 0-1.5-1-.5 0-1.5-4-4.5 0-1.5-3-3.5 0-1.5-1-1-12.5,0-.5-1-18,0-1,2.5-1,.5 0,1.5-4,4.5-1,3.5-4,4.5 0,1.5-1,.5 0,1.5-1,.5 0,1.5-2,2.5 0,2.5z"/>
<path fill="#7878ff" d="M1077,938l0,1 1,.5 0,2 7.5,6 9,2.5 8,.5 15-3.5 2-2 3-8 4-3.5-2-2-1.5,0-3.5-4-1.5,0-2.5-3-1.5,0-3.5-4-2.5,3-4,0-.5-1-2.5,0-.5-1-2.5,0-.5-1-.5,1-3.5,1-3.5,4-3.5,1-3.5,4-1.5,0-1,2.5-2.5,1.5 0,2zM856.5,696.5l0,2 4.5,3.5-.5,6.5 1,2.5-1.5,1.5 2,0 .5-1 4,1 5,3 7,1.5 16.5-1.5 5.5-3.5 5-6 5-3.5 0-2-1-.5 0-1.5-1-.5-2-5.5-2-1.5 0-1.5-2-1.5-1-3.5-2-1.5-1-2.5-31-1-1,2.5-1,.5 0,1.5-4,4.5-1,3.5z"/>
<path fill="#7c7cff" d="M1084,931l1.5,.5 .5,2 5,4.5 9.5,.5 11.5-3 5.5-9-2-2-1.5,0-3.5-4-2.5,3-4,0-.5-1-2.5,0-.5-1-2.5,0-.5-1-.5,1-3.5,1-3.5,4-3.5,1zM865.5,682.5l0,2 4.5,6.5-2.5,8.5 .5,1.5 13.5,4.5 4-1 4.5,.5 5.5-2.5 2.5-4 0-4.5 5.5-5.5-1-.5-1-3.5-2-1.5-1-2.5-31-1-1,2.5z"/>
<path fill="#8080ff" d="M874,679.5l2,3.5 1,6.5 3,1.5 4,0 2-9-.5-2.5z"/>
</g></g>
<g id="spheres"><path fill="#cecece" fill-opacity="0.304" fill-rule="evenodd" d="M535,935l-2,1-4,0-2,1-2,0-9,3-15,7.5-13,10-9.5,10.5-11.5,19-6,17 0,3-2,7 0,7-1,2 0,11 1,2 0,7 1,2 1,8 4,12 7.5,15 7,10 13.5,13.5 10,7 11,5.5 8,3 2,0 6,2 4,0 2,1 19,0 2-1 4,0 5-2 10-20 0-1 6-14 13-20 5.5-6 2.5-5 3.5-3 1.5-4 2-1 5-1 4-2 2,0 5-2 3,0 2.5-1.5 1.5-4.5 0-11-1-2 0-7-1-2-1-8-7-19-10.5-17-9.5-10.5-13-10-15-7.5-9-3-2,0-2-1-4,0-2-1z"/>
<path fill="#cecece" fill-opacity="0.304" fill-rule="evenodd" d="M535,935l-2,1-8,1-10,3.5-13,6.5-14,11-9,10-11.5,18-6.5,18 0,3-2,7 0,7-1,2 0,11 1,2 0,7 1,2 1,8 4.5,13 6.5,13 8,11 13,13 11,8 9,4.5 9,3.5 14,3 19,0 2-1 7.5-1 1.5-1.5 14.5-29.5 .5-7 2-4 14-21 2-2 3.5-1 7-9 16.5-5 3,0 2.5-2 1.5-4 0-11-1-2 0-7-1-2-1-8-7.5-20-10.5-16-9-10-14-11-13-6.5-10-3.5-8-1-2-1zM557,985l3,0 7,2.5 11.5,11.5 2.5,4 1,3 0,4 3,7 0,11-4,14-3.5,7-6.5,6.5-7,2.5-7,0-6-4-4-2-2-2-2-3-3-4-5-10 0-7-1-2 1-12 3.5-7 .5-3 2-4 3.5-5 6.5-6.5z"/>
<path fill="#3d3d3d" d="M550,1013l-4.5-.5-4.5,.5-3,1.5-4.5,4.5-2.5,5 0,9 2.5,5 3.5,3.5 5,2.5 7,0 5-2.5 3.5-3.5 2.5-5 0-9-2.5-5-4.5-4.5z"/>
<path fill="#cecece" fill-opacity="0.304" fill-rule="evenodd" d="M917,938l-2,1-9,1-9,3-15,7.5-11,8-8.5,8.5-7,9-9.5,18-5,15 0,3-1,2 0,5-1,2 0,21 1,2 0,5 1,2 1,7 7.5,19 8,13 14.5,15.5 13,9 17,7.5 2,0 6,2 3,0 2,1 22,0 2-1 3,0 2-1 9-2 19-9.5 8-6 14.5-15.5 9.5-16 6-16 1-7 1-2 0-5 1-2 0-21-1-2 0-5-1-2 0-2-1-2-2-9-8.5-18-10-14-8.5-8.5-2-.5-3-3.5-13-8-14-5.5-2,0-6-2-4,0-2-1z"/>
<path fill="#cecece" fill-opacity="0.304" fill-rule="evenodd" d="M917,938l-2,1-9,1-18,7-17,12-12,13-7,10-5.5,11-5.5,16-1,10-1,2 0,21 1,2 0,5 2,9 7,18 9,14 14,15 14,10 16,7 13,3 22,0 17-4.5 17-8.5 9-7 14-15 9.5-15 6.5-17 2-9 0-5 1-2 0-21-4-19-3.5-9-5.5-11-11-15-8-8-5-4-13-8-14-6-14-3zM874,1006l7-2 8,0 7,2 7,4.5 10.5,10.5 3,4 9.5,16 4,15 1,5-1,11-1,4-5.5,9-5.5,5.5-6,3.5-8,2-5,0-2-1-3,0-10-4-4-2.5-9.5-9.5-4.5-7-6-13-1-9-1-2 0-14 1-2 0-3 5-12 4.5-7z"/>
<path fill="#3d3d3d" d="M922,1016l-6,3.5-2.5,3.5-2.5,6 0,5 3.5,8 2.5,2.5 5,2.5 2,0 2,1 2-1 2,0 5-2.5 2.5-2.5 3.5-8 0-5-2.5-6-2.5-3.5-6-3.5z"/>
<path fill="#cecece" fill-opacity="0.304" fill-rule="evenodd" d="M1140,854.5l-6-4-13-6.5-17-5-6,0-2-1-11,0-2,1-6,0-17,5-13,6.5-11,8-13.5,14.5-6,9-5.5,11-4,11 0,2-2,6 0,4-1,2 0,7-1,2 0,10 1,2 0,7 1,2 0,4 1,2 1,6 4,11 5.5,11 6,9 9.5,10.5 2,.5 2.5-2 12.5-23 2.5-2 5.5-11 10.5-15 3.5-8 6-6 2-.5 2-3.5 15-10 4,0 5,2 3,0 16,13 18.5,40 3.5,2 3,7 0,1 3,6 .5,2.5 2.5,0 3.5-3.5 6-9 5.5-11 4-11 0-2 2-6 0-4 1-2 0-7 1-2 0-10-1-2 0-7-1-2 0-4-1-2 0-2-3-10-7.5-16-10-14z"/>
<path fill="#cecece" fill-opacity="0.304" fill-rule="evenodd" d="M1140,855l-7-5-11-5.5-18-5.5-6,0-2-1-11,0-2,1-6,0-18,5.5-11,5.5-12,9-13,14-7,10-4.5,9-4.5,12-3,14 0,7-1,2 0,10 1,2 0,7 1,2 0,4 2,8 4.5,12 4.5,9 7,10 9,10 2.5,.5 2.5-2.5 9-16 22-35 3.5-7 14.5-13.5 10-6.5 4,0 8,2.5 15.5,12.5 9.5,18 9,21 4,4 6.5,15 2,.5 3.5-3.5 7-10 4.5-9 4.5-12 2-8 0-4 1-2 0-7 1-2 0-10-1-2 0-7-3-14-2.5-7-6.5-14-11-15z"/>
<path fill="#3d3d3d" d="M1100,920l-3-2.5-4-1.5-5,0-4,1.5-4.5,3.5-2.5,4-1,3 0,7 3-.5 2-3.5 2-.5 3-3.5 4-1.5 3-3.5 4-2 3,1z"/></g>
<g id="paths"><path d="M249.9,526.6C257.4,535 281.2,562.2 294.7,577C308.2,591.8 318.6,603.2 331,615.5C343.4,627.8 357.9,641.1 369.4,651C380.9,660.9 389.6,667.6 400,675C410.4,682.4 420.1,689.1 431.6,695.6C443.1,702.1 456.8,708.7 469,714C481.2,719.3 493.4,724 505,727.5C516.6,731 528.1,734.6 538.7,735.2C549.3,735.8 558.3,733.3 568.5,731C578.7,728.7 586.5,726.4 600,721.5C613.5,716.6 631.1,708 649.8,701.6C668.5,695.2 697.1,687.3 712,683.4C726.9,679.5 729,679.9 739.4,678C749.8,676.1 760.2,673.9 774.3,672C788.4,670.1 807.4,667.7 824,666.7C840.6,665.7 857.7,665.7 873.9,666C890.1,666.3 904.6,667.1 921.2,668.5C937.8,669.9 960.3,672.6 973.4,674.5C986.5,676.4 987.3,677.5 1000,679.8C1012.7,682.1 1033.2,685 1049.8,688.5C1066.4,692 1089.6,698.4 1099.6,701C1109.6,703.6 1108.3,703.6 1110,704.1" fill="none" stroke="#000000" stroke-width="14" stroke-linecap="butt" stroke-linejoin="round"/><path d="M249.9,526.6C257.4,535.3 281.2,563.8 294.7,579C308.2,594.2 318.6,605.6 331,618C343.4,630.4 357.9,643.7 369.4,653.5C380.9,663.3 389.6,669.8 400,677C410.4,684.2 420.1,690.4 431.6,696.6C443.1,702.8 454.5,708.4 469,714C483.5,719.6 510.3,727.3 518.8,730C527.3,732.7 519.8,730.2 520,730.2" fill="none" stroke="#ff0000" stroke-width="14" stroke-linecap="butt" stroke-linejoin="round"/><path d="M478,717.4C482.5,719.1 494.9,724.5 505,727.5C515.1,730.5 533,733.9 538.7,735.2C544.4,736.5 539,735.2 539,735.2" fill="none" stroke="#000000" stroke-width="14" stroke-linecap="butt" stroke-linejoin="round"/><path d="M538.5,734C543.5,735 558.2,738.1 568.5,740C578.8,741.9 588.1,744.2 600,745.5C611.9,746.8 627.5,747.4 640,748C652.5,748.6 658.1,749 674.7,748.9C691.3,748.8 714.5,748.3 739.4,747.6C764.3,746.9 793.7,745.8 824,744.9C854.3,744 903.5,742.8 921.2,742.4C938.9,742 928.5,742.4 930,742.4" fill="none" stroke="#ff0000" stroke-width="14" stroke-linecap="butt" stroke-linejoin="round"/><path d="M249.9,526.6C257.4,534.2 278.9,556.7 294.7,572.2C310.5,587.7 327.9,603.6 344.5,619.5C361.1,635.4 377.7,652.8 394.3,667.5C410.9,682.2 427.4,695.8 444,708C460.6,720.2 477.3,730.8 493.9,740.5C510.5,750.2 526.4,758.4 543.6,766C560.8,773.6 580.1,781.6 597,786C613.9,790.4 627.9,791.8 645,792.5C662.1,793.2 682.2,791.9 699.6,790C717,788.1 734.9,784.2 749.4,781.3C763.9,778.4 774.3,775.6 786.7,772.6C799.1,769.6 809.5,766.8 824,763C838.5,759.2 857.7,754 873.9,750C890.1,746 911.6,741 921,739C930.4,737 928.5,738.1 930,738" fill="none" stroke="#ff00ff" stroke-width="14" stroke-linecap="butt" stroke-linejoin="round"/><path d="M249.9,526.6C257.4,534.2 278.9,556.7 294.7,572.2C310.5,587.7 327.9,603.5 344.5,619.5C361.1,635.5 377.7,653.1 394.3,668C410.9,682.9 427.4,696.5 444,709C460.6,721.5 477.3,732.4 493.9,742.7C510.5,753 526.4,762.4 543.6,770.8C560.8,779.2 580.1,788.1 597,793C613.9,797.9 627.9,799.3 645,800.2C662.1,801.1 682.2,800.4 699.6,798.4C717,796.4 734.9,791.7 749.4,788.5C763.9,785.3 774.3,782.5 786.7,779.3C799.1,776.1 809.5,773.4 824,769.3C838.5,765.1 857.7,759.2 873.9,754.4C890.1,749.6 911.6,743.1 921,740.5C930.4,737.9 928.5,739.1 930,738.8" fill="none" stroke="#00ff00" stroke-width="14" stroke-linecap="butt" stroke-linejoin="round"/><path d="M900,746.7C903.5,745.7 911,742.8 921,740.5C931,738.2 946.8,734.9 960,733C973.2,731.1 985,729.8 1000,729.2C1015,728.6 1033.2,728.8 1049.8,729.4C1066.4,730 1086.2,731.2 1099.6,732.6C1113,734 1124.9,736.9 1130,737.7" fill="none" stroke="#00ff00" stroke-width="14" stroke-linecap="butt" stroke-linejoin="round"/><path d="M900,743.9C903.5,743.1 911,740.6 921,739C931,737.4 946.8,735.5 960,734.5C973.2,733.5 985,733.4 1000,733.2C1015,733.1 1033.2,733 1049.8,733.6C1066.4,734.2 1086.2,735.6 1099.6,737C1113,738.4 1124.9,741.1 1130,741.9" fill="none" stroke="#ff00ff" stroke-width="14" stroke-linecap="butt" stroke-linejoin="round"/><path d="M895,743.1C899.4,743 903.7,742.5 921.2,742.4C938.7,742.3 978.6,742.2 1000,742.6C1021.4,743 1033.2,743.5 1049.8,745C1066.4,746.5 1083,748.9 1099.6,751.3C1116.2,753.7 1132.8,756.6 1149.4,759.5C1166,762.4 1182.6,765.2 1199.2,768.7C1215.8,772.2 1232.4,776.8 1249,780.7C1265.6,784.6 1283.6,788.9 1298.8,792.3C1314,795.7 1329,798.9 1340,801.2C1351,803.5 1358.3,804.9 1365,806.3C1371.7,807.6 1377.7,808.8 1380.2,809.3" fill="none" stroke="#ff0000" stroke-width="14" stroke-linecap="butt" stroke-linejoin="round"/></g>
<g id="cubeA"><polygon points="426.1,889.6 496,860.9 496,778.8 442.4,741.3 372.5,770.1 372.5,852.1" fill="#ff0000" fill-opacity="0.39"/><line x1="442.4" y1="823.4" x2="442.4" y2="741.3" stroke="#000" stroke-width="2.4" stroke-linecap="round"/><line x1="442.4" y1="823.4" x2="372.5" y2="852.1" stroke="#000" stroke-width="2.4" stroke-linecap="round"/><line x1="442.4" y1="823.4" x2="496" y2="860.9" stroke="#000" stroke-width="2.4" stroke-linecap="round"/><polygon points="426.1,889.6 496,860.9 496,778.8 442.4,741.3 372.5,770.1 372.5,852.1" fill="#ff0000" fill-opacity="0.39"/><polygon points="426.1,889.6 496,860.9 496,778.8 442.4,741.3 372.5,770.1 372.5,852.1" fill="none" stroke="#000" stroke-width="2.6" stroke-linejoin="round"/><line x1="426.1" y1="807.6" x2="426.1" y2="889.6" stroke="#000" stroke-width="2.6" stroke-linecap="round"/><line x1="426.1" y1="807.6" x2="496" y2="778.8" stroke="#000" stroke-width="2.6" stroke-linecap="round"/><line x1="426.1" y1="807.6" x2="372.5" y2="770.1" stroke="#000" stroke-width="2.6" stroke-linecap="round"/></g>
<g id="cubeB"><polygon points="648.6,776.5 713.6,749.8 713.6,673.4 663.7,638.5 598.7,665.3 598.7,741.6" fill="#ff0000" fill-opacity="0.39"/><line x1="663.7" y1="714.9" x2="663.7" y2="638.5" stroke="#000" stroke-width="2.4" stroke-linecap="round"/><line x1="663.7" y1="714.9" x2="598.7" y2="741.6" stroke="#000" stroke-width="2.4" stroke-linecap="round"/><line x1="663.7" y1="714.9" x2="713.6" y2="749.8" stroke="#000" stroke-width="2.4" stroke-linecap="round"/><polygon points="648.6,776.5 713.6,749.8 713.6,673.4 663.7,638.5 598.7,665.3 598.7,741.6" fill="#ff0000" fill-opacity="0.39"/><polygon points="648.6,776.5 713.6,749.8 713.6,673.4 663.7,638.5 598.7,665.3 598.7,741.6" fill="none" stroke="#000" stroke-width="2.6" stroke-linejoin="round"/><line x1="648.6" y1="700.1" x2="648.6" y2="776.5" stroke="#000" stroke-width="2.6" stroke-linecap="round"/><line x1="648.6" y1="700.1" x2="713.6" y2="673.4" stroke="#000" stroke-width="2.6" stroke-linecap="round"/><line x1="648.6" y1="700.1" x2="598.7" y2="665.3" stroke="#000" stroke-width="2.6" stroke-linecap="round"/></g>
<g id="cubeC"><polygon points="818.7,798.8 922.7,756 922.7,633.8 842.9,578 738.9,620.8 738.9,743" fill="#ff0000" fill-opacity="0.39"/><line x1="842.9" y1="700.2" x2="842.9" y2="578" stroke="#000" stroke-width="2.4" stroke-linecap="round"/><line x1="842.9" y1="700.2" x2="738.9" y2="743" stroke="#000" stroke-width="2.4" stroke-linecap="round"/><line x1="842.9" y1="700.2" x2="922.7" y2="756" stroke="#000" stroke-width="2.4" stroke-linecap="round"/><polygon points="818.7,798.8 922.7,756 922.7,633.8 842.9,578 738.9,620.8 738.9,743" fill="#ff0000" fill-opacity="0.39"/><polygon points="818.7,798.8 922.7,756 922.7,633.8 842.9,578 738.9,620.8 738.9,743" fill="none" stroke="#000" stroke-width="2.6" stroke-linejoin="round"/><line x1="818.7" y1="676.6" x2="818.7" y2="798.8" stroke="#000" stroke-width="2.6" stroke-linecap="round"/><line x1="818.7" y1="676.6" x2="922.7" y2="633.8" stroke="#000" stroke-width="2.6" stroke-linecap="round"/><line x1="818.7" y1="676.6" x2="738.9" y2="620.8" stroke="#000" stroke-width="2.6" stroke-linecap="round"/></g>
<g id="cubeD"><polygon points="1124.3,658.5 1228.3,615.7 1228.3,493.5 1148.5,437.7 1044.5,480.5 1044.5,602.7" fill="#ff0000" fill-opacity="0.39"/><line x1="1148.5" y1="559.9" x2="1148.5" y2="437.7" stroke="#000" stroke-width="2.4" stroke-linecap="round"/><line x1="1148.5" y1="559.9" x2="1044.5" y2="602.7" stroke="#000" stroke-width="2.4" stroke-linecap="round"/><line x1="1148.5" y1="559.9" x2="1228.3" y2="615.7" stroke="#000" stroke-width="2.4" stroke-linecap="round"/><polygon points="1124.3,658.5 1228.3,615.7 1228.3,493.5 1148.5,437.7 1044.5,480.5 1044.5,602.7" fill="#ff0000" fill-opacity="0.39"/><polygon points="1124.3,658.5 1228.3,615.7 1228.3,493.5 1148.5,437.7 1044.5,480.5 1044.5,602.7" fill="none" stroke="#000" stroke-width="2.6" stroke-linejoin="round"/><line x1="1124.3" y1="536.3" x2="1124.3" y2="658.5" stroke="#000" stroke-width="2.6" stroke-linecap="round"/><line x1="1124.3" y1="536.3" x2="1228.3" y2="493.5" stroke="#000" stroke-width="2.6" stroke-linecap="round"/><line x1="1124.3" y1="536.3" x2="1044.5" y2="480.5" stroke="#000" stroke-width="2.6" stroke-linecap="round"/></g>
<g id="cubeE"><polygon points="1166.2,760.2 1235.8,731.6 1235.8,649.9 1182.4,612.5 1112.8,641.1 1112.8,722.9" fill="#ff0000" fill-opacity="0.39"/><line x1="1182.4" y1="694.2" x2="1182.4" y2="612.5" stroke="#000" stroke-width="2.4" stroke-linecap="round"/><line x1="1182.4" y1="694.2" x2="1112.8" y2="722.9" stroke="#000" stroke-width="2.4" stroke-linecap="round"/><line x1="1182.4" y1="694.2" x2="1235.8" y2="731.6" stroke="#000" stroke-width="2.4" stroke-linecap="round"/><polygon points="1166.2,760.2 1235.8,731.6 1235.8,649.9 1182.4,612.5 1112.8,641.1 1112.8,722.9" fill="#ff0000" fill-opacity="0.39"/><polygon points="1166.2,760.2 1235.8,731.6 1235.8,649.9 1182.4,612.5 1112.8,641.1 1112.8,722.9" fill="none" stroke="#000" stroke-width="2.6" stroke-linejoin="round"/><line x1="1166.2" y1="678.5" x2="1166.2" y2="760.2" stroke="#000" stroke-width="2.6" stroke-linecap="round"/><line x1="1166.2" y1="678.5" x2="1235.8" y2="649.9" stroke="#000" stroke-width="2.6" stroke-linecap="round"/><line x1="1166.2" y1="678.5" x2="1112.8" y2="641.1" stroke="#000" stroke-width="2.6" stroke-linecap="round"/></g>
<g id="paths2"><path d="M1100,701.1C1108.2,703.6 1132.9,710.8 1149.4,716C1165.9,721.2 1182.6,726.8 1199.2,732.6C1215.8,738.4 1232.2,744.4 1249,750.8C1265.8,757.2 1284.8,764.7 1300,771C1315.2,777.3 1329.2,783.6 1340,788.5C1350.8,793.4 1358.3,797 1365,800.5C1371.7,804 1377.7,807.8 1380.2,809.3" fill="none" stroke="#000000" stroke-width="14" stroke-linecap="butt" stroke-linejoin="round"/><path d="M1120,736C1124.9,736.9 1136.2,738.6 1149.4,741C1162.6,743.4 1182.6,746.8 1199.2,750.5C1215.8,754.2 1232.2,758.8 1249,763.5C1265.8,768.2 1284.8,773.7 1300,778.5C1315.2,783.3 1329.2,788.5 1340,792.5C1350.8,796.5 1358.3,799.7 1365,802.5C1371.7,805.3 1377.7,808.2 1380.2,809.3" fill="none" stroke="#00ff00" stroke-width="14" stroke-linecap="butt" stroke-linejoin="round"/><path d="M1120,740.3C1124.9,741.1 1136.2,742.6 1149.4,745C1162.6,747.4 1184.1,751.3 1199.2,754.5C1214.3,757.7 1233.2,762.7 1240,764.3" fill="none" stroke="#ff00ff" stroke-width="14" stroke-linecap="butt" stroke-linejoin="round"/><path d="M1238,763.8C1239.8,764.3 1238.7,763.9 1249,766.5C1259.3,769.1 1284.8,775.1 1300,779.5C1315.2,783.9 1329.2,789.1 1340,793C1350.8,796.9 1358.3,800.3 1365,803C1371.7,805.7 1377.7,808.2 1380.2,809.3" fill="none" stroke="#ff00ff" stroke-width="14" stroke-linecap="butt" stroke-linejoin="round" stroke-dasharray="7 5"/><path d="M1100,751.4C1108.2,752.7 1132.9,756.6 1149.4,759.5C1165.9,762.4 1182.6,765.2 1199.2,768.7C1215.8,772.2 1232.4,776.8 1249,780.7C1265.6,784.6 1283.6,788.9 1298.8,792.3C1314,795.7 1329,798.9 1340,801.2C1351,803.5 1358.3,804.9 1365,806.3C1371.7,807.6 1377.7,808.8 1380.2,809.3" fill="none" stroke="#ff0000" stroke-width="14" stroke-linecap="butt" stroke-linejoin="round"/></g>
<g id="cubeF"><polygon points="1242.7,908 1313,879.1 1313,796.6 1259.1,758.9 1188.8,787.8 1188.8,870.3" fill="#ff0000" fill-opacity="0.39"/><line x1="1259.1" y1="841.4" x2="1259.1" y2="758.9" stroke="#000" stroke-width="2.4" stroke-linecap="round"/><line x1="1259.1" y1="841.4" x2="1188.8" y2="870.3" stroke="#000" stroke-width="2.4" stroke-linecap="round"/><line x1="1259.1" y1="841.4" x2="1313" y2="879.1" stroke="#000" stroke-width="2.4" stroke-linecap="round"/><polygon points="1242.7,908 1313,879.1 1313,796.6 1259.1,758.9 1188.8,787.8 1188.8,870.3" fill="#ff0000" fill-opacity="0.39"/><polygon points="1242.7,908 1313,879.1 1313,796.6 1259.1,758.9 1188.8,787.8 1188.8,870.3" fill="none" stroke="#000" stroke-width="2.6" stroke-linejoin="round"/><line x1="1242.7" y1="825.5" x2="1242.7" y2="908" stroke="#000" stroke-width="2.6" stroke-linecap="round"/><line x1="1242.7" y1="825.5" x2="1313" y2="796.6" stroke="#000" stroke-width="2.6" stroke-linecap="round"/><line x1="1242.7" y1="825.5" x2="1188.8" y2="787.8" stroke="#000" stroke-width="2.6" stroke-linecap="round"/></g>
<g id="markers"><ellipse cx="250.4" cy="526.8" rx="25.8" ry="28.2" fill="none" stroke="#ff0000" stroke-width="2"/><ellipse cx="250" cy="526.6" rx="5.3" ry="5.8" fill="#ff0000"/><polygon points="1381,753.5 1335.5,838 1427.5,838" fill="none" stroke="#ff0000" stroke-width="2" stroke-linejoin="miter"/><ellipse cx="1380.5" cy="809.3" rx="5.6" ry="6.1" fill="#000"/></g>
<g id="labels"><text transform="translate(197.2,1149.2) scale(0.92,1)" font-size="82" fill="#262626" text-anchor="end">0</text><text transform="translate(725.6,1591.3) scale(0.92,1)" font-size="82" fill="#262626" text-anchor="end">0</text><text transform="translate(769.8,1596.7) scale(0.92,1)" font-size="82" fill="#262626">0</text><text transform="translate(197.2,986.7) scale(0.92,1)" font-size="82" fill="#262626" text-anchor="end">10</text><text transform="translate(619.5,1517.1) scale(0.92,1)" font-size="82" fill="#262626" text-anchor="end">10</text><text transform="translate(908.2,1539.8) scale(0.92,1)" font-size="82" fill="#262626">10</text><text transform="translate(197.2,824.3) scale(0.92,1)" font-size="82" fill="#262626" text-anchor="end">20</text><text transform="translate(513.3,1442.9) scale(0.92,1)" font-size="82" fill="#262626" text-anchor="end">20</text><text transform="translate(1046.5,1482.9) scale(0.92,1)" font-size="82" fill="#262626">20</text><text transform="translate(197.2,661.8) scale(0.92,1)" font-size="82" fill="#262626" text-anchor="end">30</text><text transform="translate(407.2,1368.6) scale(0.92,1)" font-size="82" fill="#262626" text-anchor="end">30</text><text transform="translate(1184.9,1426) scale(0.92,1)" font-size="82" fill="#262626">30</text><text transform="translate(197.2,499.4) scale(0.92,1)" font-size="82" fill="#262626" text-anchor="end">40</text><text transform="translate(301,1294.4) scale(0.92,1)" font-size="82" fill="#262626" text-anchor="end">40</text><text transform="translate(1323.2,1369.1) scale(0.92,1)" font-size="82" fill="#262626">40</text><text transform="translate(197.2,336.9) scale(0.92,1)" font-size="82" fill="#262626" text-anchor="end">50</text><text transform="translate(194.9,1220.2) scale(0.92,1)" font-size="82" fill="#262626" text-anchor="end">50</text><text transform="translate(1461.6,1312.2) scale(0.92,1)" font-size="82" fill="#262626">50</text><text transform="translate(81.6,727.6) scale(0.92,1) rotate(-90)" font-size="90" fill="#262626" text-anchor="middle"><tspan font-style="italic">z</tspan>/m</text><text transform="translate(367.5,1607.7) scale(0.945,1)" font-size="90" fill="#262626" text-anchor="middle"><tspan font-style="italic">y</tspan>/m</text><text transform="translate(1167.2,1628.9) scale(0.95,1)" font-size="90" fill="#262626" text-anchor="middle"><tspan font-style="italic">x</tspan>/m</text></g>
<g id="ann"><text transform="translate(301.5,450.8) scale(0.907,1)" font-size="82" fill="#000">Starting</text><text transform="translate(301.5,541.2) scale(0.92,1)" font-size="82" fill="#000">point</text><text transform="translate(1446,782) scale(0.92,1)" font-size="82" fill="#000">End</text><text transform="translate(1446,876) scale(0.92,1)" font-size="82" fill="#000">point</text></g>
<g id="legend"><rect x="1337" y="50.9" width="160" height="14" fill="#000000"/><text transform="translate(1509.3,83.5) scale(0.903,1)" font-size="73.8" fill="#000">WOA</text><rect x="1337" y="139.3" width="160" height="14" fill="#00ff00"/><text transform="translate(1509.3,171.9) scale(0.903,1)" font-size="73.8" fill="#000">GWO</text><rect x="1337" y="227.8" width="160" height="14" fill="#ff0000"/><text transform="translate(1509.3,260.4) scale(0.903,1)" font-size="73.8" fill="#000">SSA</text><rect x="1337" y="315.9" width="160" height="14" fill="#ff00ff"/><text transform="translate(1509.3,348.5) scale(0.903,1)" font-size="73.8" fill="#000">ISSA</text></g>
</svg></body></html>
